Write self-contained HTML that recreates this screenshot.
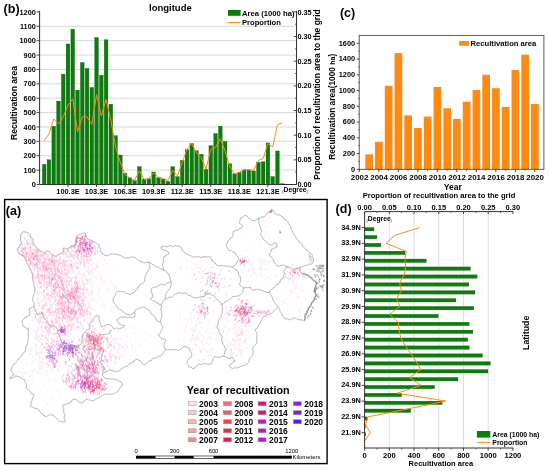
<!DOCTYPE html>
<html lang="en"><head><meta charset="utf-8"><title>Recultivation figure</title>
<style>html,body{margin:0;padding:0;background:#fff}body{width:550px;height:471px;overflow:hidden;font-family:"Liberation Sans",sans-serif}svg{display:block}</style>
</head><body>
<svg width="550" height="471" viewBox="0 0 550 471" font-family="Liberation Sans, sans-serif">
<rect width="550" height="471" fill="#fff"/>
<line x1="39.6" y1="170.12" x2="296.5" y2="170.12" stroke="#d4d4d4" stroke-width="0.9"/>
<line x1="39.6" y1="155.73" x2="296.5" y2="155.73" stroke="#d4d4d4" stroke-width="0.9"/>
<line x1="39.6" y1="141.35" x2="296.5" y2="141.35" stroke="#d4d4d4" stroke-width="0.9"/>
<line x1="39.6" y1="126.97" x2="296.5" y2="126.97" stroke="#d4d4d4" stroke-width="0.9"/>
<line x1="39.6" y1="112.58" x2="296.5" y2="112.58" stroke="#d4d4d4" stroke-width="0.9"/>
<line x1="39.6" y1="98.20" x2="296.5" y2="98.20" stroke="#d4d4d4" stroke-width="0.9"/>
<line x1="39.6" y1="83.82" x2="296.5" y2="83.82" stroke="#d4d4d4" stroke-width="0.9"/>
<line x1="39.6" y1="69.43" x2="296.5" y2="69.43" stroke="#d4d4d4" stroke-width="0.9"/>
<line x1="39.6" y1="55.05" x2="296.5" y2="55.05" stroke="#d4d4d4" stroke-width="0.9"/>
<line x1="39.6" y1="40.67" x2="296.5" y2="40.67" stroke="#d4d4d4" stroke-width="0.9"/>
<line x1="39.6" y1="26.28" x2="296.5" y2="26.28" stroke="#d4d4d4" stroke-width="0.9"/>
<rect x="42.35" y="164.36" width="3.7" height="20.14" fill="#0a7d0a" stroke="#0b5e0b" stroke-width="0.3"/>
<rect x="47.11" y="159.76" width="3.7" height="24.74" fill="#0a7d0a" stroke="#0b5e0b" stroke-width="0.3"/>
<rect x="51.87" y="126.25" width="3.7" height="58.25" fill="#0a7d0a" stroke="#0b5e0b" stroke-width="0.3"/>
<rect x="56.63" y="101.08" width="3.7" height="83.42" fill="#0a7d0a" stroke="#0b5e0b" stroke-width="0.3"/>
<rect x="61.39" y="74.18" width="3.7" height="110.32" fill="#0a7d0a" stroke="#0b5e0b" stroke-width="0.3"/>
<rect x="66.15" y="43.97" width="3.7" height="140.53" fill="#0a7d0a" stroke="#0b5e0b" stroke-width="0.3"/>
<rect x="70.91" y="29.16" width="3.7" height="155.34" fill="#0a7d0a" stroke="#0b5e0b" stroke-width="0.3"/>
<rect x="75.67" y="90.15" width="3.7" height="94.35" fill="#0a7d0a" stroke="#0b5e0b" stroke-width="0.3"/>
<rect x="80.43" y="62.53" width="3.7" height="121.97" fill="#0a7d0a" stroke="#0b5e0b" stroke-width="0.3"/>
<rect x="85.19" y="68.43" width="3.7" height="116.07" fill="#0a7d0a" stroke="#0b5e0b" stroke-width="0.3"/>
<rect x="89.95" y="87.41" width="3.7" height="97.09" fill="#0a7d0a" stroke="#0b5e0b" stroke-width="0.3"/>
<rect x="94.71" y="37.50" width="3.7" height="147.00" fill="#0a7d0a" stroke="#0b5e0b" stroke-width="0.3"/>
<rect x="99.47" y="75.19" width="3.7" height="109.31" fill="#0a7d0a" stroke="#0b5e0b" stroke-width="0.3"/>
<rect x="104.23" y="39.80" width="3.7" height="144.70" fill="#0a7d0a" stroke="#0b5e0b" stroke-width="0.3"/>
<rect x="108.99" y="104.24" width="3.7" height="80.26" fill="#0a7d0a" stroke="#0b5e0b" stroke-width="0.3"/>
<rect x="113.75" y="135.60" width="3.7" height="48.90" fill="#0a7d0a" stroke="#0b5e0b" stroke-width="0.3"/>
<rect x="118.51" y="155.01" width="3.7" height="29.49" fill="#0a7d0a" stroke="#0b5e0b" stroke-width="0.3"/>
<rect x="123.27" y="173.28" width="3.7" height="11.22" fill="#0a7d0a" stroke="#0b5e0b" stroke-width="0.3"/>
<rect x="128.03" y="177.60" width="3.7" height="6.90" fill="#0a7d0a" stroke="#0b5e0b" stroke-width="0.3"/>
<rect x="132.79" y="180.62" width="3.7" height="3.88" fill="#0a7d0a" stroke="#0b5e0b" stroke-width="0.3"/>
<rect x="137.55" y="166.66" width="3.7" height="17.84" fill="#0a7d0a" stroke="#0b5e0b" stroke-width="0.3"/>
<rect x="142.31" y="179.03" width="3.7" height="5.47" fill="#0a7d0a" stroke="#0b5e0b" stroke-width="0.3"/>
<rect x="147.07" y="178.75" width="3.7" height="5.75" fill="#0a7d0a" stroke="#0b5e0b" stroke-width="0.3"/>
<rect x="151.83" y="171.99" width="3.7" height="12.51" fill="#0a7d0a" stroke="#0b5e0b" stroke-width="0.3"/>
<rect x="156.59" y="177.74" width="3.7" height="6.76" fill="#0a7d0a" stroke="#0b5e0b" stroke-width="0.3"/>
<rect x="161.35" y="179.03" width="3.7" height="5.47" fill="#0a7d0a" stroke="#0b5e0b" stroke-width="0.3"/>
<rect x="166.11" y="181.34" width="3.7" height="3.16" fill="#0a7d0a" stroke="#0b5e0b" stroke-width="0.3"/>
<rect x="170.87" y="166.66" width="3.7" height="17.84" fill="#0a7d0a" stroke="#0b5e0b" stroke-width="0.3"/>
<rect x="175.63" y="176.59" width="3.7" height="7.91" fill="#0a7d0a" stroke="#0b5e0b" stroke-width="0.3"/>
<rect x="180.39" y="160.34" width="3.7" height="24.16" fill="#0a7d0a" stroke="#0b5e0b" stroke-width="0.3"/>
<rect x="185.15" y="149.55" width="3.7" height="34.95" fill="#0a7d0a" stroke="#0b5e0b" stroke-width="0.3"/>
<rect x="189.91" y="143.51" width="3.7" height="40.99" fill="#0a7d0a" stroke="#0b5e0b" stroke-width="0.3"/>
<rect x="194.67" y="150.70" width="3.7" height="33.80" fill="#0a7d0a" stroke="#0b5e0b" stroke-width="0.3"/>
<rect x="199.43" y="154.29" width="3.7" height="30.21" fill="#0a7d0a" stroke="#0b5e0b" stroke-width="0.3"/>
<rect x="204.19" y="169.40" width="3.7" height="15.10" fill="#0a7d0a" stroke="#0b5e0b" stroke-width="0.3"/>
<rect x="208.95" y="145.66" width="3.7" height="38.84" fill="#0a7d0a" stroke="#0b5e0b" stroke-width="0.3"/>
<rect x="213.71" y="133.58" width="3.7" height="50.92" fill="#0a7d0a" stroke="#0b5e0b" stroke-width="0.3"/>
<rect x="218.47" y="126.25" width="3.7" height="58.25" fill="#0a7d0a" stroke="#0b5e0b" stroke-width="0.3"/>
<rect x="223.23" y="141.49" width="3.7" height="43.01" fill="#0a7d0a" stroke="#0b5e0b" stroke-width="0.3"/>
<rect x="227.99" y="163.79" width="3.7" height="20.71" fill="#0a7d0a" stroke="#0b5e0b" stroke-width="0.3"/>
<rect x="232.75" y="173.86" width="3.7" height="10.64" fill="#0a7d0a" stroke="#0b5e0b" stroke-width="0.3"/>
<rect x="237.51" y="172.42" width="3.7" height="12.08" fill="#0a7d0a" stroke="#0b5e0b" stroke-width="0.3"/>
<rect x="242.27" y="170.12" width="3.7" height="14.38" fill="#0a7d0a" stroke="#0b5e0b" stroke-width="0.3"/>
<rect x="247.03" y="170.26" width="3.7" height="14.24" fill="#0a7d0a" stroke="#0b5e0b" stroke-width="0.3"/>
<rect x="251.79" y="170.98" width="3.7" height="13.52" fill="#0a7d0a" stroke="#0b5e0b" stroke-width="0.3"/>
<rect x="256.55" y="162.21" width="3.7" height="22.29" fill="#0a7d0a" stroke="#0b5e0b" stroke-width="0.3"/>
<rect x="261.31" y="161.77" width="3.7" height="22.73" fill="#0a7d0a" stroke="#0b5e0b" stroke-width="0.3"/>
<rect x="266.07" y="142.93" width="3.7" height="41.57" fill="#0a7d0a" stroke="#0b5e0b" stroke-width="0.3"/>
<rect x="270.83" y="176.59" width="3.7" height="7.91" fill="#0a7d0a" stroke="#0b5e0b" stroke-width="0.3"/>
<rect x="275.59" y="150.99" width="3.7" height="33.51" fill="#0a7d0a" stroke="#0b5e0b" stroke-width="0.3"/>
<rect x="280.35" y="183.64" width="3.7" height="0.86" fill="#0a7d0a" stroke="#0b5e0b" stroke-width="0.3"/>
<polyline points="44.2,140.8 49.0,133.8 53.7,119.0 58.5,123.9 63.2,116.8 68.0,105.2 72.8,98.8 77.5,131.7 82.3,116.8 87.0,116.8 91.8,124.3 96.6,94.5 101.3,115.8 106.1,99.4 110.8,120.0 115.6,146.6 120.4,162.7 125.1,174.8 129.9,177.8 134.6,180.2 139.4,170.9 144.2,179.5 148.9,178.7 153.7,172.7 158.4,176.9 163.2,178.7 168.0,180.5 172.7,170.4 177.5,175.8 182.2,162.7 187.0,149.1 191.8,143.3 196.5,152.7 201.3,157.5 206.0,169.1 210.8,149.2 215.6,147.5 220.3,138.8 225.1,151.0 229.8,166.9 234.6,173.7 239.4,172.2 244.1,169.4 248.9,169.6 253.6,170.5 258.4,160.5 263.2,158.4 267.9,143.5 272.7,147.1 277.4,124.8 282.2,122.9" fill="none" stroke="#ff8a12" stroke-width="1" stroke-linejoin="round"/>
<path d="M39.6 10.9V184.5H296.5V10.9" fill="none" stroke="#333" stroke-width="1"/>
<line x1="36.6" y1="184.50" x2="39.6" y2="184.50" stroke="#333" stroke-width="0.9"/>
<text x="35.8" y="187.1" font-size="7.3" font-weight="bold" text-anchor="end" fill="#000">0</text>
<line x1="36.6" y1="170.12" x2="39.6" y2="170.12" stroke="#333" stroke-width="0.9"/>
<text x="35.8" y="172.72" font-size="7.3" font-weight="bold" text-anchor="end" fill="#000">100</text>
<line x1="36.6" y1="155.73" x2="39.6" y2="155.73" stroke="#333" stroke-width="0.9"/>
<text x="35.8" y="158.33" font-size="7.3" font-weight="bold" text-anchor="end" fill="#000">200</text>
<line x1="36.6" y1="141.35" x2="39.6" y2="141.35" stroke="#333" stroke-width="0.9"/>
<text x="35.8" y="143.95" font-size="7.3" font-weight="bold" text-anchor="end" fill="#000">300</text>
<line x1="36.6" y1="126.97" x2="39.6" y2="126.97" stroke="#333" stroke-width="0.9"/>
<text x="35.8" y="129.57" font-size="7.3" font-weight="bold" text-anchor="end" fill="#000">400</text>
<line x1="36.6" y1="112.58" x2="39.6" y2="112.58" stroke="#333" stroke-width="0.9"/>
<text x="35.8" y="115.18" font-size="7.3" font-weight="bold" text-anchor="end" fill="#000">500</text>
<line x1="36.6" y1="98.20" x2="39.6" y2="98.20" stroke="#333" stroke-width="0.9"/>
<text x="35.8" y="100.8" font-size="7.3" font-weight="bold" text-anchor="end" fill="#000">600</text>
<line x1="36.6" y1="83.82" x2="39.6" y2="83.82" stroke="#333" stroke-width="0.9"/>
<text x="35.8" y="86.42" font-size="7.3" font-weight="bold" text-anchor="end" fill="#000">700</text>
<line x1="36.6" y1="69.43" x2="39.6" y2="69.43" stroke="#333" stroke-width="0.9"/>
<text x="35.8" y="72.03" font-size="7.3" font-weight="bold" text-anchor="end" fill="#000">800</text>
<line x1="36.6" y1="55.05" x2="39.6" y2="55.05" stroke="#333" stroke-width="0.9"/>
<text x="35.8" y="57.65" font-size="7.3" font-weight="bold" text-anchor="end" fill="#000">900</text>
<line x1="36.6" y1="40.67" x2="39.6" y2="40.67" stroke="#333" stroke-width="0.9"/>
<text x="35.8" y="43.27" font-size="7.3" font-weight="bold" text-anchor="end" fill="#000">1000</text>
<line x1="36.6" y1="26.28" x2="39.6" y2="26.28" stroke="#333" stroke-width="0.9"/>
<text x="35.8" y="28.88" font-size="7.3" font-weight="bold" text-anchor="end" fill="#000">1100</text>
<line x1="36.6" y1="11.90" x2="39.6" y2="11.90" stroke="#333" stroke-width="0.9"/>
<text x="35.8" y="14.5" font-size="7.3" font-weight="bold" text-anchor="end" fill="#000">1200</text>
<line x1="296.5" y1="184.50" x2="293.7" y2="184.50" stroke="#333" stroke-width="0.9"/>
<text x="297.4" y="187.1" font-size="7.3" font-weight="bold" text-anchor="start" fill="#000">0.00</text>
<line x1="296.5" y1="172.17" x2="294.9" y2="172.17" stroke="#333" stroke-width="0.7"/>
<line x1="296.5" y1="159.84" x2="293.7" y2="159.84" stroke="#333" stroke-width="0.9"/>
<text x="297.4" y="162.44" font-size="7.3" font-weight="bold" text-anchor="start" fill="#000">0.05</text>
<line x1="296.5" y1="147.51" x2="294.9" y2="147.51" stroke="#333" stroke-width="0.7"/>
<line x1="296.5" y1="135.19" x2="293.7" y2="135.19" stroke="#333" stroke-width="0.9"/>
<text x="297.4" y="137.79" font-size="7.3" font-weight="bold" text-anchor="start" fill="#000">0.10</text>
<line x1="296.5" y1="122.86" x2="294.9" y2="122.86" stroke="#333" stroke-width="0.7"/>
<line x1="296.5" y1="110.53" x2="293.7" y2="110.53" stroke="#333" stroke-width="0.9"/>
<text x="297.4" y="113.13" font-size="7.3" font-weight="bold" text-anchor="start" fill="#000">0.15</text>
<line x1="296.5" y1="98.20" x2="294.9" y2="98.20" stroke="#333" stroke-width="0.7"/>
<line x1="296.5" y1="85.87" x2="293.7" y2="85.87" stroke="#333" stroke-width="0.9"/>
<text x="297.4" y="88.47" font-size="7.3" font-weight="bold" text-anchor="start" fill="#000">0.20</text>
<line x1="296.5" y1="73.54" x2="294.9" y2="73.54" stroke="#333" stroke-width="0.7"/>
<line x1="296.5" y1="61.21" x2="293.7" y2="61.21" stroke="#333" stroke-width="0.9"/>
<text x="297.4" y="63.81" font-size="7.3" font-weight="bold" text-anchor="start" fill="#000">0.25</text>
<line x1="296.5" y1="48.89" x2="294.9" y2="48.89" stroke="#333" stroke-width="0.7"/>
<line x1="296.5" y1="36.56" x2="293.7" y2="36.56" stroke="#333" stroke-width="0.9"/>
<text x="297.4" y="39.16" font-size="7.3" font-weight="bold" text-anchor="start" fill="#000">0.30</text>
<line x1="296.5" y1="24.23" x2="294.9" y2="24.23" stroke="#333" stroke-width="0.7"/>
<line x1="296.5" y1="11.90" x2="293.7" y2="11.90" stroke="#333" stroke-width="0.9"/>
<text x="297.4" y="14.5" font-size="7.3" font-weight="bold" text-anchor="start" fill="#000">0.35</text>
<line x1="68.00" y1="184.5" x2="68.00" y2="187.0" stroke="#333" stroke-width="0.9"/>
<text x="68.0" y="193.5" font-size="7.4" font-weight="bold" text-anchor="middle" fill="#000">100.3E</text>
<line x1="96.56" y1="184.5" x2="96.56" y2="187.0" stroke="#333" stroke-width="0.9"/>
<text x="96.56" y="193.5" font-size="7.4" font-weight="bold" text-anchor="middle" fill="#000">103.3E</text>
<line x1="125.12" y1="184.5" x2="125.12" y2="187.0" stroke="#333" stroke-width="0.9"/>
<text x="125.12" y="193.5" font-size="7.4" font-weight="bold" text-anchor="middle" fill="#000">106.3E</text>
<line x1="153.68" y1="184.5" x2="153.68" y2="187.0" stroke="#333" stroke-width="0.9"/>
<text x="153.68" y="193.5" font-size="7.4" font-weight="bold" text-anchor="middle" fill="#000">109.3E</text>
<line x1="182.24" y1="184.5" x2="182.24" y2="187.0" stroke="#333" stroke-width="0.9"/>
<text x="182.24" y="193.5" font-size="7.4" font-weight="bold" text-anchor="middle" fill="#000">112.3E</text>
<line x1="210.80" y1="184.5" x2="210.80" y2="187.0" stroke="#333" stroke-width="0.9"/>
<text x="210.8" y="193.5" font-size="7.4" font-weight="bold" text-anchor="middle" fill="#000">115.3E</text>
<line x1="239.36" y1="184.5" x2="239.36" y2="187.0" stroke="#333" stroke-width="0.9"/>
<text x="239.36" y="193.5" font-size="7.4" font-weight="bold" text-anchor="middle" fill="#000">118.3E</text>
<line x1="267.92" y1="184.5" x2="267.92" y2="187.0" stroke="#333" stroke-width="0.9"/>
<text x="267.92" y="193.5" font-size="7.4" font-weight="bold" text-anchor="middle" fill="#000">121.3E</text>
<text x="282.2" y="193.2" font-size="3.8" font-weight="normal" text-anchor="start" fill="#000">(</text>
<text x="283.6" y="192.4" font-size="6.75" font-weight="bold" text-anchor="start" fill="#000">Degree</text>
<text x="306.4" y="193.2" font-size="3.8" font-weight="normal" text-anchor="start" fill="#000">)</text>
<text x="3.6" y="13" font-size="12.5" font-weight="bold" text-anchor="start" fill="#000">(b)</text>
<text x="170.4" y="11.3" font-size="9.5" font-weight="bold" text-anchor="middle" fill="#000">longitude</text>
<text x="17.2" y="103" font-size="8.6" font-weight="bold" text-anchor="middle" fill="#000" transform="rotate(-90 17.2 103)">Recultivation area</text>
<text x="319.9" y="94.5" font-size="8.5" font-weight="bold" text-anchor="middle" fill="#000" transform="rotate(-90 319.9 94.5)">Proportion of recultivation area to the grid</text>
<rect x="228" y="10" width="12.6" height="5.8" fill="#0a7d0a"/>
<text x="242" y="15.5" font-size="7.7" font-weight="bold" text-anchor="start" fill="#000">Area (1000 ha)</text>
<line x1="228" y1="22.5" x2="240.6" y2="22.5" stroke="#ff8a12" stroke-width="1"/>
<text x="242" y="24.5" font-size="7.6" font-weight="bold" text-anchor="start" fill="#000">Proportion</text>
<rect x="365.30" y="154.34" width="7.7" height="14.96" fill="#ff8a12"/>
<rect x="375.05" y="141.74" width="7.7" height="27.56" fill="#ff8a12"/>
<rect x="384.80" y="85.83" width="7.7" height="83.47" fill="#ff8a12"/>
<rect x="394.55" y="53.14" width="7.7" height="116.16" fill="#ff8a12"/>
<rect x="404.30" y="115.36" width="7.7" height="53.94" fill="#ff8a12"/>
<rect x="414.05" y="127.96" width="7.7" height="41.34" fill="#ff8a12"/>
<rect x="423.80" y="116.54" width="7.7" height="52.76" fill="#ff8a12"/>
<rect x="433.55" y="87.01" width="7.7" height="82.29" fill="#ff8a12"/>
<rect x="443.30" y="108.27" width="7.7" height="61.03" fill="#ff8a12"/>
<rect x="453.05" y="118.90" width="7.7" height="50.40" fill="#ff8a12"/>
<rect x="462.80" y="101.73" width="7.7" height="67.57" fill="#ff8a12"/>
<rect x="472.55" y="89.92" width="7.7" height="79.38" fill="#ff8a12"/>
<rect x="482.30" y="74.80" width="7.7" height="94.50" fill="#ff8a12"/>
<rect x="492.05" y="88.19" width="7.7" height="81.11" fill="#ff8a12"/>
<rect x="501.80" y="106.85" width="7.7" height="62.45" fill="#ff8a12"/>
<rect x="511.55" y="70.08" width="7.7" height="99.22" fill="#ff8a12"/>
<rect x="521.30" y="54.64" width="7.7" height="114.66" fill="#ff8a12"/>
<rect x="531.05" y="103.94" width="7.7" height="65.36" fill="#ff8a12"/>
<rect x="359.2" y="35.4" width="184.70" height="133.90" fill="none" stroke="#484848" stroke-width="0.9"/>
<line x1="356.8" y1="169.30" x2="359.2" y2="169.30" stroke="#333" stroke-width="0.9"/>
<text x="355.1" y="171.5" font-size="7.35" font-weight="bold" text-anchor="end" fill="#000">0</text>
<line x1="357.9" y1="161.43" x2="359.2" y2="161.43" stroke="#333" stroke-width="0.7"/>
<line x1="356.8" y1="153.55" x2="359.2" y2="153.55" stroke="#333" stroke-width="0.9"/>
<text x="355.1" y="155.75" font-size="7.35" font-weight="bold" text-anchor="end" fill="#000">200</text>
<line x1="357.9" y1="145.68" x2="359.2" y2="145.68" stroke="#333" stroke-width="0.7"/>
<line x1="356.8" y1="137.80" x2="359.2" y2="137.80" stroke="#333" stroke-width="0.9"/>
<text x="355.1" y="140.0" font-size="7.35" font-weight="bold" text-anchor="end" fill="#000">400</text>
<line x1="357.9" y1="129.93" x2="359.2" y2="129.93" stroke="#333" stroke-width="0.7"/>
<line x1="356.8" y1="122.05" x2="359.2" y2="122.05" stroke="#333" stroke-width="0.9"/>
<text x="355.1" y="124.25" font-size="7.35" font-weight="bold" text-anchor="end" fill="#000">600</text>
<line x1="357.9" y1="114.18" x2="359.2" y2="114.18" stroke="#333" stroke-width="0.7"/>
<line x1="356.8" y1="106.30" x2="359.2" y2="106.30" stroke="#333" stroke-width="0.9"/>
<text x="355.1" y="108.5" font-size="7.35" font-weight="bold" text-anchor="end" fill="#000">800</text>
<line x1="357.9" y1="98.43" x2="359.2" y2="98.43" stroke="#333" stroke-width="0.7"/>
<line x1="356.8" y1="90.55" x2="359.2" y2="90.55" stroke="#333" stroke-width="0.9"/>
<text x="355.1" y="92.75" font-size="7.35" font-weight="bold" text-anchor="end" fill="#000">1000</text>
<line x1="357.9" y1="82.68" x2="359.2" y2="82.68" stroke="#333" stroke-width="0.7"/>
<line x1="356.8" y1="74.80" x2="359.2" y2="74.80" stroke="#333" stroke-width="0.9"/>
<text x="355.1" y="77.0" font-size="7.35" font-weight="bold" text-anchor="end" fill="#000">1200</text>
<line x1="357.9" y1="66.93" x2="359.2" y2="66.93" stroke="#333" stroke-width="0.7"/>
<line x1="356.8" y1="59.05" x2="359.2" y2="59.05" stroke="#333" stroke-width="0.9"/>
<text x="355.1" y="61.25" font-size="7.35" font-weight="bold" text-anchor="end" fill="#000">1400</text>
<line x1="357.9" y1="51.18" x2="359.2" y2="51.18" stroke="#333" stroke-width="0.7"/>
<line x1="356.8" y1="43.30" x2="359.2" y2="43.30" stroke="#333" stroke-width="0.9"/>
<text x="355.1" y="45.5" font-size="7.35" font-weight="bold" text-anchor="end" fill="#000">1600</text>
<line x1="359.30" y1="169.3" x2="359.30" y2="172.10000000000002" stroke="#333" stroke-width="0.9"/>
<text x="359.6" y="180.2" font-size="7.9" font-weight="bold" text-anchor="middle" fill="#000">2002</text>
<line x1="369.05" y1="169.3" x2="369.05" y2="170.9" stroke="#333" stroke-width="0.7"/>
<line x1="378.80" y1="169.3" x2="378.80" y2="172.10000000000002" stroke="#333" stroke-width="0.9"/>
<text x="379.1" y="180.2" font-size="7.9" font-weight="bold" text-anchor="middle" fill="#000">2004</text>
<line x1="388.55" y1="169.3" x2="388.55" y2="170.9" stroke="#333" stroke-width="0.7"/>
<line x1="398.30" y1="169.3" x2="398.30" y2="172.10000000000002" stroke="#333" stroke-width="0.9"/>
<text x="398.6" y="180.2" font-size="7.9" font-weight="bold" text-anchor="middle" fill="#000">2006</text>
<line x1="408.05" y1="169.3" x2="408.05" y2="170.9" stroke="#333" stroke-width="0.7"/>
<line x1="417.80" y1="169.3" x2="417.80" y2="172.10000000000002" stroke="#333" stroke-width="0.9"/>
<text x="418.1" y="180.2" font-size="7.9" font-weight="bold" text-anchor="middle" fill="#000">2008</text>
<line x1="427.55" y1="169.3" x2="427.55" y2="170.9" stroke="#333" stroke-width="0.7"/>
<line x1="437.30" y1="169.3" x2="437.30" y2="172.10000000000002" stroke="#333" stroke-width="0.9"/>
<text x="437.6" y="180.2" font-size="7.9" font-weight="bold" text-anchor="middle" fill="#000">2010</text>
<line x1="447.05" y1="169.3" x2="447.05" y2="170.9" stroke="#333" stroke-width="0.7"/>
<line x1="456.80" y1="169.3" x2="456.80" y2="172.10000000000002" stroke="#333" stroke-width="0.9"/>
<text x="457.1" y="180.2" font-size="7.9" font-weight="bold" text-anchor="middle" fill="#000">2012</text>
<line x1="466.55" y1="169.3" x2="466.55" y2="170.9" stroke="#333" stroke-width="0.7"/>
<line x1="476.30" y1="169.3" x2="476.30" y2="172.10000000000002" stroke="#333" stroke-width="0.9"/>
<text x="476.6" y="180.2" font-size="7.9" font-weight="bold" text-anchor="middle" fill="#000">2014</text>
<line x1="486.05" y1="169.3" x2="486.05" y2="170.9" stroke="#333" stroke-width="0.7"/>
<line x1="495.80" y1="169.3" x2="495.80" y2="172.10000000000002" stroke="#333" stroke-width="0.9"/>
<text x="496.1" y="180.2" font-size="7.9" font-weight="bold" text-anchor="middle" fill="#000">2016</text>
<line x1="505.55" y1="169.3" x2="505.55" y2="170.9" stroke="#333" stroke-width="0.7"/>
<line x1="515.30" y1="169.3" x2="515.30" y2="172.10000000000002" stroke="#333" stroke-width="0.9"/>
<text x="515.6" y="180.2" font-size="7.9" font-weight="bold" text-anchor="middle" fill="#000">2018</text>
<line x1="525.05" y1="169.3" x2="525.05" y2="170.9" stroke="#333" stroke-width="0.7"/>
<line x1="534.80" y1="169.3" x2="534.80" y2="172.10000000000002" stroke="#333" stroke-width="0.9"/>
<text x="535.1" y="180.2" font-size="7.9" font-weight="bold" text-anchor="middle" fill="#000">2020</text>
<text x="452.8" y="190" font-size="8.5" font-weight="bold" text-anchor="middle" fill="#000">Year</text>
<text x="339.9" y="16.6" font-size="12.5" font-weight="bold" text-anchor="start" fill="#000">(c)</text>
<text x="334.6" y="106.8" font-size="8.3" font-weight="bold" text-anchor="middle" transform="rotate(-90 334.6 106.8)">Recultivation area(1000 <tspan font-size="7">ha</tspan>)</text>
<rect x="459.2" y="41" width="10" height="4.7" fill="#ff8a12"/>
<text x="470.6" y="45.5" font-size="7.64" font-weight="bold" text-anchor="start" fill="#000">Recultivation area</text>
<text x="439" y="197.6" font-size="7.62" font-weight="bold" text-anchor="middle" fill="#000">Proportion of recultivation area to the grid</text>
<text x="335.6" y="213" font-size="12.5" font-weight="bold" text-anchor="start" fill="#000">(d)</text>
<line x1="389.32" y1="211.6" x2="389.32" y2="448.0" stroke="#dadada" stroke-width="0.9"/>
<line x1="414.04" y1="211.6" x2="414.04" y2="448.0" stroke="#dadada" stroke-width="0.9"/>
<line x1="438.76" y1="211.6" x2="438.76" y2="448.0" stroke="#dadada" stroke-width="0.9"/>
<line x1="463.48" y1="211.6" x2="463.48" y2="448.0" stroke="#dadada" stroke-width="0.9"/>
<line x1="488.20" y1="211.6" x2="488.20" y2="448.0" stroke="#dadada" stroke-width="0.9"/>
<rect x="364.6" y="227.45" width="9.40" height="3.5" fill="#0a7d0a" stroke="#0b5e0b" stroke-width="0.25"/>
<rect x="364.6" y="235.34" width="12.38" height="3.5" fill="#0a7d0a" stroke="#0b5e0b" stroke-width="0.25"/>
<rect x="364.6" y="243.24" width="16.34" height="3.5" fill="#0a7d0a" stroke="#0b5e0b" stroke-width="0.25"/>
<rect x="364.6" y="251.13" width="40.47" height="3.5" fill="#0a7d0a" stroke="#0b5e0b" stroke-width="0.25"/>
<rect x="364.6" y="259.02" width="61.75" height="3.5" fill="#0a7d0a" stroke="#0b5e0b" stroke-width="0.25"/>
<rect x="364.6" y="266.91" width="105.93" height="3.5" fill="#0a7d0a" stroke="#0b5e0b" stroke-width="0.25"/>
<rect x="364.6" y="274.81" width="112.49" height="3.5" fill="#0a7d0a" stroke="#0b5e0b" stroke-width="0.25"/>
<rect x="364.6" y="282.70" width="104.32" height="3.5" fill="#0a7d0a" stroke="#0b5e0b" stroke-width="0.25"/>
<rect x="364.6" y="290.59" width="110.39" height="3.5" fill="#0a7d0a" stroke="#0b5e0b" stroke-width="0.25"/>
<rect x="364.6" y="298.49" width="91.33" height="3.5" fill="#0a7d0a" stroke="#0b5e0b" stroke-width="0.25"/>
<rect x="364.6" y="306.38" width="109.27" height="3.5" fill="#0a7d0a" stroke="#0b5e0b" stroke-width="0.25"/>
<rect x="364.6" y="314.27" width="73.63" height="3.5" fill="#0a7d0a" stroke="#0b5e0b" stroke-width="0.25"/>
<rect x="364.6" y="322.17" width="104.57" height="3.5" fill="#0a7d0a" stroke="#0b5e0b" stroke-width="0.25"/>
<rect x="364.6" y="330.06" width="108.28" height="3.5" fill="#0a7d0a" stroke="#0b5e0b" stroke-width="0.25"/>
<rect x="364.6" y="337.95" width="103.21" height="3.5" fill="#0a7d0a" stroke="#0b5e0b" stroke-width="0.25"/>
<rect x="364.6" y="345.84" width="104.57" height="3.5" fill="#0a7d0a" stroke="#0b5e0b" stroke-width="0.25"/>
<rect x="364.6" y="353.74" width="117.93" height="3.5" fill="#0a7d0a" stroke="#0b5e0b" stroke-width="0.25"/>
<rect x="364.6" y="361.63" width="125.85" height="3.5" fill="#0a7d0a" stroke="#0b5e0b" stroke-width="0.25"/>
<rect x="364.6" y="369.52" width="123.38" height="3.5" fill="#0a7d0a" stroke="#0b5e0b" stroke-width="0.25"/>
<rect x="364.6" y="377.42" width="93.43" height="3.5" fill="#0a7d0a" stroke="#0b5e0b" stroke-width="0.25"/>
<rect x="364.6" y="385.31" width="70.04" height="3.5" fill="#0a7d0a" stroke="#0b5e0b" stroke-width="0.25"/>
<rect x="364.6" y="393.20" width="37.12" height="3.5" fill="#0a7d0a" stroke="#0b5e0b" stroke-width="0.25"/>
<rect x="364.6" y="401.10" width="77.59" height="3.5" fill="#0a7d0a" stroke="#0b5e0b" stroke-width="0.25"/>
<rect x="364.6" y="408.99" width="46.16" height="3.5" fill="#0a7d0a" stroke="#0b5e0b" stroke-width="0.25"/>
<rect x="364.6" y="416.88" width="2.85" height="3.5" fill="#0a7d0a" stroke="#0b5e0b" stroke-width="0.25"/>
<rect x="364.6" y="424.77" width="0.74" height="3.5" fill="#0a7d0a" stroke="#0b5e0b" stroke-width="0.25"/>
<rect x="364.6" y="432.67" width="1.11" height="3.5" fill="#0a7d0a" stroke="#0b5e0b" stroke-width="0.25"/>
<polyline points="419.5,227.6 394.4,235.5 386.1,243.4 406.4,251.3 404.8,259.2 405.9,267.0 404.2,274.9 399.6,282.8 401.4,290.7 396.5,298.6 400.1,306.5 389.3,314.4 398.3,322.3 399.0,330.1 400.8,338.0 405.5,345.9 411.0,353.8 416.4,361.7 420.7,369.6 409.5,377.5 421.0,385.4 397.2,393.2 445.9,401.1 407.5,409.0 367.7,416.9 365.6,424.8 370.2,432.7 364.9,440.6" fill="none" stroke="#ff8a12" stroke-width="1" stroke-linejoin="round"/>
<path d="M513.4200000000001 211.6H364.6V448.0H513.4200000000001" fill="none" stroke="#333" stroke-width="1"/>
<line x1="364.60" y1="214.0" x2="364.60" y2="211.6" stroke="#333" stroke-width="0.9"/>
<text x="364.6" y="210.1" font-size="7.5" font-weight="bold" text-anchor="middle" fill="#000">0.00</text>
<line x1="364.60" y1="448.0" x2="364.60" y2="450.8" stroke="#333" stroke-width="0.9"/>
<text x="364.6" y="457.6" font-size="7.6" font-weight="bold" text-anchor="middle" fill="#000">0</text>
<line x1="376.96" y1="213.1" x2="376.96" y2="211.6" stroke="#333" stroke-width="0.7"/>
<line x1="376.96" y1="448.0" x2="376.96" y2="449.6" stroke="#333" stroke-width="0.7"/>
<line x1="389.32" y1="214.0" x2="389.32" y2="211.6" stroke="#333" stroke-width="0.9"/>
<text x="389.32" y="210.1" font-size="7.5" font-weight="bold" text-anchor="middle" fill="#000">0.05</text>
<line x1="389.32" y1="448.0" x2="389.32" y2="450.8" stroke="#333" stroke-width="0.9"/>
<text x="389.32" y="457.6" font-size="7.6" font-weight="bold" text-anchor="middle" fill="#000">200</text>
<line x1="401.68" y1="213.1" x2="401.68" y2="211.6" stroke="#333" stroke-width="0.7"/>
<line x1="401.68" y1="448.0" x2="401.68" y2="449.6" stroke="#333" stroke-width="0.7"/>
<line x1="414.04" y1="214.0" x2="414.04" y2="211.6" stroke="#333" stroke-width="0.9"/>
<text x="414.04" y="210.1" font-size="7.5" font-weight="bold" text-anchor="middle" fill="#000">0.10</text>
<line x1="414.04" y1="448.0" x2="414.04" y2="450.8" stroke="#333" stroke-width="0.9"/>
<text x="414.04" y="457.6" font-size="7.6" font-weight="bold" text-anchor="middle" fill="#000">400</text>
<line x1="426.40" y1="213.1" x2="426.40" y2="211.6" stroke="#333" stroke-width="0.7"/>
<line x1="426.40" y1="448.0" x2="426.40" y2="449.6" stroke="#333" stroke-width="0.7"/>
<line x1="438.76" y1="214.0" x2="438.76" y2="211.6" stroke="#333" stroke-width="0.9"/>
<text x="438.76" y="210.1" font-size="7.5" font-weight="bold" text-anchor="middle" fill="#000">0.15</text>
<line x1="438.76" y1="448.0" x2="438.76" y2="450.8" stroke="#333" stroke-width="0.9"/>
<text x="438.76" y="457.6" font-size="7.6" font-weight="bold" text-anchor="middle" fill="#000">600</text>
<line x1="451.12" y1="213.1" x2="451.12" y2="211.6" stroke="#333" stroke-width="0.7"/>
<line x1="451.12" y1="448.0" x2="451.12" y2="449.6" stroke="#333" stroke-width="0.7"/>
<line x1="463.48" y1="214.0" x2="463.48" y2="211.6" stroke="#333" stroke-width="0.9"/>
<text x="463.48" y="210.1" font-size="7.5" font-weight="bold" text-anchor="middle" fill="#000">0.20</text>
<line x1="463.48" y1="448.0" x2="463.48" y2="450.8" stroke="#333" stroke-width="0.9"/>
<text x="463.48" y="457.6" font-size="7.6" font-weight="bold" text-anchor="middle" fill="#000">800</text>
<line x1="475.84" y1="213.1" x2="475.84" y2="211.6" stroke="#333" stroke-width="0.7"/>
<line x1="475.84" y1="448.0" x2="475.84" y2="449.6" stroke="#333" stroke-width="0.7"/>
<line x1="488.20" y1="214.0" x2="488.20" y2="211.6" stroke="#333" stroke-width="0.9"/>
<text x="488.2" y="210.1" font-size="7.5" font-weight="bold" text-anchor="middle" fill="#000">0.25</text>
<line x1="488.20" y1="448.0" x2="488.20" y2="450.8" stroke="#333" stroke-width="0.9"/>
<text x="488.2" y="457.6" font-size="7.6" font-weight="bold" text-anchor="middle" fill="#000">1000</text>
<line x1="500.56" y1="213.1" x2="500.56" y2="211.6" stroke="#333" stroke-width="0.7"/>
<line x1="500.56" y1="448.0" x2="500.56" y2="449.6" stroke="#333" stroke-width="0.7"/>
<line x1="512.92" y1="214.0" x2="512.92" y2="211.6" stroke="#333" stroke-width="0.9"/>
<text x="512.92" y="210.1" font-size="7.5" font-weight="bold" text-anchor="middle" fill="#000">0.30</text>
<line x1="512.92" y1="448.0" x2="512.92" y2="450.8" stroke="#333" stroke-width="0.9"/>
<text x="512.92" y="457.6" font-size="7.6" font-weight="bold" text-anchor="middle" fill="#000">1200</text>
<line x1="361.6" y1="227.60" x2="364.6" y2="227.60" stroke="#333" stroke-width="0.9"/>
<text x="360.8" y="229.7" font-size="7.35" font-weight="bold" text-anchor="end" fill="#000">34.9N</text>
<line x1="361.6" y1="243.38" x2="364.6" y2="243.38" stroke="#333" stroke-width="0.9"/>
<text x="360.8" y="245.47" font-size="7.35" font-weight="bold" text-anchor="end" fill="#000">33.9N</text>
<line x1="361.6" y1="259.15" x2="364.6" y2="259.15" stroke="#333" stroke-width="0.9"/>
<text x="360.8" y="261.25" font-size="7.35" font-weight="bold" text-anchor="end" fill="#000">32.9N</text>
<line x1="361.6" y1="274.93" x2="364.6" y2="274.93" stroke="#333" stroke-width="0.9"/>
<text x="360.8" y="277.03" font-size="7.35" font-weight="bold" text-anchor="end" fill="#000">31.9N</text>
<line x1="361.6" y1="290.70" x2="364.6" y2="290.70" stroke="#333" stroke-width="0.9"/>
<text x="360.8" y="292.8" font-size="7.35" font-weight="bold" text-anchor="end" fill="#000">30.9N</text>
<line x1="361.6" y1="306.48" x2="364.6" y2="306.48" stroke="#333" stroke-width="0.9"/>
<text x="360.8" y="308.58" font-size="7.35" font-weight="bold" text-anchor="end" fill="#000">29.9N</text>
<line x1="361.6" y1="322.25" x2="364.6" y2="322.25" stroke="#333" stroke-width="0.9"/>
<text x="360.8" y="324.35" font-size="7.35" font-weight="bold" text-anchor="end" fill="#000">28.9N</text>
<line x1="361.6" y1="338.02" x2="364.6" y2="338.02" stroke="#333" stroke-width="0.9"/>
<text x="360.8" y="340.12" font-size="7.35" font-weight="bold" text-anchor="end" fill="#000">27.9N</text>
<line x1="361.6" y1="353.80" x2="364.6" y2="353.80" stroke="#333" stroke-width="0.9"/>
<text x="360.8" y="355.9" font-size="7.35" font-weight="bold" text-anchor="end" fill="#000">26.9N</text>
<line x1="361.6" y1="369.57" x2="364.6" y2="369.57" stroke="#333" stroke-width="0.9"/>
<text x="360.8" y="371.68" font-size="7.35" font-weight="bold" text-anchor="end" fill="#000">25.9N</text>
<line x1="361.6" y1="385.35" x2="364.6" y2="385.35" stroke="#333" stroke-width="0.9"/>
<text x="360.8" y="387.45" font-size="7.35" font-weight="bold" text-anchor="end" fill="#000">24.9N</text>
<line x1="361.6" y1="401.12" x2="364.6" y2="401.12" stroke="#333" stroke-width="0.9"/>
<text x="360.8" y="403.23" font-size="7.35" font-weight="bold" text-anchor="end" fill="#000">23.9N</text>
<line x1="361.6" y1="416.90" x2="364.6" y2="416.90" stroke="#333" stroke-width="0.9"/>
<text x="360.8" y="419.0" font-size="7.35" font-weight="bold" text-anchor="end" fill="#000">22.9N</text>
<line x1="361.6" y1="432.68" x2="364.6" y2="432.68" stroke="#333" stroke-width="0.9"/>
<text x="360.8" y="434.78" font-size="7.35" font-weight="bold" text-anchor="end" fill="#000">21.9N</text>
<text x="366.4" y="221.8" font-size="3.8" font-weight="normal" text-anchor="start" fill="#000">(</text>
<text x="367.8" y="220.9" font-size="6.75" font-weight="bold" text-anchor="start" fill="#000">Degree</text>
<text x="390.6" y="221.8" font-size="3.8" font-weight="normal" text-anchor="start" fill="#000">)</text>
<text x="440.9" y="466" font-size="7.5" font-weight="bold" text-anchor="middle" fill="#000">Recultivation area</text>
<text x="529" y="332.8" font-size="8.8" font-weight="bold" text-anchor="middle" fill="#000" transform="rotate(-90 529 332.8)">Latitude</text>
<rect x="476.9" y="431" width="13.4" height="6.6" fill="#0a7d0a"/>
<text x="492.3" y="437.2" font-size="6.9" font-weight="bold" text-anchor="start" fill="#000">Area (1000 ha)</text>
<line x1="476.9" y1="442.4" x2="490.3" y2="442.4" stroke="#ff8a12" stroke-width="1"/>
<text x="492.3" y="444.9" font-size="6.9" font-weight="bold" text-anchor="start" fill="#000">Proportion</text>
<g id="map">
<path d="M24.0,231.4 22.4,232.4 21.6,233.8 20.0,236.0 20.6,237.5 20.3,239.5 20.8,241.2 22.0,243.0 20.2,244.1 19.6,247.0 18.0,247.8 17.4,250.0 18.4,252.7 19.0,254.0 20.6,254.8 22.7,255.3 24.0,256.7 25.0,258.0 25.3,259.2 26.3,262.1 26.9,263.5 28.4,265.0 29.0,267.0 30.1,268.3 30.3,270.6 32.0,273.0 32.5,274.9 32.2,277.1 32.7,278.7 33.0,281.0 33.9,283.3 33.6,285.1 34.5,287.6 35.0,289.0 34.8,290.7 34.7,292.4 33.4,295.4 33.0,297.0 32.7,298.8 32.7,300.9 34.0,302.5 34.4,303.9 34.0,306.0 32.6,307.1 30.8,307.9 29.0,309.0 29.8,311.7 29.6,313.2 30.0,315.0 27.7,316.0 26.9,317.1 25.0,317.0 24.0,318.7 22.0,321.0 22.5,323.3 22.6,324.9 24.0,327.0 25.2,327.1 26.7,328.7 29.0,329.0 28.3,330.3 28.6,333.0 27.9,334.1 28.5,336.4 28.8,338.1 27.8,339.2 28.0,341.0 27.3,343.4 27.7,344.1 26.0,346.1 25.6,348.3 25.6,349.8 25.0,352.0 23.0,353.1 22.3,354.6 21.9,356.0 20.0,357.0 18.8,358.6 17.9,359.1 17.0,361.6 15.8,363.0 14.0,364.0 12.8,365.8 11.4,368.2 11.0,370.0 11.3,371.0 12.6,372.8 14.0,375.0 12.4,375.7 10.6,377.1 10.0,379.0 11.2,378.0 12.8,378.1 15.4,376.2 17.0,376.0 18.2,376.6 20.0,377.0 22.3,379.1 23.3,379.2 25.0,380.0 24.8,381.2 25.6,383.2 26.7,384.9 25.9,387.9 27.0,389.0 28.4,389.7 29.9,390.7 31.2,393.3 33.1,394.1 34.0,395.0 33.0,396.6 32.2,399.1 32.0,400.9 31.1,401.9 31.1,404.9 30.0,406.0 32.3,407.3 34.1,408.0 35.0,408.4 37.0,408.5 39.0,410.0 39.5,411.2 41.1,413.3 43.4,414.4 44.0,416.0 46.5,416.5 48.3,415.4 49.0,415.0 50.7,414.8 53.0,415.0 54.7,417.1 56.5,418.0 57.7,419.9 59.0,421.0 60.4,421.6 63.6,422.1 65.0,422.0 65.2,420.2 64.1,418.8 64.1,417.1 64.9,414.6 64.0,413.0 63.6,411.7 63.8,408.5 62.7,406.5 63.0,405.0 65.2,404.9 65.7,404.3 68.5,403.4 69.2,402.7 71.0,402.0 72.4,399.8 75.0,399.0 77.5,400.2 78.5,401.7 80.2,402.6 82.0,403.0 84.2,401.2 85.0,400.0 87.0,399.0 88.6,399.8 90.6,400.2 93.0,401.0 93.9,400.6 95.8,398.9 97.6,398.6 99.0,397.0 100.5,397.0 102.2,395.8 103.8,394.5 105.3,394.1 107.0,394.0 108.0,394.4 110.0,394.0 112.6,394.1 114.0,394.0 115.4,392.7 117.4,391.8 119.0,390.0 119.7,388.4 121.3,386.3 123.0,385.0 121.9,383.0 120.0,381.0 118.3,380.9 117.1,379.9 114.9,379.5 113.0,379.0 111.0,379.0 108.9,378.5 107.0,378.9 105.0,378.0 103.8,377.1 102.0,375.0 104.2,373.1 105.0,372.0 107.1,371.7 109.0,370.0 111.3,370.0 111.9,370.9 113.6,371.1 116.0,372.0 117.1,371.3 119.9,370.6 120.7,369.3 123.0,368.0 124.8,366.5 126.8,366.7 127.4,365.7 129.2,364.0 131.0,363.0 133.2,362.5 133.5,360.9 135.5,359.8 137.0,359.0 137.9,359.9 140.1,360.7 141.3,362.5 141.9,363.5 144.0,365.0 145.9,363.7 146.7,363.1 149.0,361.0 151.4,360.7 152.4,358.6 155.0,358.0 156.3,357.8 158.7,356.1 161.0,356.0 161.9,355.1 163.5,352.6 163.5,352.1 165.0,350.0M24.0,231.4 25.8,232.4 26.7,232.1 29.0,233.4 30.3,234.7 30.4,236.9 32.2,238.1 33.0,239.0 32.9,241.3 33.3,243.0 34.4,244.0 35.0,246.0 36.3,247.9 37.2,247.9 38.8,249.4 40.0,251.0 41.1,251.2 42.7,251.9 45.0,253.0 46.2,251.5 48.0,250.6 49.7,251.8 50.7,253.1 52.0,255.0 53.8,255.1 56.0,256.6 57.4,254.7 59.8,254.4 60.8,253.1 63.0,252.0 63.7,249.4 63.0,248.0 65.5,248.4 67.0,249.0 69.0,248.0 71.0,246.0 72.8,245.5 75.0,245.0 75.5,243.7 75.3,241.5 76.1,239.2 76.0,237.0 77.4,235.9 78.3,234.6 79.9,234.7 82.0,233.4 85.0,233.0 85.6,234.5 86.4,237.5 88.0,239.0 90.3,240.0 91.2,240.1 92.9,241.2 95.0,242.0 96.5,243.4 99.0,245.0 99.1,247.4 100.7,248.6 100.1,250.9 101.0,252.0 102.4,253.1 103.6,254.5 106.0,256.0 107.7,255.5 109.1,255.0 110.5,254.1 113.0,254.0 114.4,254.2 116.3,254.0 119.0,255.0 120.7,255.6 123.1,257.0 125.0,258.0 127.4,258.0 129.3,258.1 130.8,257.0 133.0,257.0 135.4,257.5 136.7,259.2 138.0,260.0 139.1,261.3 142.1,261.7 143.6,262.7 145.0,263.0 146.5,262.5 149.0,262.0M149.0,262.0 149.5,264.5 150.0,266.0 149.7,268.3 148.5,270.2 147.9,271.7 146.4,272.5 146.0,275.0 145.1,276.8 144.7,279.5 145.0,281.0 143.6,282.4 142.2,283.8 140.5,284.0 139.0,286.0 138.4,287.9 137.0,289.1 136.2,289.8 135.0,292.0 133.7,292.6 131.0,293.6 130.0,295.0 128.7,293.6 127.0,293.7 125.0,292.0 123.2,291.6 121.5,291.8 120.2,291.4 118.0,291.0 117.2,291.9 115.5,293.6 115.4,295.2 114.0,297.0 113.6,298.3 113.0,301.0 113.5,302.4 115.5,304.8 116.6,305.9 117.5,308.0 119.1,309.1 120.6,309.8 122.8,311.1 123.8,312.7 126.3,314.1 126.5,314.2 129.0,315.0 131.4,314.9 132.7,313.1 134.7,312.7M34.0,306.0 34.2,308.5 34.8,309.7 35.3,311.4 37.1,312.6 37.0,315.0 39.1,314.0 40.9,313.3 42.0,312.0 42.3,314.3 43.5,314.8 43.5,317.2 45.0,319.0 46.1,320.1 46.9,321.6 48.3,323.7 49.1,325.0 51.0,326.0 54.0,325.9 56.0,327.0 57.1,329.1 57.6,330.2 57.3,332.1 58.0,334.0 59.6,335.6 59.5,336.9 60.2,337.8 60.7,340.5 61.8,342.2 63.0,343.0 64.6,343.1 67.0,343.5 68.8,345.2 71.0,345.0 73.3,345.7 74.7,346.1 76.9,345.8 78.0,346.0 80.4,345.0M134.7,312.7 135.0,314.2 134.7,317.0 133.2,317.2 131.4,317.7 128.9,317.1 127.4,318.0 125.9,317.1 123.1,317.1 121.0,317.0 119.2,318.4 118.8,318.6 116.6,320.0 117.7,321.2 118.5,322.8 119.3,324.4 120.6,324.2 122.5,325.6 124.7,325.3 123.0,328.0 121.2,327.8 120.0,329.1 117.5,328.1 115.3,328.2 113.9,329.0 112.2,326.5 111.0,325.3 108.4,324.5 106.6,324.4 105.2,325.8 103.9,326.0 102.0,327.0 101.0,325.0 100.1,322.6 99.4,320.8 98.7,318.2 99.4,316.3 97.9,315.7 94.9,316.3 93.7,318.3 93.0,319.5 91.3,321.7 90.3,323.1 89.8,325.3 90.0,327.7 88.6,329.0 87.8,329.4 85.1,331.6 85.0,332.3 83.0,333.5 82.9,334.9 82.3,338.3 82.2,339.8 82.1,342.1 81.7,342.9 80.4,345.0M112.0,329.8 110.1,331.1 109.4,333.5 107.6,334.0 106.4,334.3 104.1,334.6 102.0,334.4 100.2,335.6 97.8,337.1 96.3,338.5 95.0,339.0 94.2,340.9 93.0,343.4 94.3,343.9 96.9,345.4 98.5,346.0 99.8,346.6 102.2,348.6 104.0,349.7 103.2,351.4 102.8,353.2 102.0,356.0 101.1,358.1 101.6,360.5 100.3,362.4 102.0,363.9 102.2,365.2 104.4,367.4 104.8,368.7 103.6,369.7 102.9,372.5 102.0,374.0M149.0,262.0 150.4,262.6 152.3,264.6 153.1,264.3 155.0,266.0 156.4,266.7 158.5,267.1 160.2,268.8 161.4,268.8 163.0,270.0 165.2,270.7 166.5,271.6 167.1,273.4 169.0,274.0 169.2,276.4 170.0,277.0 170.1,279.1 171.0,281.0 169.6,282.7 167.1,282.8 166.0,284.0 163.8,285.0 162.0,283.8 160.1,284.6 159.0,285.0 157.8,286.3 155.8,287.2 154.4,287.0 152.0,288.0 151.0,290.7 151.0,292.0 152.0,293.0 152.6,295.2 153.0,297.0 151.3,297.7 150.0,299.0 151.0,299.3 152.7,300.8 155.2,301.4 156.0,303.0 158.4,303.2 159.1,304.8 161.0,305.0 161.7,306.9 160.7,309.0 161.4,311.6 161.3,312.8 162.0,315.0 162.1,316.0 160.9,319.0 160.9,319.6 160.0,322.0M134.7,312.7 135.2,310.2 137.0,309.0 139.3,308.0 140.7,308.3 142.0,307.0 143.8,307.3 146.7,308.5 148.0,309.0 148.9,310.8 150.2,311.7 151.0,313.9 153.0,315.0 154.6,316.9 155.7,317.6 156.0,320.0 157.6,321.0 160.0,322.0 161.7,324.7 161.8,325.6 163.0,328.0 161.9,329.4 161.6,330.3 160.5,332.6 159.5,334.0 158.0,335.0 159.5,336.1 160.4,337.5 162.0,339.0 164.4,338.9 166.0,340.0 164.9,342.0 164.3,342.7 164.0,345.0 164.0,346.7 165.1,349.1 166.0,350.0M163.0,270.0 163.6,269.0 162.6,265.9 162.4,264.7 163.0,263.0 163.6,261.2 163.1,259.4 163.9,258.0 164.0,256.0 166.0,255.9 167.6,254.1 169.0,254.0 168.5,252.2 167.0,251.0 164.6,250.3 162.0,250.0 161.0,247.0 163.4,246.3 164.6,246.1 166.5,246.8 169.0,246.0 171.1,245.7 172.8,246.7 175.0,245.6 177.5,246.2 179.0,246.0 181.2,247.4 182.0,250.0 183.6,251.8 185.8,253.3 187.0,254.0 188.3,254.7 190.4,255.5 193.0,257.0 195.7,257.1 197.6,256.8 199.5,256.9 200.6,257.4 203.0,257.0 205.5,256.4 206.9,257.2 208.2,256.8 210.5,257.0 211.1,258.4 212.5,260.9 214.0,262.6 215.7,263.3 216.1,264.6 218.3,266.0 220.8,265.5 222.5,265.6 225.0,266.0 227.4,266.3 228.2,265.9 230.6,266.8 232.7,267.0M161.0,305.0 162.2,302.9 162.5,302.3 163.9,300.2 165.0,299.0 166.3,299.1 167.9,297.9 169.6,297.1 171.9,297.3 173.0,296.0 174.3,294.7 176.3,293.8 176.8,294.0 179.0,292.5 180.9,293.1 182.9,293.4 185.0,293.0 186.9,293.5 188.3,295.1 191.0,296.0 193.2,297.3 194.4,297.5 197.0,298.0 198.8,297.4 200.5,296.4 203.0,296.8 205.0,295.5 206.6,294.4 209.4,293.3 212.1,295.1 213.9,295.5 214.5,296.4 216.8,299.2 217.2,300.0 218.6,300.8 220.8,302.8 221.6,304.4M171.0,281.0 171.4,282.9 171.0,284.0 170.7,285.8 170.0,288.0 168.9,290.0 168.5,290.5 166.6,292.3 166.0,294.0 165.5,296.3 165.0,299.0M166.0,350.0 167.4,349.3 170.3,349.9 172.0,349.0 173.3,349.8 176.4,349.6 178.0,351.0 179.9,349.4 180.9,349.1 182.4,347.7 183.5,347.1 185.0,346.0 186.6,347.2 188.3,347.9 190.0,349.0 190.0,351.2 191.3,352.6 192.0,355.0 191.4,356.8 189.9,357.3 189.0,358.6 187.4,360.5 187.0,362.0 187.1,363.6 188.3,364.6 189.0,367.0 190.9,367.0 192.7,368.7 194.0,369.0 195.3,367.1 196.5,366.3 198.4,364.7 199.0,364.0 201.5,364.4 203.3,363.8 205.0,363.0 206.5,364.1 209.0,364.4 211.0,364.0 212.4,361.7 212.9,361.1 212.6,358.5 214.0,357.0 216.5,356.8 218.3,357.6 220.7,356.9 222.4,356.3 223.8,356.5M271.5,209.4 270.0,211.6 268.1,212.1 267.0,214.0 265.5,215.2 264.0,217.0 261.3,216.9 259.5,218.3 258.0,218.0 256.8,219.8 255.0,220.5 252.3,220.4 250.5,219.4 248.5,218.3 248.0,217.0 246.9,216.2 245.0,215.0 243.6,216.6 241.4,217.7 240.5,218.0 240.2,219.5 239.9,221.0 239.0,223.0 241.7,224.6 243.0,226.0 241.1,227.9 239.6,228.5 238.0,230.5 236.7,230.2 235.1,230.9 233.0,231.6 233.2,234.5 233.0,236.0 231.8,237.7 230.1,238.3 229.0,240.5 227.3,241.5 227.2,243.4 226.0,245.0 227.0,247.4 227.4,248.3 229.0,250.5 231.2,250.5 232.3,251.7 235.0,252.7 235.7,254.3 237.3,256.4 239.0,258.0 238.1,259.6 237.2,262.0 236.0,264.0 233.8,266.2 232.7,267.0 233.6,267.6 234.7,269.5 237.2,270.8 238.0,271.5 238.5,272.8 238.5,275.0 240.0,276.2 240.5,278.0 240.4,279.8 240.4,282.2 239.4,283.7 240.5,285.7 241.6,286.6 243.8,288.0 245.9,287.3 247.6,287.8 250.5,287.0 250.9,288.8 252.7,290.4M271.5,209.4 273.7,210.4 274.0,212.6 276.0,214.0 277.8,215.0 280.0,215.0 281.0,216.0 283.0,217.0 284.0,219.1 286.8,220.4 288.0,221.6 288.0,223.7 289.8,224.7 290.5,226.2 290.4,227.2 291.5,229.4 292.0,230.4 293.1,233.2 294.5,235.1 295.4,235.9 296.0,238.0 297.2,239.2 298.6,240.7 298.9,242.2 301.1,242.9 302.1,243.9 302.6,246.0 303.6,247.0 305.7,249.5 307.0,249.9 308.0,251.6 310.6,252.8 312.0,254.5 312.4,257.4 313.5,259.0 313.4,261.3 313.0,263.0 311.2,264.2 309.0,264.0 307.0,265.3 305.0,265.5 303.6,266.5 301.6,266.8 300.0,267.0 300.1,268.7 300.0,271.0 301.1,272.4 303.0,273.5 304.4,274.9 307.0,275.0 308.5,275.5 311.0,277.5 311.9,279.6 314.0,280.5 315.3,281.7 317.0,284.0 315.3,285.3 315.0,288.0 314.0,291.0 315.4,293.2 316.3,295.0 315.8,297.0 314.1,298.5 314.0,300.0 312.5,302.5 311.5,304.0 310.7,306.6 309.0,308.0 307.3,310.6 307.0,312.0 306.6,314.7 305.0,316.0 304.3,318.1 304.8,321.0 302.0,319.8 300.3,320.0 299.0,319.7 296.8,319.0 294.8,317.7 292.8,318.5 290.4,320.0 287.9,319.0 287.1,318.8 284.8,318.8 283.4,316.8 281.9,314.6 281.5,313.0 280.3,311.7 279.6,309.5 279.6,308.2 278.0,306.6M258.0,218.0 259.0,220.0 258.3,221.5 259.3,223.8 259.7,225.5 260.4,227.0 260.7,228.4 261.4,230.0 261.5,231.9 260.5,233.8 261.5,236.0 263.0,238.1 263.0,238.8 264.9,240.6 266.0,241.6 267.0,242.7 268.7,244.4 270.4,245.0 271.9,244.9 273.8,243.0 276.0,242.7 276.8,244.8 277.0,247.0 274.6,248.0 272.7,249.0 271.5,249.4 271.1,251.7 270.2,252.9 269.3,255.0 270.3,256.5 272.1,257.6 273.2,259.2 273.7,261.5 274.4,262.6 276.5,264.5 277.0,266.0 279.1,266.2 281.1,265.3 283.7,265.0 285.9,266.4 288.0,267.0 290.3,268.0 291.6,268.3 293.7,269.3 295.3,269.0 298.1,268.1 300.0,267.0M252.7,290.4 254.0,289.8 256.6,289.6 258.0,289.0 259.4,289.8 262.4,290.3 263.8,291.5 265.2,291.6 267.8,292.7 269.3,292.6 270.2,290.6 271.9,289.3 273.7,288.0 275.1,286.1 276.2,284.8 278.6,284.3 279.3,282.6 279.8,281.6 280.9,279.1 283.3,278.1 283.7,276.0 284.4,273.7 284.0,271.7 284.8,269.3 285.8,267.7 288.0,267.0M243.8,288.0 243.1,289.6 242.7,292.6 241.1,294.2 240.1,294.9 238.3,296.0 236.6,296.1 234.0,296.6 232.7,296.6 231.1,298.1 230.5,298.7 228.5,300.3 227.0,301.0 225.1,301.7 223.7,303.8 221.6,304.4 222.2,306.4 222.6,308.1 222.5,309.5 222.2,311.5 222.7,313.0 221.2,314.5 221.4,316.5 220.3,317.4 219.1,319.3 218.3,321.0 218.2,322.5 217.9,325.0 216.8,326.3 217.0,327.7 218.3,329.1 218.8,331.5 219.1,332.4 220.2,334.3 221.6,335.4 222.5,337.2 221.4,339.1 222.3,341.1 222.5,342.7 222.7,344.3 224.3,345.8 224.8,347.9 226.0,348.7 225.0,350.9 224.7,353.0 223.8,355.3 223.8,356.5 225.4,356.6 227.2,357.8 229.4,358.7 230.3,358.0 232.7,357.6 233.7,359.6 235.0,361.0 233.4,361.7 231.8,363.6 231.5,364.3 229.4,365.4 230.6,367.5 232.7,368.7 234.5,367.7 236.0,368.0 239.0,367.3 240.5,366.5 242.1,366.0 243.3,365.9 245.2,364.8 247.0,364.0 248.6,362.4 249.3,359.8 250.4,358.0 251.6,356.3 252.7,355.4 253.2,352.9 253.2,350.6 252.7,348.7 253.6,346.9 254.7,345.4 255.2,344.8 257.0,343.0 256.7,340.7 256.7,339.2 256.9,337.5 257.0,335.4 256.6,333.4 256.3,332.3 255.0,330.0 255.4,329.1 257.8,327.6 257.7,326.3 259.5,323.7 260.4,323.0 260.4,321.9 262.1,319.1 262.6,317.7 263.7,316.3 265.6,316.5 267.4,314.7 269.3,314.4 271.3,313.7 271.6,312.8 273.6,311.5 274.8,310.0 276.7,308.9 278.0,306.6 277.4,305.7 275.4,304.1 274.8,302.8 273.7,301.0 272.9,299.9 272.3,297.3 271.5,296.0 270.0,293.8 269.3,292.6" fill="none" stroke="#808080" stroke-width="0.55" stroke-linejoin="round"/>
<path d="M303.0,273.5 304.3,273.0 305.6,273.7 307.0,275.0 308.0,275.6 309.1,277.0 308.9,277.6 311.0,277.5 311.9,278.6 313.4,280.2 314.0,280.5 314.5,281.2 316.5,281.3 316.6,283.4 317.0,284.0 315.5,285.2 316.4,286.9 315.1,288.1 315.0,288.0 314.5,289.5 314.0,291.0 315.4,291.0 315.6,293.3 315.4,294.8 316.3,295.0 315.5,295.9 315.4,297.6 314.3,297.9 314.3,299.1 314.0,300.0 314.1,300.5 313.5,301.8 312.1,302.5 311.5,304.0 310.9,306.0 310.6,306.6 309.3,306.6 309.0,308.0 308.1,309.2 308.3,310.6 306.5,311.5 307.0,312.0 307.3,313.1 305.0,313.6 304.4,314.3 305.0,316.0 305.9,317.6 305.2,319.3 304.8,320.0M303.0,273.5 305.2,274.2 305.9,274.8 307.0,275.0 308.4,275.8 309.4,275.6 310.4,276.8 311.0,277.5 312.6,277.6 312.3,278.5 314.0,280.5 315.4,282.3 315.8,282.0 317.0,283.8 317.0,284.0 316.6,284.5 315.6,285.8 315.1,286.8 315.0,288.0 314.8,290.5 314.0,291.0 313.6,292.1 314.1,292.2 316.4,294.2 316.3,295.0 316.8,295.9 314.3,296.8 315.1,299.0 315.5,298.9 314.0,300.0 313.2,300.1 313.1,301.4 311.4,301.9 311.5,304.0 309.8,305.4 309.4,307.0 308.7,307.8 309.0,308.0 307.7,307.9 308.5,309.4 308.0,310.3 307.0,312.0 305.5,313.6 306.5,314.8 306.0,314.1 305.0,316.0 305.2,317.8 304.8,319.6 304.8,320.0" fill="none" stroke="#5a5a5a" stroke-width="0.45" opacity="0.8"/>
<path d="M322.9 270.6h0.6v0.6h-0.5zM319.1 280.9h0.9v1.3h-0.8zM321.8 268.3h0.7v0.9h-0.5zM319.3 278.9h0.8v1.3h-0.6zM320.7 273.4h1.1v0.9h-0.8zM322.7 284.4h1.2v0.9h-1.0zM322.4 265.6h1.5v0.9h-1.2zM323.5 279.8h1.3v0.9h-1.0zM322.9 275.1h1.4v1.1h-1.1zM318.2 287.3h0.6v0.8h-0.5zM320.5 275.0h1.6v0.6h-1.3zM321.5 285.7h1.2v0.8h-1.0zM321.4 286.1h1.6v0.9h-1.3zM319.1 266.2h0.8v1.3h-0.7zM316.5 288.2h1.3v1.0h-1.1zM317.1 269.4h1.5v1.0h-1.2zM321.2 266.3h0.9v1.1h-0.7zM321.8 287.3h1.1v1.1h-0.9zM313.6 268.9h1.4v0.9h-1.1zM319.0 278.7h0.8v0.6h-0.6zM314.4 289.9h1.3v1.3h-1.0zM319.7 268.1h1.2v0.6h-0.9zM322.5 264.9h1.1v1.1h-0.9zM321.5 270.8h1.6v1.3h-1.3zM319.7 285.3h0.6v0.8h-0.5zM312.7 268.7h1.2v1.4h-1.0zM323.4 275.9h0.7v1.1h-0.5zM316.6 274.3h0.9v1.1h-0.7zM323.2 280.7h1.0v1.0h-0.8zM322.7 268.2h0.8v0.6h-0.7zM318.1 270.7h1.6v1.4h-1.3zM320.9 265.2h1.3v1.5h-1.0zM315.8 265.4h1.6v1.2h-1.3zM320.1 271.8h0.7v0.9h-0.6zM316.2 270.7h0.8v0.8h-0.6zM317.3 267.7h1.4v0.8h-1.1zM319.0 264.9h1.6v1.4h-1.3zM315.9 287.1h0.7v1.4h-0.6zM320.0 285.9h1.0v1.3h-0.8zM318.0 276.4h0.8v0.7h-0.7zM316.8 282.6h1.6v0.8h-1.2zM314.0 274.7h1.5v0.9h-1.2zM318.9 268.4h1.6v0.7h-1.3zM315.0 289.4h1.3v0.8h-1.1zM315.2 276.4h0.8v0.9h-0.7zM322.5 289.8h0.7v0.9h-0.6zM308.2 315.3h.7v.7h-.7zM310.9 310.9h.7v.7h-.7zM307.1 317.4h.7v.7h-.7zM310.1 313.0h.7v.7h-.7zM316.9 295.6h.7v.7h-.7zM310.3 313.6h.7v.7h-.7zM317.6 296.8h.7v.7h-.7zM308.5 315.7h.7v.7h-.7zM312.2 306.9h.7v.7h-.7zM318.7 296.7h.7v.7h-.7zM310.8 310.5h.7v.7h-.7zM317.8 294.1h.7v.7h-.7zM312.9 307.8h.7v.7h-.7zM315.9 299.1h.7v.7h-.7z" fill="none" stroke="#555" stroke-width="0.35" opacity="0.85"/>
<clipPath id="mc"><polygon points="24.0,231.4 20.0,236.0 22.0,243.0 17.4,250.0 19.0,254.0 25.0,258.0 29.0,267.0 32.0,273.0 33.0,281.0 35.0,289.0 33.0,297.0 34.0,306.0 29.0,309.0 30.0,315.0 25.0,317.0 22.0,321.0 24.0,327.0 29.0,329.0 28.0,341.0 25.0,352.0 20.0,357.0 14.0,364.0 11.0,370.0 14.0,375.0 10.0,379.0 17.0,376.0 25.0,380.0 27.0,389.0 34.0,395.0 30.0,406.0 39.0,410.0 44.0,416.0 53.0,415.0 59.0,421.0 65.0,422.0 64.0,413.0 63.0,405.0 71.0,402.0 75.0,399.0 82.0,403.0 87.0,399.0 93.0,401.0 99.0,397.0 107.0,394.0 114.0,394.0 119.0,390.0 123.0,385.0 120.0,381.0 113.0,379.0 105.0,378.0 102.0,375.0 105.0,372.0 109.0,370.0 116.0,372.0 123.0,368.0 131.0,363.0 137.0,359.0 144.0,365.0 149.0,361.0 155.0,358.0 161.0,356.0 165.0,350.0 172.0,349.0 178.0,351.0 185.0,346.0 190.0,349.0 192.0,355.0 187.0,362.0 189.0,367.0 194.0,369.0 199.0,364.0 205.0,363.0 211.0,364.0 214.0,357.0 218.3,357.6 223.8,356.5 229.4,358.7 232.7,357.6 235.0,361.0 229.4,365.4 232.7,368.7 240.5,366.5 247.0,364.0 249.3,359.8 252.7,355.4 252.7,348.7 257.0,343.0 257.0,335.4 255.0,330.0 260.4,323.0 262.6,317.7 269.3,314.4 274.8,310.0 278.0,306.6 281.5,313.0 284.8,318.8 290.4,320.0 294.8,317.7 300.3,320.0 304.8,321.0 305.0,316.0 307.0,312.0 309.0,308.0 311.5,304.0 314.0,300.0 316.3,295.0 314.0,291.0 315.0,288.0 317.0,284.0 314.0,280.5 311.0,277.5 307.0,275.0 303.0,273.5 300.0,271.0 300.0,267.0 305.0,265.5 309.0,264.0 313.0,263.0 313.5,259.0 312.0,254.5 308.0,251.6 302.6,246.0 296.0,238.0 291.5,229.4 288.0,221.6 283.0,217.0 276.0,214.0 271.5,209.4 267.0,214.0 264.0,217.0 258.0,218.0 255.0,220.5 250.5,219.4 245.0,215.0 240.5,218.0 239.0,223.0 243.0,226.0 238.0,230.5 233.0,231.6 233.0,236.0 229.0,240.5 226.0,245.0 229.0,250.5 235.0,252.7 239.0,258.0 236.0,264.0 232.7,267.0 225.0,266.0 218.3,266.0 214.0,262.6 210.5,257.0 203.0,257.0 193.0,257.0 187.0,254.0 182.0,250.0 179.0,246.0 169.0,246.0 161.0,247.0 162.0,250.0 167.0,251.0 169.0,254.0 164.0,256.0 163.0,263.0 163.0,270.0 155.0,266.0 149.0,262.0 145.0,263.0 138.0,260.0 133.0,257.0 125.0,258.0 119.0,255.0 113.0,254.0 106.0,256.0 101.0,252.0 99.0,245.0 95.0,242.0 88.0,239.0 85.0,233.0 82.0,233.4 76.0,237.0 75.0,245.0 71.0,246.0 67.0,249.0 63.0,248.0 63.0,252.0 56.0,256.6 52.0,255.0 48.0,250.6 45.0,253.0 40.0,251.0 35.0,246.0 33.0,239.0 29.0,233.4 24.0,231.4"/></clipPath>
<filter id="bl" x="-2%" y="-2%" width="104%" height="104%"><feGaussianBlur stdDeviation="0.35"/></filter>
<g clip-path="url(#mc)" filter="url(#bl)">
<path d="M25.0 260.1l1.6 1.9M59.4 299.4l0.2 1.6M48.3 264.4l1.9 1.6M83.9 272.1l0.6 0.5M61.7 252.1l1.2 2.3M65.8 273.9l0.8 0.8M45.9 294.3l0.6 0.5M45.7 261.8l1.0 2.0M49.1 231.0l0.7 1.2M37.4 276.9l1.5 2.1M66.4 255.9l1.5 1.0M70.3 318.7l0.3 1.2M58.5 276.3l0.5 1.2M59.3 294.7l0.0 1.2M74.0 263.1l1.8 0.8M62.2 300.8l-0.3 2.3M60.8 269.1l1.3 1.3M58.1 283.3l0.1 1.0M17.2 262.3l1.0 0.5M48.8 292.6l-0.8 2.6M45.4 287.9l1.9 1.6M63.2 300.4l1.0 1.1M60.5 286.0l-0.6 1.6M62.0 300.0l1.9 1.6M72.9 269.0l0.3 2.8M36.8 249.5l0.2 1.5M45.7 271.4l0.8 1.4M66.2 300.7l-1.1 2.1M67.5 250.7l-0.6 2.4M42.6 305.3l0.4 1.3M40.6 259.4l-0.2 1.9M42.1 274.5l-0.2 1.7M62.0 259.8l0.8 1.2M28.2 235.3l1.6 0.9M59.4 291.1l0.6 1.8M63.1 277.3l0.3 1.6M55.4 284.4l0.9 0.3M35.1 255.8l1.5 1.5M72.0 293.8l1.5 0.9M38.5 257.6l0.5 1.2M65.3 289.9l0.7 1.4M40.7 248.9l-0.3 1.2M31.8 270.5l0.1 1.4M51.7 271.9l0.6 0.7M56.9 250.5l0.6 0.6M62.4 264.2l0.8 1.0M72.9 251.1l0.7 0.9M59.0 252.9l2.1 1.4M50.8 246.5l1.0 2.1M11.4 250.7l0.7 2.1M56.7 261.9l-0.8 2.5M44.2 251.4l1.8 2.1M33.7 268.5l0.0 2.4M30.2 262.6l0.2 1.7M42.9 256.1l1.2 1.0M40.3 258.5l-0.7 2.4M35.3 277.8l0.6 1.0M50.2 244.9l0.6 0.7M60.4 256.7l-0.4 2.5M21.4 290.8l-0.1 2.7M57.0 268.1l1.9 0.2M54.1 273.0l2.4 1.6M32.4 276.2l1.5 1.6M54.8 251.7l1.7 2.2M34.4 254.1l0.7 0.7M52.8 242.9l1.6 2.1M67.2 257.3l1.7 0.1M10.0 274.6l-0.1 2.5M64.9 280.9l0.5 2.8M49.4 307.2l-0.4 2.2M48.9 210.8l1.6 2.1M53.8 262.6l-0.2 1.8M60.7 278.9l1.5 1.5M55.3 299.8l0.4 0.8M36.8 297.6l0.6 1.3M45.3 258.9l-0.7 1.9M42.1 261.9l1.3 1.3M41.7 258.4l2.2 1.8M33.9 268.2l0.0 1.0M76.7 266.4l0.3 1.1M21.4 278.5l0.8 1.9M61.3 303.4l0.5 1.3M41.2 254.9l0.5 1.0M68.2 286.4l1.0 1.1M40.1 282.3l-0.0 0.9M47.9 294.9l1.1 1.8M54.6 275.4l0.5 2.7M53.9 301.8l1.1 0.8M7.9 256.9l0.2 1.8M38.1 249.5l-0.0 1.2M56.7 309.8l0.6 1.7M44.6 283.1l0.1 1.2M63.3 261.5l0.0 1.9M58.1 250.3l0.1 0.9M83.6 284.1l0.6 1.4M60.7 262.5l0.1 0.8M38.1 259.1l0.5 1.0M43.5 268.8l-0.4 1.0M30.1 294.8l0.5 2.4M62.7 261.3l2.1 1.8M81.9 308.4l0.7 1.7M77.7 281.5l-0.1 1.3M61.9 248.1l0.6 1.4M77.1 268.7l-0.4 0.9M31.9 277.1l0.5 1.2M30.9 264.1l1.1 0.9M49.3 277.3l0.2 1.1M39.0 270.6l1.1 1.6M47.9 291.8l0.1 1.4M58.0 268.9l0.5 2.2M57.3 289.5l0.8 2.6M23.4 290.9l0.8 1.1M77.2 264.4l1.4 1.6M57.7 248.8l1.1 0.7M53.7 252.3l0.7 2.0M70.7 291.9l1.6 1.5M56.9 269.3l0.3 1.1M62.7 260.5l0.5 1.3M41.7 264.2l2.2 1.2M41.3 274.3l-0.1 2.2M51.9 270.8l0.9 2.3M55.5 310.1l0.4 2.0M64.9 268.8l0.4 0.9M53.9 300.7l0.7 0.6M38.8 255.4l0.6 2.3M58.2 312.2l-0.2 1.6M67.9 248.2l0.3 2.3M30.3 273.1l0.9 2.1M39.8 287.2l-0.3 2.7M83.4 288.4l0.6 2.4M61.2 293.4l2.0 1.9M37.3 276.9l0.4 1.5M46.2 280.5l-0.0 1.4M67.3 255.1l0.8 1.0M34.5 275.9l1.7 2.1M65.9 272.6l1.1 1.6M51.2 305.5l0.8 1.8M36.9 262.1l1.4 1.0M39.1 234.6l0.5 0.9M66.9 265.1l0.4 1.3M72.2 293.0l0.2 1.7M53.0 249.0l0.4 1.1M54.6 270.2l1.2 2.6M40.7 262.6l1.9 -0.2M72.0 276.8l0.4 1.6M88.9 302.3l0.8 2.0M12.7 251.2l0.9 1.9M64.9 267.4l0.8 2.2M52.9 253.9l1.0 0.6M33.9 290.5l1.3 2.0M52.1 238.2l0.1 1.4M74.9 250.3l0.1 1.9M43.9 304.3l-0.2 1.3M46.3 244.4l1.9 1.1M71.3 231.2l1.2 1.4M48.6 262.7l-0.1 0.9M43.8 261.6l0.4 1.6M59.6 289.5l0.4 1.1M51.2 268.8l-0.1 2.5M24.5 266.8l0.6 2.1M35.1 275.7l1.3 0.7M69.0 284.1l1.1 0.3M56.0 291.0l1.1 1.6M66.7 279.9l0.4 1.7M81.8 247.4l-1.7 2.0M34.4 248.8l0.8 0.5M32.2 252.2l1.4 0.2M23.4 251.7l0.5 1.3M48.9 309.7l0.2 0.8M70.1 252.7l0.8 2.0M45.9 293.8l1.4 0.9M45.0 264.6l0.3 1.1M60.2 248.5l0.2 1.0M51.6 292.6l0.2 1.3M33.2 280.7l0.7 1.0M37.4 247.5l0.4 0.8M48.8 276.2l0.1 1.7M34.1 270.1l0.9 0.4M75.8 256.8l0.2 1.0M48.7 298.1l-1.0 1.6M48.8 259.7l0.3 2.4M55.0 265.9l0.7 1.9M61.9 283.5l2.2 0.6M54.1 236.6l1.7 0.9M70.6 239.2l0.5 1.0M39.0 278.9l2.2 1.1M68.4 277.2l-0.6 2.2M55.2 297.4l0.3 0.9M20.9 272.5l-0.2 1.0M41.4 274.5l0.2 1.7M53.2 244.7l0.2 1.0M54.7 273.2l1.3 1.5M58.6 299.5l-0.2 1.6M64.2 231.5l1.4 2.0M54.0 267.9l0.2 1.5M77.4 285.8l0.7 0.4M78.0 295.0l1.6 1.5M71.8 284.0l-0.5 1.5M58.5 245.3l0.5 0.8M70.3 284.6l0.6 0.6M66.0 281.7l1.3 1.2M44.3 272.1l0.8 1.8M51.9 273.9l0.5 1.7M59.3 286.6l-0.1 1.3M59.2 292.3l1.1 0.8M69.4 328.1l0.6 0.6M22.1 269.9l0.9 2.4M25.1 268.6l0.9 1.0M44.3 230.6l1.5 2.3M41.2 278.0l1.7 0.7M36.7 261.8l1.0 1.6M51.1 260.2l0.3 2.8M38.3 278.8l0.5 1.2M66.9 264.8l1.0 2.4M38.7 283.2l1.0 1.7M67.4 279.9l0.4 1.4M38.6 248.6l2.3 1.5M78.3 249.9l0.6 1.0M46.9 302.2l0.5 1.6M29.7 233.3l0.5 1.3M53.7 274.0l0.5 1.0M77.6 262.5l-0.0 1.2M17.3 259.6l0.4 2.1M86.8 282.9l0.5 0.8M47.4 230.2l0.4 1.4M42.7 230.5l1.3 1.7M58.7 259.8l0.6 1.3M19.2 257.8l0.1 1.5M70.0 269.7l0.6 0.6M30.7 250.2l0.5 1.2M49.8 271.8l2.7 -0.2M45.1 301.8l0.5 2.2M52.0 278.6l-0.0 1.1M85.6 288.5l-0.0 1.7M29.4 273.5l1.3 1.4M27.8 263.6l-0.3 1.3M31.8 243.1l1.6 1.8M85.9 278.2l0.7 1.2M12.8 280.6l-0.1 1.0M44.8 252.0l1.3 0.7M62.7 264.0l0.8 2.2M55.9 273.3l0.6 1.7M41.0 270.4l1.6 2.2M64.6 280.0l-0.6 2.6M55.7 272.8l0.9 2.2M83.7 223.8l0.6 1.4M48.4 248.4l0.4 1.4M47.5 271.3l1.2 1.7M36.7 302.7l0.7 0.6M63.6 311.0l1.7 1.2M60.3 282.7l0.9 1.0M60.7 276.8l-0.6 2.0M63.1 332.5l0.8 1.0M59.3 295.6l1.2 0.6M36.6 236.1l0.9 1.0M71.4 271.1l1.3 1.8M32.8 265.0l0.4 1.9M50.8 286.1l1.6 1.8M54.3 258.3l0.2 2.6M55.6 278.9l1.1 2.6M87.0 256.6l0.5 1.0M51.3 286.7l-0.2 0.9M49.6 312.9l-1.1 2.0M29.0 296.5l0.9 2.3M48.2 266.1l0.7 1.7M69.6 265.3l1.1 2.6M55.0 310.0l0.6 0.8M47.9 259.4l0.7 2.1M78.2 286.7l0.2 1.8M42.4 225.0l0.6 1.4M82.4 312.2l1.2 2.3M42.7 282.0l0.1 0.9M72.4 267.5l1.2 1.1M59.8 300.0l0.8 2.0M30.4 272.5l-1.0 2.0M46.8 267.9l1.1 0.9M26.9 310.6l1.1 1.1M81.3 305.5l-0.6 0.5M12.5 256.8l0.9 0.9M42.7 275.2l0.1 1.0M54.5 236.6l-0.6 2.6M53.8 254.8l-0.3 1.9M56.2 322.0l0.3 0.7M10.5 259.8l1.3 2.5M66.0 294.4l1.9 1.4M60.7 244.8l0.2 2.0M39.3 258.5l1.4 1.5M44.0 260.6l1.6 2.1M30.0 286.2l1.3 1.4M65.7 295.3l-0.7 1.8M31.8 275.4l1.0 2.3M65.5 274.4l1.6 1.3M51.4 228.9l0.0 2.6M63.7 284.6l0.9 0.4M64.0 278.2l0.8 0.6M64.6 240.1l0.5 0.8M28.0 327.0l1.8 1.3M61.8 276.6l1.0 0.4M38.4 257.2l0.7 1.7M62.3 253.6l0.1 0.8M68.6 289.6l0.1 0.9M72.9 257.2l0.1 1.3M52.2 261.6l0.5 2.0M30.7 245.3l0.1 2.1M50.6 275.4l1.3 1.0M67.6 256.4l-0.0 2.1M50.0 251.8l1.5 0.4M43.4 295.1l-1.4 1.8M45.1 296.7l-0.4 1.4M55.6 248.7l0.1 1.8M64.8 242.4l0.6 0.5M26.8 240.7l0.4 1.6M23.0 291.2l1.4 0.9M58.7 281.7l2.0 1.2M49.8 274.7l2.0 0.9M43.8 275.2l0.8 1.0M84.4 273.9l-0.2 1.0M63.0 258.1l1.0 1.9M38.3 251.8l0.5 0.7M11.2 221.5l2.3 0.8M54.6 259.9l0.7 1.3M58.6 284.6l0.6 1.2M53.4 285.0l2.1 1.5M43.3 267.8l0.5 1.3M59.3 237.1l1.1 2.3M72.3 286.5l0.4 1.5M36.8 282.8l1.6 1.1M78.5 272.9l-1.0 1.7M67.0 269.1l1.5 1.1M59.8 258.5l0.3 2.4M58.6 300.5l1.8 1.6M51.1 292.4l1.5 2.1M70.6 269.7l-0.9 1.9M71.5 287.6l0.2 1.1M64.4 251.0l2.2 1.1M49.0 263.0l0.8 0.9M52.5 259.2l1.0 2.5M71.1 293.0l-0.0 2.8M38.9 292.6l-0.2 1.3M40.6 279.6l0.7 2.1M84.5 265.7l0.5 1.3M67.7 250.8l-0.1 1.1M59.7 256.1l-0.1 2.5M82.9 277.4l0.4 0.7M44.2 295.3l0.7 1.0M36.8 242.4l0.5 1.6M45.0 263.5l-0.7 2.4M96.3 301.6l0.8 1.7M56.0 287.9l2.3 0.2M60.9 287.1l0.4 2.5M30.2 264.3l0.2 0.9M74.2 293.0l1.0 0.7M54.5 266.2l0.1 2.0M60.7 296.2l0.5 0.7M51.6 291.1l0.6 1.2M44.0 278.1l0.7 0.6M44.2 270.0l0.6 1.8M29.7 274.8l0.7 1.7M77.2 276.5l0.8 0.7M36.4 254.3l-0.0 1.1M87.4 299.5l-0.1 1.5M21.0 272.0l0.4 0.9M54.7 261.2l1.1 1.4M45.3 260.2l0.7 1.8M36.9 276.1l0.7 0.9M62.3 276.6l0.5 2.5M19.4 284.7l-0.0 0.8M48.6 278.9l1.9 1.2M69.3 298.4l0.5 1.0M47.8 251.0l0.1 1.4M54.7 262.8l0.7 1.8M75.4 266.4l0.8 0.4M64.0 294.2l-0.5 2.8M51.9 255.6l1.4 0.5M49.6 248.3l-1.6 2.2M47.1 253.1l0.2 0.9M66.6 299.1l0.4 2.1M67.1 272.3l0.3 1.2M51.6 322.8l0.9 2.7M20.3 246.4l1.1 2.4M40.2 244.1l1.0 0.6M31.8 281.7l1.3 1.8M50.7 281.3l2.0 2.0M40.0 303.0l-0.5 2.7M65.2 243.3l0.6 2.4M18.0 248.0l0.3 2.4M55.8 254.7l2.8 0.2M61.2 309.0l-0.8 2.3M67.8 304.8l0.3 1.2M69.0 264.2l-0.2 2.7M30.2 248.3l0.4 1.5M17.0 264.8l2.5 0.4M48.5 276.8l0.5 2.1M26.7 247.1l1.9 1.5M70.1 262.3l-0.2 0.8M60.0 240.0l0.2 1.7M51.6 283.3l0.1 1.5M33.3 276.2l0.3 1.3M38.3 253.7l0.8 2.0M43.7 271.3l1.3 2.1M63.1 280.9l1.7 2.2M69.3 285.3l1.9 1.8M43.8 289.8l2.7 -0.6M56.0 283.6l-0.4 1.0M51.6 270.1l-0.0 1.1M48.6 277.7l1.0 1.1M74.1 276.3l2.0 1.7M66.8 305.2l1.6 1.4M76.6 272.7l0.0 1.7M41.8 258.2l1.3 0.9M27.3 276.9l2.0 1.7M55.0 276.1l1.1 2.3M34.2 252.6l0.7 1.6M17.7 281.1l0.8 0.3M52.3 280.5l0.7 2.7M37.1 252.3l0.6 0.6M40.9 298.1l1.2 1.8M74.9 252.2l-0.2 1.6M72.4 256.1l1.4 2.0M51.4 304.0l1.2 1.8M55.4 281.3l0.1 2.0M25.0 275.6l0.4 1.8M55.1 259.4l0.6 2.2M70.4 278.9l0.5 1.5M86.1 242.4l0.9 0.8M88.8 259.1l0.1 1.7M65.4 274.5l1.5 0.4M77.5 256.5l0.4 2.6M29.0 293.6l0.8 2.0M47.0 293.7l-0.3 1.7M26.0 270.2l1.1 2.1M75.5 282.6l0.9 1.0M39.0 263.5l-0.9 2.2M52.2 251.1l1.6 2.2M57.2 284.0l0.8 0.4M40.4 265.4l1.9 1.6M66.8 275.3l-0.4 2.1M42.3 260.9l1.5 0.6M70.5 248.1l1.3 0.7M66.3 255.1l0.5 2.5M31.6 274.2l0.5 2.1M45.6 268.7l0.5 1.6M21.7 283.6l1.6 1.4M38.6 260.5l1.4 2.1M43.4 233.1l0.8 0.8M11.2 241.8l1.1 2.4M35.1 237.0l0.6 2.1M42.6 264.6l1.8 0.9M54.2 277.1l0.6 2.0M42.4 278.1l0.1 1.0M12.8 234.8l1.9 1.6M84.9 292.5l0.1 1.4M74.0 260.4l0.5 0.9M47.2 245.8l0.6 2.4M83.9 265.3l0.3 0.9M69.4 251.3l0.2 1.9M72.2 299.0l0.0 1.2M26.2 276.7l1.1 2.1M71.8 265.4l-0.2 1.6M58.6 262.3l1.4 0.8M30.7 277.7l-0.7 1.1M21.6 303.0l1.5 0.1M57.6 266.6l0.2 1.8M59.2 252.4l1.5 0.8M51.2 282.4l0.8 1.4M61.0 263.5l1.4 0.9M72.2 293.1l0.6 1.0M64.8 246.1l2.3 -0.0M78.8 241.7l1.0 2.0M46.9 273.3l0.9 2.4M36.5 246.6l0.7 1.1M41.7 228.9l1.4 0.2M62.6 268.8l-0.3 1.5M31.7 269.6l0.4 0.9M79.2 288.8l-0.9 1.5M52.7 276.7l2.0 1.5M60.0 273.9l1.3 1.4M51.5 270.2l0.9 2.5M23.1 231.9l2.5 1.3M50.1 240.7l-0.3 2.5M54.7 271.4l0.9 0.8M60.2 307.7l0.9 2.2M48.1 273.3l1.5 2.2M45.5 259.3l-0.3 2.6M31.3 282.7l0.5 1.1M82.5 248.1l0.6 1.9M63.2 275.3l1.4 1.0M38.4 270.0l0.7 0.6M48.4 264.4l1.5 1.0M64.1 260.7l1.5 1.5M36.9 253.8l-0.1 1.1M46.5 287.6l0.9 2.7M62.4 287.0l0.4 2.4M32.3 278.8l0.5 0.8M77.2 252.3l0.1 0.8M60.8 280.0l1.2 1.8M66.8 249.8l1.2 2.4M75.0 296.2l0.3 0.9M73.7 254.1l0.4 1.1M39.4 265.5l1.1 2.2M66.4 231.9l0.1 0.8M40.6 286.6l1.6 1.3M20.6 262.5l-0.1 0.9M56.3 262.3l-0.0 0.8M50.0 266.1l0.6 2.4M45.0 296.3l-0.0 1.2M47.0 276.9l2.1 1.9M59.3 296.3l0.1 2.5M52.9 261.2l1.0 1.2M83.6 273.3l-0.2 2.8M51.2 267.8l-0.1 0.9M59.2 244.9l1.2 1.3M40.7 291.9l-0.4 2.1M44.8 287.4l2.5 0.5M49.1 266.0l0.3 2.2M42.6 284.4l1.6 2.2M34.2 290.7l0.7 1.1M63.8 260.0l0.4 1.6M72.8 256.4l1.0 2.5M36.9 313.9l0.6 1.2M60.7 288.7l0.3 0.8M90.5 269.4l1.4 1.9M39.5 230.0l1.5 1.9M53.9 277.9l1.5 1.5M46.9 292.7l0.4 2.8M61.9 249.2l2.1 1.7M33.8 305.3l0.5 2.1M52.3 274.1l0.2 2.7M64.5 265.6l0.4 2.2M39.5 244.7l0.4 2.2M37.2 240.0l0.6 1.2M53.6 263.8l0.9 1.0M70.9 254.2l1.4 1.4M32.3 272.8l0.6 0.6M55.0 270.1l0.4 1.5M35.6 219.4l0.8 2.0M62.4 302.5l0.1 1.1M48.8 243.1l0.1 1.7M47.3 262.4l2.1 1.7M91.9 292.1l0.3 1.2M57.0 236.3l0.9 2.0M60.9 283.5l-0.5 1.0M31.5 254.9l0.7 2.0M79.5 308.7l-0.5 1.5M31.5 256.1l0.4 1.2M55.7 275.3l1.6 2.3M46.1 299.5l0.4 1.0M33.7 260.6l0.0 1.0M67.4 302.2l1.1 0.7M70.8 263.6l0.2 1.2M46.4 286.6l2.0 0.5M69.3 292.9l0.6 2.5M54.4 274.2l0.1 1.7M62.5 262.8l0.6 0.8M43.2 275.8l0.8 1.0M62.1 284.3l0.5 1.7M65.9 252.6l0.3 0.9M61.3 224.5l2.0 2.0M53.5 261.0l1.9 2.0" fill="none" stroke="#f6a9c6" stroke-width="0.5" opacity="0.55" stroke-linecap="round"/>
<path d="M48.7 276.8l-0.4 1.3M50.5 265.0l2.7 1.1M53.0 275.1l0.4 1.5M56.6 281.5l-0.7 1.5M52.6 244.3l0.4 0.8M28.7 250.1l0.8 0.3M38.8 250.0l1.1 1.7M25.8 253.5l0.2 1.2M23.0 269.8l1.6 0.3M43.2 254.4l1.3 0.4M37.0 276.4l0.3 0.9M39.6 267.2l0.6 1.1M39.0 281.7l1.5 1.9M62.8 254.6l1.2 0.7M52.2 277.8l1.9 2.5M34.1 256.9l-0.1 2.7M66.4 235.7l1.2 2.8M45.8 277.7l0.8 1.4M37.2 256.5l0.8 2.6M52.9 256.2l1.2 0.7M43.9 258.5l0.9 1.0M70.6 280.4l0.2 1.2M34.8 230.8l0.8 0.6M47.3 270.8l1.7 1.3M53.4 277.6l2.2 1.7M46.4 255.6l1.7 2.4M46.6 267.3l0.5 0.7M46.8 274.9l0.5 3.0M20.7 236.5l1.6 2.1M28.7 250.1l0.5 1.0M41.3 232.7l2.3 1.8M45.8 257.0l0.0 1.0M40.9 274.9l-0.2 1.4M50.2 275.9l1.1 1.7M38.6 262.3l1.7 0.8M22.7 241.8l0.8 0.3M40.9 255.5l1.1 0.5M51.9 248.0l1.4 0.1M52.6 261.6l0.1 3.0M43.3 253.1l2.0 1.5M51.5 258.0l0.9 1.0M49.5 272.8l0.2 0.9M45.3 253.4l0.8 2.0M48.0 249.8l1.0 1.3M38.0 274.1l0.0 0.9M35.7 255.2l-0.4 1.6M44.7 274.7l2.0 1.2M16.3 227.5l0.6 1.2M34.8 264.5l-0.8 2.1M38.3 232.1l1.0 2.0M30.8 237.7l0.9 1.2M43.0 262.3l0.6 1.1M42.1 263.8l0.3 2.4M43.4 260.9l-0.6 0.9M37.9 274.5l0.3 2.0M46.0 278.0l0.9 1.7M48.8 268.3l0.4 1.0M24.6 250.3l0.4 1.4M24.5 259.1l0.1 1.3M46.8 248.8l0.1 1.0M42.5 238.7l0.0 1.4M32.4 233.9l0.7 0.8M35.6 256.3l2.5 0.8M45.9 268.4l1.5 1.8M44.0 269.9l-0.1 1.1M33.6 255.8l1.2 0.8M46.2 259.0l1.4 2.1M49.7 273.6l1.5 1.7M36.2 275.7l1.0 1.2M33.5 253.8l0.4 1.1M61.4 265.9l2.7 1.3M37.3 248.6l0.8 1.4M36.7 258.4l0.5 0.8M37.1 263.7l0.4 2.9M37.1 267.7l0.5 1.9M33.5 264.1l2.3 0.8M41.9 267.8l0.6 1.6M36.6 266.4l1.0 2.2M36.4 234.9l1.0 2.4M42.3 277.0l-0.2 2.9M44.5 277.5l0.4 2.3M43.8 266.3l0.9 2.9M28.9 242.8l0.5 1.4M59.6 266.0l1.6 2.0M40.5 256.1l1.1 2.8M50.3 262.6l0.9 2.4M49.1 268.6l0.7 1.9M40.2 252.8l0.5 1.1M31.5 262.4l0.4 1.3M45.2 258.6l0.7 1.2M32.7 284.9l2.1 2.2M32.8 257.2l1.1 1.5M33.0 275.5l0.8 2.9M62.5 273.1l0.8 1.4M24.2 213.8l0.3 1.1M40.7 249.3l0.6 1.1M37.9 271.8l0.2 2.7M40.9 243.5l0.4 0.8M47.1 297.6l1.4 0.7M38.5 234.9l1.0 1.0M43.1 250.1l0.2 1.1M61.8 293.2l1.6 0.8M29.7 269.0l2.2 2.0M27.1 214.4l1.1 2.2M27.2 269.3l-0.3 1.7M40.7 254.0l1.6 1.3M45.9 239.0l-0.6 2.7M42.1 254.7l1.5 2.6M28.6 265.6l1.6 2.3M31.0 261.6l0.5 1.5M32.2 276.3l1.1 1.2M45.7 268.9l-0.5 1.5M44.7 261.6l0.3 0.9M36.4 252.2l1.7 0.8M56.9 270.0l1.3 1.9M43.5 247.8l1.5 2.5M42.5 279.4l0.9 0.7M21.4 254.0l1.6 1.2M51.5 277.8l1.1 0.8M42.9 275.5l1.6 2.6M40.0 267.5l1.1 1.9M35.7 278.0l0.1 1.8M53.3 270.5l1.5 0.6M57.3 285.2l0.8 2.5M66.7 269.4l0.8 1.5M19.6 230.9l0.8 1.1M48.2 257.3l1.5 1.5M30.2 268.2l-1.2 0.1M19.2 242.3l0.9 0.9M45.1 247.3l0.5 2.5M41.3 274.0l0.5 0.7M24.7 270.6l-0.1 2.9M48.7 280.9l0.8 0.9M21.7 247.3l1.3 1.3M37.0 261.4l0.1 2.0M39.3 265.1l0.7 0.5M52.6 256.2l1.0 1.0M36.6 263.6l0.5 2.2M28.0 243.0l1.9 1.7M26.8 240.6l-0.1 1.5M44.8 304.3l0.3 1.8M46.2 263.6l1.5 2.2M27.0 243.4l1.0 2.9M46.7 287.7l0.6 1.3M37.1 242.0l0.2 1.5M49.7 269.4l0.4 1.0M43.4 249.0l0.9 1.7M30.1 287.4l0.0 1.9M42.4 270.1l-0.1 1.2M46.2 266.3l0.1 2.4M35.2 253.3l0.2 1.6M31.7 249.6l0.1 1.2M49.7 295.3l1.1 2.2M44.1 282.4l2.3 1.9M43.9 253.7l-0.1 2.3M20.8 226.5l1.0 0.6M56.3 260.9l2.1 1.1M48.0 298.0l1.4 1.6M57.6 284.4l-0.4 2.6M50.1 260.5l1.5 1.2M48.1 272.9l1.4 1.5M47.4 247.4l1.3 1.5M38.0 238.0l1.2 0.8M42.3 275.7l0.0 1.7M35.7 262.6l0.2 2.7M58.8 278.0l0.4 0.8M46.1 263.5l0.9 1.0M50.0 263.1l1.6 2.0M34.4 289.1l1.8 2.3M67.0 272.1l0.4 1.8M59.3 264.8l0.8 0.7M41.7 239.1l0.8 2.1M45.5 269.4l0.4 0.8M28.2 243.1l0.4 1.0M37.0 242.4l2.4 1.9M44.9 301.6l1.3 1.3M48.2 264.4l-2.1 2.3M35.9 253.8l0.3 1.2M47.8 258.4l1.2 1.6M39.2 258.9l0.6 1.7M16.2 237.8l0.5 2.2M44.7 277.1l-0.4 3.0M24.3 261.5l0.7 1.0M41.1 282.2l0.2 0.8M27.9 267.4l1.3 2.3M38.0 278.9l1.1 1.8M53.2 302.6l2.1 2.1M32.2 256.1l1.0 1.4M62.8 259.9l2.6 0.8M53.4 254.2l0.7 1.4M32.2 258.5l1.7 2.2M36.1 266.2l-1.2 2.7M51.3 257.5l1.7 1.9M18.7 255.7l2.2 0.3M62.0 279.9l0.1 1.1M45.2 269.6l2.6 1.1M46.0 258.6l-0.5 2.3M54.9 268.0l0.8 2.3M52.0 253.5l0.2 2.9M58.3 229.6l1.7 0.6M36.2 266.2l2.3 1.6M37.5 291.8l-0.1 1.9M58.3 271.1l-0.0 1.0M51.2 255.4l0.1 2.5M46.0 249.5l0.7 2.6M52.8 260.8l-0.1 1.0M37.2 285.6l0.7 1.8M26.8 239.5l0.4 1.6M49.5 281.1l-0.2 1.1M54.3 276.3l-0.1 1.6M43.9 227.7l0.5 1.3M43.8 253.9l2.9 0.5M29.7 272.1l1.8 0.9M40.4 246.3l-0.2 1.0M29.1 255.7l1.3 0.5M31.0 276.0l0.8 2.9M35.7 255.5l1.5 0.9M47.9 268.0l1.4 1.3M35.4 249.0l0.2 2.6M35.5 259.4l2.7 0.9M61.2 262.3l1.1 1.9M48.0 254.9l1.1 1.8M44.9 263.2l0.4 1.4M27.5 251.7l1.8 2.4M45.8 285.9l1.3 1.6M40.7 240.9l1.2 1.2M43.8 275.2l1.6 2.6M43.5 262.3l0.7 2.0M62.3 278.2l-0.2 2.4M18.0 234.5l2.2 2.2M33.2 272.8l0.8 1.6M47.4 255.9l0.0 2.1M51.2 278.1l2.0 1.8M47.8 260.0l0.5 1.2M44.5 274.5l1.7 2.3M34.3 264.4l2.7 1.5M62.6 284.1l0.4 3.0M60.6 272.5l0.3 1.4M37.7 239.2l3.1 0.4M52.6 255.3l0.2 2.3M45.7 242.8l1.7 2.3M46.3 270.4l0.2 1.2M52.0 260.2l1.3 1.5M28.3 258.2l1.0 1.5M49.4 276.9l0.4 1.3M36.3 250.7l1.3 2.4M37.7 245.4l0.7 1.5M36.9 251.1l0.6 2.3M16.4 232.0l1.1 1.9M46.0 266.5l0.6 0.9M40.0 251.1l1.2 1.0M22.0 269.2l0.4 1.3M39.7 244.2l-0.9 2.3M39.8 268.2l-0.1 0.9M49.9 251.1l1.5 1.7M54.2 263.7l-0.2 1.6M47.9 254.1l1.0 0.6M30.5 250.2l-0.8 2.2M57.0 267.7l0.8 1.5M46.3 267.5l0.2 2.4M40.5 259.9l-0.2 1.3M39.3 280.6l0.7 1.7M21.0 216.5l2.2 1.9M55.1 268.4l0.5 1.9M38.6 228.8l0.7 1.3M49.4 243.8l0.3 1.9M57.6 274.2l-0.0 2.4M12.5 252.8l0.6 0.7M33.4 279.5l0.2 0.9M24.6 255.9l1.0 1.3M33.3 263.0l2.3 2.0M41.6 262.8l0.6 0.9M23.3 264.7l1.8 2.2M37.3 255.2l0.8 1.5M48.6 275.8l1.0 2.6M48.8 258.0l0.8 2.8M8.6 236.5l2.1 1.0M48.4 250.6l1.1 0.7M36.9 255.0l0.2 2.0M34.2 259.0l1.3 0.8M31.5 242.7l0.2 1.2M34.5 262.9l1.7 2.0M22.7 257.8l1.5 2.6M33.8 265.1l1.3 0.7M53.0 265.4l2.1 1.4M52.5 276.9l1.0 1.3M49.4 259.0l1.2 0.5M57.3 287.4l1.6 1.7M29.7 263.2l0.7 0.7M42.3 265.7l2.8 1.2M54.3 289.5l0.8 1.1M43.3 269.2l1.3 2.3M28.5 258.8l0.4 1.9M21.5 233.1l0.4 2.7M29.6 253.9l0.9 2.9M48.2 269.0l-0.4 1.4M27.0 251.5l-0.8 2.8M39.6 268.8l1.6 2.1M51.9 273.7l1.2 1.3M33.5 258.2l0.7 0.6M54.6 273.8l1.1 2.3M46.5 284.8l1.0 2.0M38.5 251.8l1.3 0.8M61.7 287.5l1.2 2.7M46.2 244.6l0.6 0.7M47.0 284.0l1.5 1.7M43.3 265.1l0.2 1.8M43.9 292.5l0.2 1.1M45.2 269.2l1.5 1.6M42.0 265.8l0.9 2.5M37.6 267.9l2.6 1.7M51.9 263.0l1.2 0.7M37.8 277.5l1.4 1.0M39.6 254.7l0.7 1.3M36.9 273.1l0.9 1.7M42.6 262.9l0.1 1.0M37.5 243.5l0.4 1.4M30.0 246.2l0.7 3.0M42.6 243.1l1.3 2.5M61.9 289.6l1.2 1.1M77.6 283.0l0.4 0.9M77.1 290.2l0.6 0.9M59.6 292.7l-0.3 2.8M68.4 309.2l1.6 2.6M79.6 304.7l-0.7 2.2M62.9 302.8l0.2 1.4M62.4 304.9l1.5 2.0M76.5 296.1l1.6 2.6M54.0 283.9l0.3 1.2M80.4 311.7l0.7 2.3M85.8 304.9l-0.3 1.2M62.3 297.3l-0.2 2.1M76.0 288.6l0.6 1.4M61.2 282.0l0.3 2.2M59.6 301.5l-0.6 2.7M54.3 290.4l1.6 0.3M79.6 302.7l0.8 0.7M67.7 294.2l-1.3 2.7M66.8 293.8l-0.7 1.0M71.1 280.2l-0.1 0.9M66.7 307.6l1.6 1.3M71.9 288.1l0.9 2.7M71.0 293.0l0.1 1.0M65.6 292.0l0.4 1.1M83.7 319.9l1.9 2.1M79.1 292.6l1.2 2.4M91.7 298.9l1.1 0.8M91.1 308.3l1.7 1.2M62.3 312.0l-0.5 1.8M68.3 280.9l-0.1 1.3M67.9 295.7l1.3 0.6M63.6 284.0l0.0 1.4M88.2 279.4l-0.3 2.0M85.4 295.9l-0.1 2.5M65.1 300.7l-0.4 2.5M62.1 285.7l-0.6 1.9M81.8 275.9l0.4 2.6M80.0 315.3l0.3 1.6M65.6 293.8l-0.7 1.8M65.2 310.6l0.4 1.3M71.0 299.1l1.5 2.3M57.3 293.1l-0.6 2.2M78.8 286.1l-1.5 2.2M57.0 275.5l1.3 1.3M51.6 303.4l0.1 1.8M64.9 296.9l-0.0 1.3M65.0 302.8l0.1 2.2M77.5 309.3l1.4 1.5M74.2 296.3l1.0 2.8M71.7 299.4l1.8 1.9M66.7 302.0l-0.7 1.3M66.5 286.6l1.1 1.9M62.0 292.9l0.6 2.2M66.2 289.2l0.6 2.0M69.9 311.6l0.8 0.5M71.6 301.7l-0.3 1.4M75.2 294.6l-0.2 1.9M64.0 316.1l0.1 2.5M77.3 307.0l0.3 1.1M59.1 275.1l0.7 3.0M72.5 296.0l2.0 2.2M66.1 304.9l-0.2 1.0M63.0 283.4l0.2 2.6M71.2 281.3l1.1 0.6M75.7 276.6l-0.2 2.1M60.1 303.2l1.2 0.6M66.9 309.0l0.2 2.8M71.3 295.3l1.7 1.5M55.8 292.3l0.3 1.5M61.1 275.6l0.8 1.0M59.7 297.1l0.6 1.7M69.0 313.7l-0.3 1.6M77.9 288.0l-0.8 1.3M53.0 293.1l0.3 1.1M67.5 299.7l0.7 2.4M68.0 303.2l1.2 1.3M73.1 307.8l-0.2 1.5M77.6 291.0l0.2 1.8M90.4 281.4l-0.9 2.6M62.4 313.2l0.2 1.5M64.6 269.4l-0.0 1.3M58.5 308.1l-0.1 1.5M71.0 265.2l-0.6 2.8M75.5 313.1l-0.4 1.7M74.6 305.4l1.0 2.0M68.0 291.5l-0.1 2.9M74.5 294.2l0.6 1.6M79.8 305.1l0.1 0.9M76.4 299.8l0.2 1.3M65.1 296.4l1.4 2.3M73.7 296.6l-0.5 0.8M68.2 289.9l2.1 2.1M77.5 298.4l0.4 0.9M61.5 280.2l0.9 2.3M81.5 298.9l-0.3 1.5M62.1 291.8l0.5 1.4M68.5 301.8l0.9 1.0M80.6 304.6l0.7 1.9M55.2 273.9l-0.3 1.4M87.3 287.7l-0.2 3.1M69.6 303.9l1.0 0.9M82.5 292.3l1.1 2.4M70.2 301.8l0.7 1.3M64.2 291.2l0.6 1.8M65.3 293.6l0.8 1.7M57.7 281.5l-0.1 0.9M87.6 279.5l-0.1 1.7M59.6 276.3l1.6 1.7M74.2 285.6l0.9 2.9M83.3 286.9l2.8 1.4M73.9 296.4l-1.1 2.2M82.7 282.3l1.0 2.7M82.1 280.4l0.3 1.6M68.4 269.9l1.1 2.6M68.0 307.0l-0.3 1.3M69.3 301.9l0.4 1.1M65.8 304.6l1.5 2.3M70.5 306.7l-0.4 1.7M70.3 294.2l0.6 2.7M69.9 296.3l0.6 3.0M78.2 300.4l0.6 2.4M58.9 290.5l0.7 1.2M84.8 261.6l-1.9 2.2M86.9 311.3l0.4 0.8M53.1 294.4l1.9 1.9M79.8 308.3l0.7 1.3M72.1 290.5l1.9 1.8M58.3 285.0l0.1 2.9M55.8 284.5l-1.0 1.3M78.2 301.6l-0.8 2.3M60.3 280.8l2.4 1.0M62.2 303.5l0.9 2.4M69.0 277.0l1.0 1.0M55.6 271.9l-0.1 1.1M73.2 277.3l-2.0 2.4M57.6 307.9l-0.7 2.2M91.2 292.9l0.2 1.9M80.4 295.1l-0.3 1.7M71.2 310.5l1.7 1.4M73.6 307.3l1.4 1.4M74.5 282.0l0.6 2.1M75.8 294.2l0.1 1.6M73.9 309.2l0.3 2.7M53.8 264.7l1.9 2.0M67.7 310.8l0.3 1.4M66.8 293.2l1.2 1.7M75.7 288.9l0.4 2.5M69.0 277.7l0.9 0.6M65.8 321.5l0.3 0.9M75.6 279.7l-0.7 1.3M64.3 306.2l1.0 1.9M66.8 305.2l1.4 2.2M56.8 267.5l1.1 1.8M77.2 284.4l-0.7 3.0M66.2 274.9l1.4 2.7M60.0 287.1l1.9 1.3M67.7 298.9l0.4 1.5M71.3 292.1l-1.0 2.5M73.3 298.5l0.9 1.4M77.6 316.4l1.1 1.7M57.5 268.5l2.0 1.7M75.4 291.3l1.1 1.7M76.0 297.3l1.1 1.8M64.7 263.9l0.3 0.8M82.0 300.7l1.0 2.6M64.0 308.6l-0.3 2.9M74.1 299.2l0.1 1.5M62.0 280.0l0.1 1.1M64.4 314.2l-1.0 2.5M82.7 326.2l0.7 2.6M74.9 312.9l0.8 0.7M65.3 272.4l-0.9 2.1M44.9 289.8l-1.4 2.6M69.9 316.3l-0.2 2.4M60.4 296.8l-0.2 2.1M86.8 313.1l0.6 2.8M82.6 289.2l1.2 2.3M67.7 284.3l0.4 1.0M78.1 267.8l0.1 1.2M78.4 302.1l0.5 2.8M72.9 295.3l1.0 2.1M77.0 299.6l-0.1 2.3M62.8 294.5l0.4 1.6M77.1 319.6l0.4 2.4M58.9 296.6l0.8 1.5M71.0 307.1l0.4 2.5M76.1 288.5l-1.3 1.9M62.0 299.9l-0.6 2.9M59.9 272.3l0.8 1.2M71.5 302.4l0.5 1.9M54.9 259.7l-0.6 1.8M62.4 316.7l1.2 2.6M69.2 280.6l2.2 2.0M63.4 287.3l0.7 1.9M71.4 264.3l0.2 2.9M77.0 286.7l-1.2 2.8M80.3 274.5l1.5 1.0M71.9 295.3l0.2 2.8M63.6 302.5l1.3 2.2M62.0 301.1l0.0 1.3M65.1 331.3l-0.5 1.2M66.3 307.6l-1.2 1.8M54.4 290.9l0.6 0.9M81.4 300.3l2.2 0.2M75.2 283.1l0.1 1.8M87.3 321.6l1.4 1.6M67.6 296.6l-0.3 1.9M50.5 314.6l0.5 2.1M74.6 302.0l-0.2 2.6M73.2 288.3l1.8 1.9M72.8 291.1l0.3 0.9M58.6 279.8l-0.8 1.5M61.7 296.5l0.2 2.1M64.4 289.0l0.3 0.9M69.8 294.4l1.1 0.9M64.9 300.9l-0.1 1.3M79.0 271.6l0.1 1.6M69.5 277.8l1.5 1.8M80.5 307.4l-1.8 1.5M56.8 295.3l0.4 1.0M75.8 295.7l0.6 1.8M75.6 275.9l0.9 2.3M75.1 291.2l1.5 2.0M66.3 316.8l-0.6 2.1M39.1 273.5l-0.5 0.7M70.9 293.3l1.6 1.4M78.6 289.7l-0.1 2.6M54.2 292.7l-0.9 1.7M74.2 298.1l-0.2 0.8M74.6 316.2l1.4 2.2M62.3 295.7l1.0 0.8M57.5 295.1l0.3 2.5M76.2 290.7l0.2 1.6M63.8 278.8l0.4 1.2M65.7 297.2l0.5 0.9M74.2 312.3l-0.7 1.3M55.1 295.0l-1.1 2.2M62.8 293.8l0.6 3.0M68.1 290.4l-0.1 1.3M56.5 312.8l0.1 0.9M71.3 326.6l0.3 1.4M72.8 302.3l0.1 1.7M73.7 295.0l-0.6 1.8M70.6 312.5l0.8 2.5M67.7 318.9l1.3 1.7M62.8 299.9l-0.2 1.1M68.9 323.2l-0.9 2.7M84.4 296.9l1.2 0.6M63.8 287.6l-0.4 2.3M79.1 312.6l-0.0 1.8M69.1 295.2l0.6 1.4M75.0 300.2l-0.2 2.0M87.9 307.8l-0.3 2.8M76.1 301.6l2.5 0.7M71.8 287.8l-0.4 3.0M65.3 328.6l0.3 2.9M82.1 299.5l0.9 2.6M66.2 273.2l-1.3 1.8M88.0 311.5l-0.5 2.4M69.6 316.2l0.5 1.7M70.7 308.9l1.1 2.4M55.5 304.6l0.5 1.4M68.0 290.7l0.7 2.7M62.5 284.3l-2.2 2.1M67.8 316.3l-0.2 2.5M68.4 294.8l2.2 2.0M75.6 299.1l0.5 0.8M74.8 289.4l-0.6 0.7M91.2 289.7l0.6 1.0M77.1 281.3l-0.1 2.2M76.9 295.3l0.5 1.7M102.9 304.9l-0.6 0.9M65.1 296.8l0.9 2.2M60.1 299.4l1.0 0.6M73.8 315.1l-0.7 1.6M72.0 306.1l1.1 1.5M64.3 310.9l1.1 1.7M75.9 293.7l0.4 0.8M79.3 304.2l-0.1 0.9M76.8 286.2l1.4 2.5" fill="none" stroke="#f27aa8" stroke-width="0.5" opacity="0.55" stroke-linecap="round"/>
<path d="M21.8 258.2l1.7 1.6M36.0 262.0l0.8 1.9M23.2 248.0l-0.6 2.4M32.5 252.2l-0.2 1.2M35.3 251.2l2.1 1.1M22.6 256.3l2.0 1.8M20.3 249.8l1.5 1.8M26.7 253.5l1.3 1.1M29.8 246.3l0.9 1.3M26.7 259.3l1.0 2.6M29.9 252.5l1.3 1.1M23.9 252.3l-0.6 1.1M33.6 259.0l0.9 1.5M30.2 256.6l0.7 2.5M26.4 255.3l-0.6 2.4M25.3 257.8l0.2 1.2M20.7 261.1l1.2 1.6M38.1 248.9l0.6 1.6M31.4 253.0l1.4 2.0M23.6 248.4l-0.3 2.6M30.6 263.3l0.1 1.6M37.8 270.6l0.5 2.2M30.3 247.5l-0.1 1.4M23.0 263.2l0.6 1.0M33.0 273.0l1.1 1.0M26.9 252.8l1.3 1.0M24.1 255.5l0.3 1.0M26.1 253.8l1.3 0.6M19.5 252.2l0.9 1.8M34.3 267.2l0.5 1.0M37.5 254.9l0.6 1.0M34.3 256.5l1.3 0.7M32.5 244.6l0.2 1.6M24.6 237.7l0.2 1.6M32.1 263.7l1.1 1.9M28.6 259.4l0.1 1.0M25.4 253.0l1.5 1.1M32.9 257.9l0.9 1.2M29.1 268.3l0.7 1.5M34.9 254.6l0.2 1.2M22.6 254.3l0.2 1.4M32.1 261.0l0.6 2.3M25.5 265.7l0.8 0.6M33.7 253.7l1.2 0.4M25.1 248.2l0.8 1.0M38.4 248.4l-1.0 1.0M34.1 251.4l-0.4 0.9M24.5 249.8l1.3 2.3M34.3 257.0l-0.9 2.7M20.9 247.8l0.6 1.2M33.3 255.1l0.9 1.8M29.7 258.7l0.2 1.7M30.7 260.0l-0.2 2.1M26.4 255.3l0.6 2.5M32.4 253.4l-0.2 1.8M19.9 254.0l1.4 2.2M30.6 254.5l0.7 1.3M38.2 259.6l0.4 2.4M36.4 259.0l0.8 0.5M20.7 243.9l0.1 1.6M35.8 249.3l0.2 1.1M28.7 257.3l1.3 0.9M22.8 244.3l-0.0 1.0M30.8 271.6l-0.6 2.5M19.8 243.6l1.1 1.6M34.8 256.3l0.2 1.0M23.1 248.0l0.1 1.0M21.6 242.8l0.4 2.4M30.3 263.0l-0.4 2.2M28.8 260.4l0.2 1.1M25.9 259.0l1.0 1.0M20.6 257.2l2.0 1.7M31.1 239.0l-0.2 2.4M24.1 253.9l-0.2 1.3M23.1 256.0l0.3 1.1M31.3 252.8l2.1 1.3M25.4 247.4l1.0 1.6M44.4 257.9l0.0 1.0M32.3 242.8l1.9 1.1M31.1 252.3l0.3 0.7M41.8 254.7l-0.0 2.4M37.1 259.7l1.1 2.4M21.8 250.8l1.1 2.6M26.7 242.5l0.7 1.2M24.7 259.0l2.0 1.7M24.2 247.8l0.5 1.9M24.1 257.8l1.1 2.4M24.8 246.5l0.5 2.5M32.6 249.1l1.5 0.5M37.7 249.9l0.3 0.8M28.8 247.5l0.7 1.1M28.4 255.9l0.4 2.6M21.4 250.9l0.6 1.9M29.1 274.2l1.5 2.3M21.5 262.0l0.5 1.4M36.5 257.5l-0.4 2.8M18.6 260.4l0.1 0.8M30.9 256.6l1.1 1.5M33.5 241.3l0.9 1.1M24.1 243.3l1.8 1.4M56.0 283.7l0.4 1.9M49.8 280.5l-0.8 2.7M48.4 294.4l0.9 0.8M61.3 306.8l0.9 2.9M52.8 277.5l0.0 2.2M70.6 297.9l0.0 1.6M50.8 283.4l0.3 3.0M39.8 275.7l0.9 0.5M63.3 316.8l0.5 1.0M50.7 325.5l0.0 2.1M65.1 316.9l0.3 1.4M47.5 282.5l-1.3 1.7M51.2 294.6l1.5 2.3M62.4 284.1l1.1 2.8M58.2 274.3l1.2 2.1M51.6 280.8l-0.8 2.8M57.9 279.1l0.1 1.0M66.7 280.4l0.0 1.9M43.6 305.6l0.8 1.2M35.0 287.4l1.7 1.8M38.8 274.9l0.1 2.8M68.1 308.2l0.7 0.5M59.6 303.7l-0.8 1.7M62.2 296.5l0.8 2.0M61.5 302.3l-0.0 1.1M63.3 309.0l0.4 2.8M60.3 308.0l0.7 2.1M54.9 287.2l0.5 1.7M67.0 290.8l0.4 0.9M51.8 279.5l1.3 0.0M60.3 277.2l-0.0 1.9M62.6 295.1l1.6 1.8M66.4 283.6l0.4 2.2M44.0 298.7l0.4 1.0M43.5 283.8l0.4 2.2M50.0 270.0l1.1 1.6M44.0 280.5l0.4 1.9M38.5 281.2l2.1 2.3M54.1 288.9l-0.7 2.4M62.5 305.1l2.9 1.2M58.4 263.8l0.3 2.8M61.0 296.0l-0.0 3.1M49.4 262.7l0.5 2.2M60.8 273.4l0.2 0.8M54.8 281.9l0.6 1.9M49.6 279.5l2.7 0.7M59.4 270.4l-0.3 2.1M62.4 308.2l0.3 0.8M64.9 294.3l0.6 0.7M58.5 303.2l-0.7 2.6M57.7 270.0l0.0 1.8M41.9 306.9l-0.8 2.8M48.9 284.7l0.5 0.8M53.5 266.1l1.1 2.0M65.0 297.5l0.5 0.7M55.5 296.5l-0.6 0.8M53.2 286.2l0.7 1.7M68.1 295.7l0.4 2.7M44.3 290.7l0.3 1.0M54.3 261.8l0.5 1.9M71.0 288.8l0.1 0.8M61.2 281.1l0.4 2.6M55.0 310.6l1.2 2.7M57.2 282.8l0.7 2.4M53.0 261.5l-0.7 0.7M52.8 288.9l2.7 1.6M47.1 262.6l0.7 1.5M49.8 299.6l0.1 2.4M55.9 298.8l1.7 1.3M51.2 296.9l0.0 1.0M59.3 286.8l0.6 2.4M47.4 267.3l0.6 1.2M40.4 282.5l1.1 1.8M53.2 292.9l-0.1 1.2M50.7 294.9l0.6 1.3M52.6 285.6l1.1 1.0M58.4 300.2l1.4 1.8M40.8 276.8l-1.3 1.0M55.7 286.8l0.6 0.9M63.6 303.4l-0.2 1.1M59.7 294.8l0.6 1.6M55.5 285.8l0.5 1.4M56.9 272.2l0.2 1.6M68.5 283.5l0.9 2.3M56.1 288.0l-1.1 1.5M66.9 307.2l-0.1 2.9M58.2 276.9l0.7 1.4M42.9 274.3l1.4 1.8M51.4 288.8l0.9 2.6M56.6 260.1l0.3 1.0M49.2 281.5l0.3 2.8M52.0 260.5l0.0 1.7M46.6 268.1l0.8 1.1M54.3 289.9l0.7 2.6M57.1 280.5l-0.6 2.2M40.8 285.7l0.5 2.5M64.6 286.9l0.1 1.2M62.5 288.7l1.3 2.6M53.9 289.3l-0.5 2.0M58.2 284.9l1.0 1.9M53.9 287.0l1.4 1.7M48.3 284.9l2.0 2.2M50.3 259.1l1.7 2.6M50.1 268.4l2.2 1.2M50.3 311.5l0.6 1.2M46.4 281.4l0.4 1.3M49.1 282.8l1.4 1.2M44.7 265.7l-1.4 2.8M54.3 283.3l-0.6 1.9M59.8 277.3l-0.2 1.6M52.2 273.5l0.4 1.0M52.7 286.4l0.8 0.9M51.2 268.1l0.6 1.6M56.5 286.6l-0.0 2.1M51.5 278.5l0.1 2.5M43.6 290.3l0.1 0.8M55.0 274.8l0.0 1.7M60.8 279.5l-0.6 2.1M45.4 265.3l1.2 1.1M73.8 286.5l1.0 1.8M53.6 285.0l1.6 1.6M62.4 314.9l0.8 1.5M69.4 281.8l-0.0 2.0M58.0 283.0l0.4 1.3M45.3 266.2l-0.1 2.5M53.6 278.3l2.2 1.9M54.5 254.3l0.3 1.9M57.5 292.6l0.2 2.0M60.6 296.7l1.9 2.0M63.8 295.6l0.1 1.9" fill="none" stroke="#e8206f" stroke-width="0.45" opacity="0.45" stroke-linecap="round"/>
<path d="M80.4 313.4l1.1 2.0M63.7 289.2l1.0 3.4M74.7 304.3l0.6 1.5M81.2 308.1l1.6 2.0M78.4 309.6l-0.9 2.2M74.0 318.1l-2.9 1.9M68.5 310.3l-0.0 2.2M77.5 316.3l-0.6 3.3M83.9 319.3l0.8 2.0M81.3 305.7l0.3 2.3M70.4 295.4l-0.9 0.5M72.5 297.5l2.6 1.4M81.8 302.3l-1.1 1.2M77.6 300.8l1.1 0.5M83.5 288.6l-0.4 1.0M67.5 300.1l0.7 1.0M70.4 291.9l-1.5 2.4M77.6 302.8l0.3 1.1M87.9 323.9l1.3 3.0M84.6 311.0l3.0 -0.2M77.6 295.4l0.5 1.5M82.3 308.9l0.4 2.6M79.0 326.5l0.2 1.7M77.4 319.9l-0.1 1.3M60.7 289.7l0.4 0.9M67.1 292.7l1.2 2.8M75.1 302.5l-0.5 1.1M79.3 304.0l1.7 2.6M75.6 312.9l0.5 1.5M63.0 294.1l1.3 1.5M80.6 313.5l0.3 1.4M69.7 296.5l0.4 2.2M72.3 291.7l0.5 2.5M76.1 289.5l0.7 2.6M77.3 287.1l0.3 1.5M73.6 288.3l0.4 1.9M89.6 317.0l1.2 1.2M83.6 304.7l-0.3 1.0M67.0 295.7l-0.7 2.7M79.4 307.4l1.3 2.8M68.9 306.7l-0.0 1.7M83.8 301.3l-0.8 2.4M73.3 310.3l1.0 2.1M75.6 311.0l0.7 3.4M74.3 296.0l-0.2 2.6M68.2 300.5l0.5 3.4M75.1 315.5l0.1 2.6M69.3 291.2l0.9 0.6M77.9 297.0l0.3 1.3M79.9 292.0l0.6 1.3M63.7 311.7l1.9 2.5M81.6 304.8l1.0 3.0M79.6 309.7l0.6 0.8M82.8 303.7l2.7 2.3M68.7 311.6l-0.3 1.4M74.2 305.2l-1.0 2.0M75.2 286.6l2.5 1.8M87.2 307.2l-0.7 2.3M74.7 313.9l-0.2 1.4M82.1 297.5l1.8 2.8M73.8 291.8l1.5 1.6M75.8 310.3l0.4 2.9M75.9 285.0l0.1 1.2M77.5 326.4l0.2 1.7M71.7 310.6l-0.3 3.3M74.8 296.9l1.5 2.4M69.3 294.7l0.9 1.2M73.1 295.3l-0.3 1.8M66.1 285.6l0.5 2.2M70.9 309.3l0.3 1.0M80.1 321.3l0.5 2.7M84.2 315.1l-0.1 1.7M64.7 288.6l1.0 1.4M76.9 288.7l-0.0 3.0M69.8 292.8l-0.1 1.2M79.5 288.3l2.0 1.1M73.1 309.0l-0.0 2.8M67.8 298.7l0.1 1.7M81.5 285.9l-2.2 2.5M79.4 297.7l-0.4 2.3M80.2 309.8l-0.2 3.5M73.8 290.6l0.1 1.7M76.1 311.0l0.9 0.7M82.4 294.3l1.3 1.5M75.2 279.8l1.1 3.2M74.8 301.2l1.6 2.6M68.7 304.7l0.3 3.4M72.1 309.2l-0.1 3.6M85.0 310.3l-0.1 2.9M82.9 312.9l-0.7 3.5M68.3 316.4l1.0 2.2M77.0 283.2l0.8 2.5M71.0 296.0l-0.5 3.2M74.6 291.8l0.1 3.6M75.4 298.0l0.1 3.5M72.6 308.2l2.3 2.3M71.5 290.1l-0.0 3.5M75.9 312.1l0.0 2.3M74.5 281.9l0.4 2.1M89.3 306.1l0.1 1.3M73.2 296.9l0.6 1.6M67.6 309.4l1.2 1.8M76.5 291.6l0.8 3.4M77.0 304.7l1.4 2.0M85.1 313.0l0.0 1.9M78.8 295.5l0.8 2.0M81.2 296.0l-1.0 1.8M72.3 292.3l1.6 1.5M70.6 294.6l0.6 1.0M78.2 303.1l-0.1 1.5" fill="none" stroke="#dd3a98" stroke-width="0.5" opacity="0.5" stroke-linecap="round"/>
<path d="M94.3 241.0l-1.2 0.4M82.5 247.5l-0.2 1.1M77.5 240.9l-2.1 0.7M75.8 244.1l-0.5 2.1M88.9 235.7l-1.5 0.5M83.3 241.5l-1.6 1.8M82.2 237.6l-1.0 0.9M83.4 247.1l1.4 1.7M78.2 254.4l-0.6 2.7M85.1 243.3l-1.0 0.2M85.0 237.6l-0.0 1.7M80.6 244.1l-0.7 1.8M84.5 250.2l-0.0 2.6M78.9 250.0l-0.7 1.1M82.7 238.3l0.0 1.5M88.1 249.6l-1.0 1.6M79.8 244.3l-1.7 1.7M81.3 252.1l-0.7 0.4M89.5 243.3l-0.8 1.6M90.0 244.4l0.1 1.9M82.0 256.3l-1.3 1.5M79.8 246.5l-1.1 0.4M82.3 236.7l-1.5 1.3M83.8 245.5l-1.6 1.7M89.5 247.9l-0.5 1.0M82.6 235.9l-0.4 2.8M72.1 255.0l-0.9 1.5M85.6 243.2l-0.3 2.5M85.4 242.5l-1.0 1.7M81.8 253.1l-0.2 1.1M78.5 237.6l0.8 1.1M84.1 238.0l-1.9 1.9M77.4 236.7l-0.6 2.6M98.3 247.5l-1.0 1.1M74.2 245.8l0.4 1.7M73.6 246.4l0.9 1.9M80.9 243.6l-0.8 1.6M89.8 254.0l-0.6 0.7M78.6 248.8l-1.8 1.2M76.0 245.0l-1.6 1.1M84.7 237.2l-0.5 1.6M84.2 241.1l-2.0 1.0M82.3 237.2l-0.3 0.9M87.9 250.4l-1.5 2.1M81.4 242.7l0.7 1.6M87.5 242.3l0.4 1.4M85.3 239.3l-1.4 2.2M77.9 245.5l0.3 1.2M87.3 239.2l-1.5 1.1M97.4 251.5l0.8 1.1M79.9 242.7l-0.7 1.0M86.0 255.5l-1.3 1.3M86.7 241.2l-0.6 1.3M90.4 242.9l-0.3 1.2M86.1 235.5l-0.3 0.9M80.2 240.5l0.7 2.2M77.3 237.6l-0.3 1.1M85.6 233.2l-0.1 0.9M91.2 234.2l-1.1 1.6M88.0 234.6l-0.2 1.3M83.5 235.7l-1.1 1.9M84.9 255.4l-0.1 1.1M91.3 253.7l-1.1 2.5M95.7 253.3l-1.1 0.5M83.8 249.7l-0.7 0.4M86.0 249.3l-0.0 0.9M85.1 244.0l0.2 2.8M87.1 242.1l-2.1 1.7M81.2 238.7l-0.5 1.3M83.0 247.8l-0.2 2.0M96.6 238.7l-0.1 1.0M90.2 240.4l-1.0 1.8M95.7 240.7l-1.5 1.3M85.3 248.9l-2.1 1.1M88.6 236.1l-0.3 1.4M77.5 242.0l-1.9 1.4M87.1 244.9l-1.1 0.7M83.3 248.3l0.4 2.6M92.7 247.6l-0.2 1.9M96.3 250.6l-1.6 1.4M92.1 237.9l-0.6 1.2M92.3 242.9l-0.7 0.6M75.1 236.3l-2.3 1.2M86.2 243.3l-1.1 2.3M94.9 246.2l0.1 2.7M97.5 230.2l0.6 2.7M81.3 239.5l-0.1 1.8M80.3 242.0l-1.0 0.8M76.5 237.2l0.4 1.8M78.4 237.1l0.5 0.6M88.2 248.0l-0.7 0.6M79.0 254.0l-0.5 0.7M73.4 242.5l-0.5 2.7M77.9 246.4l0.6 2.7M81.5 243.4l-0.6 1.2M89.1 254.0l-1.1 0.6M80.4 246.1l-1.3 0.7M82.0 242.6l-1.4 2.1M77.9 238.9l-0.1 1.0M76.2 250.1l-1.2 1.5M87.4 244.5l-0.4 0.8M80.8 243.6l-2.1 1.5M89.9 248.4l-0.1 1.9M91.7 247.1l-1.1 1.1M81.3 248.2l-0.5 1.6M77.5 249.8l-0.8 2.5M76.7 251.2l-0.7 1.7M86.5 242.6l-1.2 1.7M75.2 238.8l-0.5 1.7M79.7 251.0l0.2 1.6M90.4 235.1l0.1 1.4M81.9 247.2l-0.9 0.5M72.4 243.0l-1.8 2.0M99.2 237.2l-1.1 2.6M85.9 244.9l-0.7 0.5M81.0 250.1l-1.2 1.9M86.8 243.9l-0.6 0.8M89.0 253.5l-2.4 0.9M84.6 249.6l0.1 1.4M85.9 242.4l-0.6 0.6M79.3 251.3l-0.0 0.9M88.5 251.4l-0.1 1.1M76.6 241.4l-1.0 0.7M91.9 240.9l-0.7 2.1M79.3 250.5l0.1 1.8M80.3 238.1l-0.2 2.3M84.8 239.8l-0.3 0.7M73.8 237.5l-1.2 1.9M93.2 240.7l-0.2 1.7M75.9 239.6l0.9 2.5M83.6 242.4l-0.3 1.3M79.8 247.8l-0.0 1.8M102.6 252.0l-0.0 2.2M87.5 243.9l-1.6 1.4M79.4 250.4l0.2 1.4M86.5 254.6l-0.2 1.6M89.6 244.7l1.3 2.3M85.9 240.8l-1.0 1.1M85.0 242.2l-1.1 1.4M86.6 252.3l-0.7 1.5M92.5 247.3l-1.3 2.2M89.5 233.0l-0.5 1.3M88.4 256.5l-2.1 0.4M82.6 242.7l0.9 1.1M89.0 251.8l-0.7 0.6M93.6 246.5l-1.0 2.2M80.5 242.5l-1.0 1.6M86.3 247.1l-1.0 0.5M80.9 238.6l-1.1 -0.0M85.5 249.7l-2.2 1.2M93.9 237.2l-0.3 1.4M86.1 245.8l0.7 2.2M82.9 245.2l-0.9 0.9M92.2 239.5l-0.4 1.0M84.4 239.2l-1.2 2.1M86.2 235.2l-1.0 0.6M86.2 244.7l-0.9 2.3M89.6 242.8l0.3 1.8M75.7 235.4l0.0 2.4M82.6 243.4l-0.2 1.9M87.9 242.2l-0.8 1.1M89.1 232.6l-0.9 1.5M85.8 234.0l-0.9 2.2M80.5 245.0l0.2 2.8M79.7 240.1l-1.1 1.6M71.6 246.0l-1.0 1.9M76.9 240.8l-0.6 2.8M79.3 237.4l-1.0 0.6M89.2 245.0l0.3 1.3M74.4 240.4l-1.2 1.7" fill="none" stroke="#dd3a98" stroke-width="0.6" opacity="0.6" stroke-linecap="round"/>
<path d="M87.4 248.1l0.1 1.1M87.0 247.8l0.4 0.8M83.6 250.6l-0.3 1.3M91.9 251.5l0.3 1.5M89.4 249.1l-0.2 0.9M86.4 242.3l-0.5 0.9M87.2 248.0l0.0 0.9M89.3 248.2l-0.4 1.3M89.4 245.0l0.0 0.5M90.9 250.4l-0.4 0.8M89.6 241.2l-0.5 0.1M88.4 248.9l-0.7 0.8M86.9 250.4l-0.3 0.8M91.9 247.4l0.0 1.1M90.7 245.6l0.1 1.1M90.2 249.4l0.6 1.4M89.8 248.1l0.9 0.9M85.1 250.7l0.0 0.6M87.7 248.5l-0.2 0.8M88.0 247.5l-1.1 0.9M91.3 251.3l0.3 1.4M90.5 247.0l-1.0 1.0M229.7 285.3l-0.5 1.0M212.1 267.2l0.1 0.5M216.6 282.7l-0.4 0.3M213.2 281.2l-0.3 1.5M214.8 277.0l-0.8 1.0M215.0 300.4l-0.6 0.6M212.6 277.7l-0.3 0.9M225.2 264.0l-0.4 0.2M219.1 282.8l-0.9 1.0M212.4 260.8l0.3 0.9M219.7 274.3l-0.6 0.6M204.8 293.2l-0.2 0.6M214.3 280.4l-1.2 0.4M203.2 289.9l-0.2 1.2M231.0 278.8l-0.6 0.6M210.3 297.9l-0.8 0.4M215.6 282.4l-0.2 0.9M208.8 277.1l-0.1 0.4M222.2 278.5l-0.4 0.7M210.6 276.2l-1.2 0.7M208.0 272.7l-0.9 0.7M207.1 283.1l-0.5 0.3M205.8 292.6l-0.5 0.8M203.8 296.0l-0.4 1.1M206.5 273.5l-1.5 -0.1M215.0 273.6l0.0 1.5M207.7 290.6l-0.3 1.0M229.1 270.4l-0.0 0.9M201.6 282.2l-0.2 0.3M205.8 292.5l0.1 1.3M205.2 291.4l0.0 0.6M211.0 278.1l-0.5 1.4M199.3 253.6l-0.2 0.5M196.0 279.4l-0.4 0.7M224.7 278.3l-0.1 0.5M207.7 280.0l-0.4 1.2M207.2 281.8l-0.5 0.5M194.8 273.9l-0.7 1.3M210.4 272.7l-0.2 0.4M202.4 278.2l-0.4 0.2M309.2 254.2l0.3 1.0M309.4 256.2l-0.2 0.7M310.7 261.4l-0.1 0.7M310.0 256.1l-0.0 0.8M310.2 259.2l-0.0 0.5M312.0 259.8l-0.2 1.1M309.5 255.6l0.4 0.5M308.9 259.7l0.1 0.5M310.8 257.7l0.0 1.2M311.0 257.0l0.0 0.5" fill="none" stroke="#a338cf" stroke-width="0.7" opacity="0.55" stroke-linecap="round"/>
<path d="M76.5 249.7l0.6 0.9M84.6 262.9l0.2 2.0M65.0 238.8l0.6 1.1M85.0 239.6l0.9 2.0M76.6 254.0l-0.0 0.9M70.6 262.9l1.5 2.2M90.7 242.2l1.0 2.5M68.8 249.5l0.4 1.2M67.9 259.1l0.2 2.1M65.4 265.1l-1.9 0.3M67.8 245.5l-2.1 1.8M56.8 256.3l-0.1 1.2M58.6 259.4l1.8 1.1M66.9 248.5l0.2 1.0M73.1 267.5l-1.4 0.6M80.5 264.4l0.2 0.9M66.6 260.3l-1.6 2.2M90.9 259.1l0.9 1.8M73.0 265.4l-0.1 1.9M52.3 280.0l-0.7 1.3M53.9 260.6l0.9 1.6M75.3 254.7l-0.6 1.1M73.1 238.9l-0.9 2.6M60.3 263.2l-0.0 1.0M57.5 266.1l-0.6 0.6M76.8 266.5l-0.6 2.8M79.2 259.9l1.0 2.5M80.8 258.7l-0.2 1.4M67.5 250.3l2.1 1.9M73.3 255.6l-0.1 1.8M78.0 258.6l-1.3 1.5M78.7 262.8l-0.6 0.7M63.0 237.9l-0.6 2.8M74.5 263.9l0.5 1.1M60.4 244.3l0.2 1.9M64.9 268.9l-1.3 2.4M76.3 266.5l-0.9 1.4M81.5 247.9l1.4 2.4M64.3 272.2l0.2 1.5M93.5 268.9l-0.7 0.5M59.1 247.7l1.6 1.2M71.6 247.2l-0.7 1.0M81.4 254.1l-0.1 1.9M71.1 264.2l1.4 2.2M58.5 261.5l0.7 1.5M61.7 261.1l-0.7 2.3M65.3 256.7l0.2 0.8M63.8 245.3l-1.0 1.1M71.4 252.2l-1.6 2.0M88.8 271.6l0.1 1.7M83.6 248.4l0.1 1.4M87.7 262.2l0.3 2.2M60.6 258.9l0.1 1.0M87.2 259.2l-0.1 1.9M86.5 260.2l-0.0 2.8M75.4 256.0l1.1 1.8M71.2 264.2l1.4 2.3M60.9 241.8l-0.2 1.0M62.5 270.4l1.0 2.6M72.4 250.0l-0.1 1.9M67.9 247.9l0.3 2.2M63.0 267.1l1.1 2.0M84.3 264.3l0.5 1.8M49.2 259.5l0.1 1.3M83.7 255.3l0.6 2.8M52.6 257.8l-0.7 1.5M74.0 254.9l0.2 2.8M60.6 253.4l-0.0 0.8M82.9 255.1l0.4 1.7M70.0 268.2l1.5 1.6M69.8 255.6l0.3 2.1M51.9 259.4l1.4 2.4M90.8 259.5l-0.5 0.6M77.9 250.2l0.7 1.6M72.2 259.5l-1.3 1.6M81.0 260.1l0.2 2.7M81.8 251.2l0.6 2.7M78.3 257.5l-0.3 1.2M83.4 255.5l-1.6 2.1M74.5 258.8l0.1 1.0M78.0 251.1l-0.4 2.3M104.4 253.5l0.2 1.6M67.0 245.2l1.5 2.2M76.6 261.7l0.7 2.6M52.8 268.1l-0.2 0.8M70.2 243.8l-1.0 1.1M72.4 269.1l0.0 1.5M61.6 270.9l0.6 2.7M78.4 266.4l0.0 1.7M64.8 269.9l2.2 1.8M76.5 251.2l-0.7 2.4M91.8 255.6l-1.0 2.0M48.2 267.4l0.3 1.6M86.7 258.4l-1.5 0.2M72.1 251.4l-0.7 0.4M58.6 268.8l0.5 2.1M59.7 270.7l-1.0 2.1M56.7 259.4l1.2 2.1M72.5 245.0l-0.2 2.3M61.5 269.9l0.3 1.5M61.6 273.3l1.4 1.9M63.8 263.1l0.2 1.7M70.1 240.4l0.3 0.9M84.1 251.4l0.3 2.8M53.2 258.2l0.5 0.9M87.0 245.0l-0.2 2.3M85.8 250.4l0.1 1.8M39.5 263.9l-1.7 1.2M68.1 264.1l-1.0 1.2M59.4 252.1l0.5 2.3M89.2 248.5l-1.0 1.5M46.9 236.9l-1.1 0.8M72.8 246.6l0.3 2.5M81.2 253.0l1.5 2.4M84.3 261.7l0.6 1.5M64.7 263.4l-0.1 1.6M68.5 272.1l0.1 1.9M65.7 252.7l-0.7 2.3M63.6 252.4l-0.0 1.3M82.3 248.8l0.3 1.7M66.1 265.5l-0.0 2.0M78.0 267.2l0.1 1.4M91.6 249.6l-1.3 2.0M69.8 259.4l1.3 2.1M67.0 254.0l1.3 2.3M103.5 259.2l1.5 1.4M86.4 266.5l0.3 0.7M63.2 252.2l-0.2 2.0M66.4 261.9l0.4 1.2M77.5 258.9l1.2 0.7M66.8 261.1l-0.5 1.5M64.9 252.2l-0.2 2.2M74.9 246.7l0.4 1.0M89.0 261.5l-0.5 0.7M63.7 262.4l-0.3 0.8M81.5 261.9l-1.5 2.1M61.2 251.1l0.8 1.7M64.2 250.2l-0.3 1.6M63.3 248.0l-1.0 2.6M64.8 265.1l-0.2 1.6M82.9 259.3l0.5 1.7M68.7 268.3l-0.9 2.2M81.2 262.4l-1.2 1.8M73.6 263.7l0.6 1.3M94.3 268.0l0.9 1.3M64.2 259.4l-0.3 1.7M70.4 253.8l-0.5 2.5M67.6 266.8l0.2 0.9M58.6 262.0l1.5 1.8M71.3 264.1l-1.7 1.1M57.9 302.7l-0.3 1.3M40.7 317.4l2.7 1.7M61.4 304.0l0.9 2.1M58.1 307.3l2.2 2.0M46.8 333.3l-1.0 2.3M41.5 311.3l1.7 2.2M52.0 338.3l0.8 2.5M51.1 301.0l-1.2 1.4M41.2 313.5l1.4 1.7M67.3 320.2l1.9 2.3M42.8 320.3l0.7 1.8M52.2 333.9l1.5 0.9M35.1 316.2l0.1 0.9M50.0 305.5l0.1 2.0M55.4 342.4l0.3 1.0M46.9 331.0l0.3 2.3M54.6 293.2l1.1 0.3M48.2 323.5l0.4 1.6M51.0 320.7l1.6 2.3M49.0 297.3l0.8 0.5M36.4 309.7l1.3 1.5M49.3 303.9l1.2 1.3M50.0 324.6l-1.0 2.8M46.9 316.8l0.4 1.9M38.7 301.7l0.6 2.1M47.7 320.1l-0.1 2.6M53.3 296.9l0.4 1.1M61.4 311.0l-0.1 3.1M57.2 301.6l-0.6 2.6M34.4 338.0l1.6 1.1M54.7 331.6l-0.9 1.5M50.6 312.8l0.6 1.0M42.6 311.7l0.4 2.7M42.2 300.7l-0.4 1.2M55.7 333.1l-0.2 2.3M60.3 305.3l0.0 2.5M38.6 319.4l0.3 2.6M38.0 305.5l2.1 0.7M52.2 312.0l0.3 3.2M42.7 293.0l1.6 2.9M46.4 304.0l0.4 1.8M47.2 309.0l0.6 3.3M56.0 320.2l1.4 2.3M49.8 330.1l0.5 2.0M70.8 338.2l0.8 1.0M57.8 317.5l2.7 0.6M46.2 337.2l0.5 1.5M46.1 321.2l0.5 1.8M42.0 325.8l-0.8 3.0M44.3 314.2l0.3 2.0M60.8 302.8l0.1 3.1M48.5 330.8l1.5 3.0M56.5 309.0l1.4 2.0M36.3 332.2l0.8 2.1M35.8 317.3l0.8 1.0M45.0 327.1l0.2 0.9M32.7 302.9l0.2 1.1M61.2 328.5l-0.1 1.0M46.4 342.5l0.8 1.7M45.6 329.7l2.3 1.6M56.5 336.4l0.7 2.1M43.9 304.6l2.2 0.9M61.8 330.4l0.7 2.2M59.4 324.6l0.7 3.1M62.8 313.4l-0.7 1.4M32.6 310.0l-0.0 1.0M39.2 320.8l-0.3 2.3M45.8 310.8l0.2 1.1M55.9 298.6l-0.5 2.7M43.2 331.5l0.9 0.9M40.4 321.6l-0.5 1.2M58.1 312.5l1.3 2.9M42.3 317.6l1.4 1.2M37.9 301.0l0.1 2.6M72.9 322.5l1.6 2.8M55.9 315.4l0.3 1.3M59.5 320.6l0.0 2.7M60.4 316.7l0.7 1.8M39.4 311.8l0.2 0.9M51.2 308.2l-0.2 1.6M43.0 312.7l0.6 1.8M55.4 299.7l-0.1 2.9M46.3 324.7l0.5 2.5M39.2 317.0l0.4 2.6M58.2 309.4l0.4 2.8M59.4 335.4l1.8 2.1M52.2 318.8l0.1 2.6M43.2 330.9l0.5 1.7M53.4 317.6l0.9 1.0M50.2 312.3l-0.1 1.5M57.4 316.0l1.2 3.0M37.6 298.4l0.8 1.8M49.0 315.8l-1.0 1.3M57.9 301.6l-0.1 3.2M56.4 321.1l0.9 1.3M59.1 317.0l0.4 2.2M53.3 311.5l1.3 2.5M52.0 307.6l0.7 1.0M48.7 333.2l-0.4 2.3M49.4 326.9l-0.3 2.7M42.1 312.0l0.8 1.9M40.2 315.0l0.9 2.2M49.7 327.0l-0.1 1.3M35.6 316.5l-0.5 2.4M40.4 320.9l1.4 2.7M56.7 308.6l1.9 2.2M47.0 325.9l-0.5 2.6M46.7 293.0l-0.3 2.2M48.4 330.9l0.5 2.2M46.7 309.4l0.3 0.9M44.8 328.4l0.8 0.9M32.5 319.4l0.2 1.5M49.7 327.5l-0.6 2.5M28.0 306.5l-0.4 1.4M49.2 310.2l-0.2 1.9M51.5 310.2l1.5 2.2M47.1 326.4l0.7 1.5M57.3 333.6l1.0 2.4M48.9 308.4l1.1 2.0M47.6 317.6l-0.1 1.0M34.0 329.3l0.2 2.0M49.4 308.4l-1.7 2.8M62.1 330.0l0.2 3.3M37.8 293.7l-1.1 1.4M42.0 316.4l-1.5 2.8M53.0 328.7l2.6 1.1M36.2 308.8l0.1 1.3M51.6 342.1l-0.6 1.4M36.1 311.7l0.4 0.8M64.0 329.5l-0.3 3.3M49.4 330.0l0.8 1.6M58.4 302.7l0.8 2.5M53.0 320.6l-0.1 1.4M40.0 315.5l-0.1 1.4M42.6 321.2l0.6 2.2M59.6 317.8l0.7 0.6M48.2 309.5l1.0 2.8M62.7 310.1l-0.5 3.2M43.4 306.9l1.1 2.6M53.0 324.4l2.0 -0.0M40.5 319.4l0.4 1.8M49.8 313.6l1.8 1.3M36.3 313.2l-0.9 3.1M58.4 312.5l1.1 1.3M34.6 313.7l1.4 1.2M43.5 307.9l-0.3 1.5M55.7 320.8l-0.1 1.6M44.1 328.3l2.4 2.3M43.0 306.6l-0.2 2.9M37.2 318.8l0.2 1.8M75.3 323.0l-0.0 0.9M57.9 325.8l0.2 1.1M56.0 313.2l1.3 2.3M65.1 314.3l0.5 2.0M83.5 310.8l-0.1 0.9M72.9 316.7l0.1 1.4M65.3 310.2l-0.2 2.4M69.2 293.5l-0.1 1.6M72.7 324.4l0.4 2.2M71.1 314.9l-0.4 1.4M59.1 316.7l0.1 1.0M72.9 329.5l0.8 0.5M69.0 325.4l0.3 1.8M54.0 311.0l1.2 2.0M70.4 310.5l1.5 2.6M54.8 318.1l1.5 1.8M68.2 311.6l2.0 2.4M65.8 328.4l-0.2 3.1M56.2 318.2l-0.2 1.8M59.4 323.9l1.0 1.0M71.4 328.1l-0.5 2.4M71.6 323.9l0.7 0.6M68.8 307.5l-0.3 2.2M71.3 318.3l-0.9 1.8M59.8 312.8l0.1 1.1M55.7 307.8l-0.2 1.7M71.3 313.2l1.4 1.1M74.4 311.0l-0.1 0.9M87.7 313.5l0.5 1.4M60.2 325.8l-0.3 0.9M62.2 318.8l0.1 2.1M81.3 309.7l-0.8 2.7M58.9 327.0l0.1 2.2M62.6 322.2l-0.3 1.0M56.5 316.9l-0.9 2.7M78.3 326.3l-0.6 1.2M59.5 328.0l0.6 1.9M65.3 326.1l-2.9 1.0M63.5 327.7l1.0 2.1M75.8 311.3l0.2 2.9M58.8 310.7l-0.4 1.1M68.8 323.9l-1.0 0.5M50.2 325.8l1.6 2.0M62.3 309.9l-0.1 2.0M72.5 312.4l-0.4 2.3M69.5 324.5l-0.1 2.8M45.8 323.0l0.9 1.7M74.5 302.5l0.9 1.0M70.6 324.4l0.4 2.5M61.2 310.6l1.2 1.8M68.6 330.8l-0.5 2.5M53.6 326.8l1.2 2.4M51.7 323.4l0.6 2.9M52.5 325.4l-0.8 2.4M77.7 328.8l-0.3 1.6M63.3 323.9l1.1 2.5M61.5 318.8l1.2 2.4M53.1 311.1l-1.1 2.0M64.6 306.7l0.1 2.1M67.4 325.7l-0.8 2.5M44.0 318.0l1.1 1.4M61.9 306.4l0.5 2.9M58.2 319.2l0.1 2.6M59.8 323.5l0.9 0.4M68.2 315.4l-1.4 2.2M59.1 309.2l0.6 1.3M58.2 330.5l0.5 1.6M78.2 309.1l0.5 1.5M64.6 325.7l-1.2 1.5M69.2 311.8l0.2 1.9M84.4 307.6l0.7 1.6M70.7 323.6l0.6 2.3M71.0 309.9l-0.5 3.1M61.5 325.3l0.8 2.9M56.4 314.8l-0.0 1.2M54.5 322.6l0.5 1.0M67.7 311.3l1.0 2.2M68.5 308.8l-0.2 1.7M69.2 305.8l0.8 0.9M89.1 311.3l1.2 1.1M63.7 314.6l-0.5 2.4M57.7 320.8l-0.4 2.1M75.1 315.2l-0.2 2.0M62.6 308.3l0.8 1.8M60.1 325.7l0.2 0.8M53.2 314.7l0.8 1.5M73.5 317.7l-1.6 2.3M67.7 329.6l-0.6 1.8M75.1 289.4l1.3 2.6M73.6 312.9l0.1 1.1M63.2 316.7l1.0 2.2M72.2 318.6l1.7 2.2M69.7 333.5l0.4 1.3M63.9 310.1l0.6 1.8M74.1 314.5l-0.2 1.3M73.7 310.6l-0.2 2.1M56.4 332.6l-2.0 2.2M71.5 310.5l0.7 2.7M64.3 308.5l-0.6 2.0M83.6 310.0l-0.6 2.7M67.0 318.7l0.5 2.6M78.8 321.7l-0.7 1.7M74.4 318.4l0.7 1.2M67.7 306.9l0.5 0.8M89.9 312.9l-0.4 1.8M79.7 305.0l0.4 1.7M67.4 326.2l0.0 2.3M70.2 319.7l0.3 2.8M71.6 320.6l0.1 1.5M54.2 314.1l0.8 1.3M66.5 314.4l0.6 2.2M90.3 314.1l0.6 1.2M64.7 311.8l0.1 2.3M68.5 300.6l2.0 2.3M70.7 313.0l-0.2 2.0M71.2 316.9l1.1 2.3M79.7 314.5l-1.0 1.7M65.6 327.7l-0.5 0.7M81.8 323.6l-0.1 2.4M91.0 318.7l-0.4 1.3M63.7 308.1l0.5 0.9M51.5 320.3l0.6 2.6M54.3 326.9l-0.3 2.0M84.9 318.9l0.5 0.9M67.0 329.9l-1.6 1.6M64.4 306.2l0.1 2.1M64.7 313.9l-0.1 2.2M52.7 333.4l0.4 1.3M89.5 312.4l1.0 1.4M66.6 313.1l0.1 2.5M110.9 331.6l-0.5 1.6M103.4 348.1l-0.6 2.3M108.3 346.2l0.5 0.7M112.0 341.8l0.8 1.4M112.7 354.1l0.8 1.1M114.2 363.0l1.5 0.9M114.8 361.0l0.8 2.5M109.4 351.9l0.8 2.6M114.5 357.5l1.4 1.9M122.4 354.1l0.3 0.8M111.1 343.9l1.0 2.2M108.0 347.1l-0.7 2.1M110.7 352.8l0.8 0.8M112.4 339.6l2.0 0.8M105.4 349.4l0.6 2.0M109.0 342.4l1.4 2.2M115.6 356.4l1.0 0.8M108.0 358.9l0.4 2.2M105.7 337.9l0.6 1.0M108.8 355.9l1.5 2.0M115.0 342.5l0.7 0.9M117.1 351.6l1.0 1.3M111.3 358.3l0.3 2.3M116.1 357.1l0.4 2.1M108.3 337.9l0.4 1.0M113.6 353.5l-0.3 2.1M110.0 359.4l0.9 1.4M114.2 345.2l0.8 2.1M118.8 357.0l0.3 2.7M106.7 358.8l-0.2 0.8M115.2 355.5l0.3 2.2M108.9 344.2l1.0 2.1M122.3 346.5l0.1 1.4M118.8 344.7l2.4 0.9M108.4 354.3l1.7 1.7M109.4 344.1l1.6 1.7M113.2 338.1l0.7 0.6M113.1 356.5l0.3 0.7M108.9 345.6l0.2 1.1M107.4 347.1l1.8 1.0M115.9 351.0l1.7 1.9M113.6 346.9l0.9 2.0M105.0 330.5l1.1 1.0M104.5 359.8l2.0 1.9M105.2 350.1l0.5 1.9M110.2 335.3l0.9 1.7M112.6 369.1l0.2 0.9M119.5 356.3l0.8 1.4M111.3 344.6l-0.2 2.4M119.1 357.9l0.8 1.0" fill="none" stroke="#f27aa8" stroke-width="0.5" opacity="0.5" stroke-linecap="round"/>
<path d="M96.5 270.8l1.0 1.2M102.5 281.2l0.1 2.4M91.9 268.4l1.4 1.9M69.9 299.9l1.0 2.4M98.7 260.2l1.0 2.3M80.6 251.4l0.9 1.0M89.2 272.9l0.5 2.4M85.0 278.6l2.0 1.7M84.2 274.8l1.9 1.9M99.1 277.8l0.4 1.0M86.1 283.3l0.1 1.1M78.8 273.1l-0.6 1.6M90.9 274.7l-0.0 0.9M97.8 285.3l0.5 1.0M90.9 272.1l1.3 0.7M115.7 286.5l0.5 0.8M71.5 248.5l0.1 1.1M80.8 246.2l-0.3 2.6M76.7 249.8l0.4 1.5M90.5 278.5l-0.6 1.1M106.7 267.2l-0.6 2.7M83.8 262.0l0.4 0.9M98.5 287.6l0.9 2.7M90.4 279.3l-1.3 2.3M96.2 264.3l0.9 2.3M67.5 296.5l-1.4 1.3M79.5 261.3l-0.7 2.2M88.4 272.7l0.3 2.2M84.3 280.4l0.2 1.9M107.9 288.9l-0.9 1.4M88.2 267.2l0.1 1.7M71.7 260.6l0.6 2.6M90.0 263.9l1.5 1.5M91.7 250.1l0.2 2.1M88.8 295.1l0.4 0.9M99.9 291.0l-0.2 1.4M84.1 259.3l0.3 2.7M87.9 303.7l2.1 0.9M83.0 293.8l1.2 1.5M97.2 276.5l-0.6 2.0M98.1 265.5l-0.5 2.4M95.4 254.2l1.7 0.2M86.5 293.0l0.4 0.8M92.0 272.1l0.3 1.0M84.6 276.4l0.8 0.7M114.7 243.1l-1.3 1.7M83.5 250.0l0.1 2.7M87.7 269.8l0.5 1.5M82.3 284.2l-0.3 1.0M85.7 276.8l-0.2 2.3M115.1 286.3l-0.5 2.1M97.6 292.6l0.7 1.8M81.2 249.8l0.1 2.1M92.5 287.4l-0.8 2.5M91.1 259.8l0.2 0.8M107.7 288.8l0.5 1.6M101.4 278.5l0.3 2.5M88.8 265.8l-0.2 1.4M90.0 251.5l0.5 1.8M103.1 231.3l-0.1 2.0M90.8 271.3l1.0 2.5M93.4 276.0l1.7 2.3M95.9 268.1l0.4 1.4M82.0 293.5l0.6 2.3M78.9 246.3l-0.1 1.1M84.8 291.9l-1.4 2.5M89.5 258.2l0.1 2.5M102.8 283.6l0.2 1.4M73.2 270.9l0.1 2.4M83.2 258.8l-0.3 2.3M86.0 266.1l1.1 0.8M95.8 266.9l2.6 0.9M80.1 295.3l1.0 1.2M78.2 282.0l2.1 1.3M101.2 276.6l-0.4 1.0M95.7 284.4l0.6 0.6M80.7 256.5l-0.6 1.8M87.4 270.0l-0.1 1.5M91.5 279.2l0.7 1.9M82.0 291.2l-1.0 2.4M70.0 292.5l0.8 2.7M88.7 263.8l1.3 0.7M91.4 299.1l-0.8 2.0M80.2 268.7l1.1 1.1M95.1 253.1l-0.2 2.6M91.9 276.1l-0.3 2.7M105.5 263.9l-0.0 0.8M79.4 285.2l-0.2 0.9M93.6 291.7l0.8 1.0M83.0 284.6l0.6 2.2M97.2 263.3l0.3 1.6M87.0 258.7l0.4 0.8M100.7 274.7l-0.5 1.9M87.0 282.3l-1.7 1.9M101.1 288.0l-0.3 1.9M80.2 287.5l0.6 2.5M94.7 283.2l-1.3 1.5M87.8 261.3l0.5 1.3M79.4 284.1l0.5 1.4M77.3 248.3l0.2 1.7M84.0 267.9l1.0 2.0M89.6 283.8l0.4 1.3M76.8 289.9l0.4 0.8M91.0 264.6l1.4 1.8M92.4 284.6l0.3 2.3M71.6 285.6l2.4 0.3M86.5 290.0l0.3 1.9M110.4 281.0l0.5 1.0M84.2 264.3l-0.2 1.4M100.1 291.8l-1.6 1.3M104.2 280.4l-0.0 1.4M84.6 288.4l-0.8 2.5M96.3 266.1l0.6 1.4M72.4 288.2l0.8 2.3M87.7 259.0l-0.8 1.5M81.3 289.4l0.5 0.7M79.9 288.0l-0.3 2.5M92.0 292.1l0.8 1.2M83.7 258.1l-1.4 1.7M98.9 273.3l1.2 1.2M47.1 361.8l-0.1 1.8M37.0 330.7l0.1 1.6M46.8 357.0l0.1 1.9M42.0 311.8l0.6 1.7M41.5 348.2l0.5 1.8M41.5 325.7l0.1 1.5M37.7 325.8l-0.3 0.8M42.1 330.7l0.6 1.1M39.1 364.3l0.8 1.4M39.2 334.3l0.4 0.7M38.0 320.1l-1.3 2.5M36.3 335.1l0.2 2.2M37.7 351.9l0.7 0.8M35.5 347.1l0.5 1.1M38.7 339.9l-1.0 2.4M37.5 344.5l-0.9 2.2M39.3 362.5l-0.9 1.8M34.0 337.7l1.6 2.1M31.3 333.8l-0.4 1.4M48.6 350.3l-1.0 0.7M45.6 336.6l0.6 1.0M42.5 364.6l0.2 1.0M41.9 351.5l1.0 1.5M39.7 338.2l1.4 2.0M38.0 335.8l-0.4 2.5M48.8 378.2l-0.0 1.9M47.2 307.8l0.1 1.0M39.9 337.7l1.3 0.9M48.4 328.4l0.4 1.8M48.7 359.6l-0.2 1.9M48.0 360.1l0.4 0.9M53.4 353.0l-0.3 1.0M44.4 338.0l-2.0 1.8M32.5 342.3l-0.4 0.8M51.8 339.5l0.0 0.8M41.2 325.9l-1.5 1.9M40.2 368.3l0.4 0.7M44.9 372.9l-0.6 2.1M51.8 342.7l-0.4 2.0M50.1 358.1l1.0 1.8M36.3 349.4l0.1 0.8M47.0 348.1l0.2 2.3M52.6 342.5l-0.1 2.5M51.5 322.9l-0.5 1.2M42.3 361.5l0.3 1.2M54.8 352.7l2.1 0.3M39.6 358.3l1.7 1.1M27.9 314.4l1.1 1.4M40.6 346.4l0.3 1.4M41.0 338.6l0.1 1.3M49.8 322.6l0.6 0.8M39.8 356.7l0.1 1.9M35.4 354.5l0.5 0.7M37.0 352.7l-1.0 2.5M47.3 331.6l0.3 1.8M33.8 342.8l1.1 1.6M37.9 327.0l0.9 1.8M44.8 335.8l0.9 1.4M39.3 353.6l-0.1 2.1M37.1 335.5l1.2 1.7M36.3 333.7l0.4 0.7M44.5 322.2l1.7 1.3M36.5 335.1l-1.1 2.2M49.8 328.0l0.3 2.2M17.9 336.8l-0.4 0.9M45.9 345.8l-0.4 2.8M36.0 343.9l0.2 1.5M51.6 369.1l-1.6 1.7M40.8 350.5l0.1 2.8M42.1 357.2l1.6 2.3M36.1 351.6l0.4 0.7M40.9 352.6l1.0 2.4M39.5 367.7l-0.8 2.1M37.1 338.8l-0.1 1.3M47.9 351.2l0.2 1.4M38.4 328.7l0.2 1.1M38.8 336.5l-0.6 2.2M54.0 340.5l-0.0 1.1M44.3 351.9l-0.4 1.4M37.6 327.1l-0.3 0.9M56.4 357.5l0.1 1.5M45.6 342.8l1.6 0.3M37.5 330.4l0.4 1.1M47.8 343.9l-0.6 0.8M36.1 361.2l-0.4 0.8M38.9 340.2l0.5 1.1M46.9 311.9l0.0 0.8M40.7 362.2l-0.1 1.0M45.2 321.4l-0.2 1.4M48.5 343.8l0.7 2.1M48.5 353.6l-0.3 1.1M44.5 335.0l-1.8 1.9M37.9 328.9l0.9 1.9M46.3 330.0l0.5 1.6M48.5 309.6l-0.2 2.3M39.0 354.5l0.1 1.8M39.1 322.5l0.3 2.7M38.9 360.9l-0.0 1.5M48.4 321.3l0.1 1.9M28.4 332.2l0.6 2.7M41.6 327.4l-0.8 2.7M49.5 331.8l0.3 1.0M27.5 333.6l-0.9 0.7M31.0 353.2l-0.6 1.7M41.3 351.3l-0.8 1.1M40.0 361.3l0.6 1.7M49.7 349.3l0.0 2.0M41.5 342.7l0.8 2.7M48.7 364.7l0.1 2.1M48.0 336.0l0.1 1.6M90.2 324.6l0.5 1.8M74.5 362.6l-1.1 2.0M82.3 360.5l0.1 0.9M55.6 351.5l-0.4 1.8M76.8 370.6l0.4 0.7M47.1 370.0l-0.3 2.0M61.1 339.9l0.4 1.4M63.7 361.4l1.4 1.4M78.5 350.0l0.6 1.7M77.8 356.5l0.6 0.9M91.3 367.6l1.1 2.0M83.6 344.4l-0.1 0.8M74.8 386.2l0.6 1.3M54.4 344.4l0.3 2.2M53.4 351.5l0.3 1.4M87.6 355.8l0.5 0.6M51.5 368.0l0.6 0.9M64.7 338.1l0.6 1.3M82.9 365.6l-0.3 2.8M76.3 358.2l-0.6 2.3M58.2 354.0l1.0 0.7M69.8 355.9l0.5 2.7M43.6 363.0l0.8 1.9M84.9 372.3l1.1 1.7M84.1 354.5l-0.3 1.6M79.1 346.4l0.4 1.8M94.6 342.9l0.9 2.3M74.8 327.2l0.1 1.2M96.9 360.8l0.8 0.0M71.3 355.2l0.4 1.3M69.3 338.5l0.7 0.7M78.0 358.3l0.1 1.4M55.4 379.2l0.3 1.4M70.8 349.9l0.2 0.9M74.1 374.5l0.9 1.9M90.4 344.5l2.0 1.0M94.0 362.3l-0.6 2.7M66.6 375.5l-0.7 1.7M63.4 330.8l-0.9 0.9M79.1 358.7l0.6 1.6M80.7 340.8l0.3 1.8M72.7 351.3l0.2 2.8M65.0 353.5l-0.5 2.5M69.2 365.5l0.8 2.1M82.3 353.4l-0.4 2.2M53.3 360.2l-0.2 1.0M50.7 361.3l0.0 1.4M63.3 340.9l0.3 2.4M83.1 349.4l0.3 1.6M54.0 363.8l1.5 2.1M71.2 340.2l0.4 1.4M69.5 356.4l1.6 1.8M63.2 352.8l0.7 1.3M73.6 355.1l-0.4 1.1M84.5 345.7l0.1 1.4M81.0 348.8l0.2 1.4M98.9 342.7l-1.0 2.5M72.6 373.7l0.6 1.5M86.2 368.5l-2.1 1.8M57.8 342.7l0.1 2.9M64.0 334.6l2.3 1.1M62.4 345.1l-0.7 1.5M84.4 375.9l1.4 2.0M63.7 356.9l-1.2 1.8M58.6 339.9l0.0 0.8M52.8 364.2l0.4 2.5M76.8 370.6l0.2 2.7M92.6 374.5l-0.2 2.6M57.2 369.1l-0.0 1.1M54.2 360.9l0.5 1.3M57.5 340.4l0.8 1.6M60.0 350.9l0.5 1.1M81.3 342.6l0.5 1.3M82.3 346.6l0.5 1.6M69.7 367.1l-0.9 1.2M79.0 347.9l-1.2 2.5M68.1 365.4l-0.6 2.1M68.1 354.0l0.6 1.3M59.1 365.1l0.5 1.5M52.0 362.1l-0.3 0.9M71.2 371.5l-0.1 2.5M90.4 339.3l0.7 0.5M67.4 357.0l0.9 2.2M73.1 382.7l0.5 1.5M83.4 374.4l0.0 1.5M68.6 364.5l1.1 1.7M71.6 372.5l0.5 0.8M77.5 336.3l1.2 1.4M79.9 352.3l1.1 2.0M77.3 349.0l-0.2 1.8M53.8 362.8l1.9 1.5M85.0 350.4l0.8 2.4M83.4 341.7l-1.3 1.3M55.5 357.3l0.6 1.7M81.1 367.4l0.5 2.0M73.5 337.4l0.4 1.8M80.5 313.3l1.4 2.4M82.9 345.9l1.1 2.5M69.4 325.3l1.1 1.1M75.7 363.2l0.1 2.1M77.2 353.1l1.0 1.1M73.1 355.6l-0.0 1.4M83.7 357.0l-0.2 0.9M59.8 348.8l0.5 2.1M66.9 377.8l0.5 2.5M82.1 330.6l-0.8 1.0M82.5 355.8l2.0 1.9M56.3 341.4l0.4 1.6M56.7 357.8l-0.8 2.3M68.9 360.7l0.6 1.0M185.4 273.4l-0.0 1.2M198.4 271.2l1.2 0.8M181.2 267.7l0.1 0.9M213.5 275.7l0.4 1.1M191.3 266.1l-0.5 0.9M203.1 271.9l0.5 1.3M196.4 260.9l0.4 0.6M202.1 270.9l0.0 0.6M203.6 279.9l0.3 0.7M196.3 267.8l0.4 0.8M179.4 267.5l1.1 1.3M194.9 278.4l0.4 1.2M198.6 267.1l0.0 1.2M208.6 274.2l-0.2 1.2M207.8 254.6l1.0 1.5M186.6 267.6l-0.1 0.9M192.8 263.1l-0.1 0.6M211.4 276.1l0.2 1.2M209.7 264.0l1.0 1.0M193.6 269.1l-0.2 1.6M196.2 267.5l0.8 1.5M200.3 273.0l-0.2 1.6M194.9 262.5l0.6 1.1M210.5 272.5l0.0 0.8M199.9 260.9l-0.5 1.5M205.0 268.7l-0.0 1.2M203.4 276.1l-1.2 1.0M209.5 269.9l0.3 0.6M194.3 264.1l1.0 1.5M200.3 268.2l-0.2 1.0M200.0 277.0l0.1 0.8M180.5 267.8l0.2 0.5M198.1 263.9l-0.8 1.6M206.6 273.2l0.3 1.0M197.9 271.1l1.1 1.4M207.8 282.9l-0.0 1.1M201.7 265.5l0.3 0.7M200.3 268.2l-0.1 0.5M203.0 270.4l-0.3 0.7M186.5 267.8l0.1 0.9M186.2 325.7l-0.5 1.1M200.3 345.6l1.0 1.5M194.2 340.1l-0.8 1.8M201.1 326.2l-0.2 0.7M192.2 349.3l-0.4 1.4M184.2 341.7l0.1 1.1M193.0 338.3l0.5 1.0M196.0 325.7l-1.3 1.4M205.9 323.7l1.2 1.1M184.3 318.9l-1.0 1.1M197.8 307.7l0.5 1.0M190.5 339.1l-0.8 2.1M193.5 338.3l1.0 1.5M198.1 343.9l-0.5 1.3M186.8 325.0l-0.3 1.5M195.7 344.3l-0.1 0.8M210.6 336.9l-0.6 2.0M196.2 335.3l-1.0 2.1M203.9 338.6l-0.2 1.5M203.8 326.0l1.2 1.6M193.4 320.0l-0.5 0.7M197.4 338.3l1.0 1.3M193.6 334.4l-0.4 1.3M200.9 333.8l1.2 1.8M205.2 314.8l-0.9 2.0M208.1 320.1l0.3 0.8M176.5 332.1l-1.2 1.4M189.3 345.0l-0.4 2.0M194.1 316.0l0.5 1.3M201.4 322.4l-0.6 1.5M199.1 339.0l0.8 1.5M191.3 319.0l0.1 2.3M192.7 348.5l0.3 1.1M191.4 328.1l-0.1 1.2M184.1 337.6l-0.7 1.8M198.5 332.7l-1.0 1.9M209.1 322.5l1.3 1.8M195.9 346.9l-0.6 0.9M189.8 328.6l1.0 1.1M207.3 308.4l0.1 1.1M185.0 331.5l0.1 1.2M196.9 339.3l-0.6 1.7M183.6 321.2l-0.2 0.8M216.2 337.7l-0.3 1.5M178.3 338.9l0.9 1.9M191.1 293.3l-0.4 0.7M180.8 334.6l-1.1 1.4M205.3 352.9l0.3 0.9M200.0 327.3l0.1 0.6M182.8 335.2l0.4 0.6M208.6 336.7l0.8 1.8M208.6 320.8l-0.6 1.7M191.1 313.3l0.2 0.8M181.5 332.2l1.0 1.3M197.2 378.2l0.1 2.3M209.1 332.2l0.5 1.0M192.9 338.5l2.0 -0.3M192.0 341.2l-1.6 0.6M191.9 330.0l0.2 0.7M196.1 325.1l0.5 2.1M194.3 328.5l0.3 2.1M190.3 317.2l-1.0 1.9M182.8 347.1l-1.3 1.9M192.3 334.4l0.3 1.8M201.0 321.7l1.0 1.8M209.8 323.4l-0.8 1.5M198.7 336.0l0.7 1.0M201.3 364.4l0.2 0.8M194.8 325.3l-0.5 0.5M207.2 327.7l0.8 1.4M193.0 327.3l-0.1 1.4M194.7 330.7l0.3 1.5M197.6 337.0l0.7 0.3M206.7 341.2l-0.4 1.1M191.8 339.4l-0.3 1.3M195.4 344.1l0.9 1.1M191.9 315.5l-1.5 1.8M200.9 340.8l1.3 1.9M207.7 338.4l-0.9 1.7M200.9 340.6l0.7 1.0M204.2 303.7l-0.0 1.0M212.7 332.5l1.1 2.1M208.0 329.2l-0.1 1.3M196.8 320.4l-0.2 0.7M198.9 359.7l0.3 1.9M199.3 359.6l0.8 1.8M190.4 312.6l0.0 1.1M195.8 328.1l-0.2 0.8M194.5 317.1l-0.1 1.2M183.4 318.1l0.7 0.6M192.7 333.7l-0.0 1.9M193.7 329.0l-0.3 2.0M190.7 325.5l-1.4 1.2M188.4 329.7l-0.1 1.3M194.8 353.8l-0.2 1.2M190.0 357.2l0.9 1.2M211.5 337.4l-1.0 1.9M206.8 342.2l-0.2 1.1M203.2 348.7l2.0 1.1M195.5 331.3l-0.3 1.1M199.3 320.7l-0.5 1.1M187.1 309.5l-0.5 0.7M199.8 350.5l0.5 1.4M180.9 328.5l0.5 1.8M196.4 338.2l0.4 1.0M203.1 346.7l-0.5 1.2M206.3 330.9l-0.4 2.0M184.5 328.9l0.4 2.2M215.8 325.6l-0.1 0.8M203.6 336.9l-0.2 0.8M180.3 317.4l-0.5 1.1M180.5 307.0l0.4 1.0M186.1 319.1l-0.2 0.6M195.4 307.4l0.1 1.4M215.2 362.1l0.8 2.0M196.3 344.1l-0.0 2.3M196.2 324.1l-0.8 1.6M201.4 335.1l0.0 1.5M200.0 330.7l-0.4 1.3M179.6 314.0l0.2 1.5M250.5 250.3l-0.4 0.4M236.6 276.8l0.7 1.3M256.5 276.6l-0.3 0.9M283.8 274.2l0.4 0.5M261.3 259.2l0.2 1.5M258.5 276.9l-0.8 0.7M253.4 268.5l-0.9 0.6M254.6 269.3l-0.2 0.7M259.8 257.9l-0.7 1.5M247.6 249.3l-0.4 1.7M251.3 275.0l-0.2 1.0M260.5 265.8l0.2 1.7M274.2 264.9l0.7 1.3M261.0 263.0l-1.2 1.1M256.1 258.1l0.2 0.6M249.4 263.8l-0.2 0.8M254.4 270.4l-0.9 0.8M262.9 263.0l1.2 1.2M269.2 261.1l0.3 0.9M268.7 271.7l-0.2 0.6M253.2 263.1l-0.4 1.0M261.9 264.7l0.5 0.8M254.6 272.1l0.5 1.3M252.8 260.1l-0.1 1.1M263.2 276.2l0.1 0.6M264.3 260.0l-0.1 1.0M249.1 261.0l0.9 1.0M260.8 269.1l0.5 1.4M251.4 274.2l0.4 1.8M266.4 278.0l-0.3 1.8M264.4 259.9l-0.1 1.3M260.3 267.2l-0.2 0.6M264.4 268.2l0.4 0.6M231.9 254.5l-0.8 1.6M270.9 278.0l-0.4 0.8M241.4 254.6l0.1 1.1M261.4 260.9l0.8 1.2M266.6 269.2l-0.1 0.8M262.4 267.9l-1.3 1.0M250.5 262.1l-0.2 0.9M254.5 278.7l-0.6 0.6M266.8 264.4l0.2 0.6M277.7 272.0l0.6 1.1M248.6 268.4l0.3 1.7M261.3 260.2l0.2 0.9M273.3 262.5l-0.3 1.1M254.8 274.1l-0.6 0.3M257.5 260.3l-0.4 0.5M252.2 263.9l-0.4 1.4M258.2 260.1l0.2 0.5M269.0 262.0l-0.7 0.8M260.8 274.6l0.2 0.6M229.1 266.5l-0.3 1.2M258.2 269.4l-0.3 1.1M273.3 261.0l0.0 1.7M239.3 262.5l0.0 1.5M265.8 264.0l-0.7 1.3M264.2 269.8l-0.2 0.5M233.9 258.2l0.3 1.0M253.1 272.0l-0.0 0.5M270.5 260.9l-0.3 0.6M239.0 276.7l-0.0 0.8M257.9 284.2l0.4 1.7M288.2 265.6l-0.1 1.2M251.6 267.8l0.4 1.6M259.9 255.4l0.6 1.4M275.7 274.8l0.4 1.3M259.1 273.1l0.7 1.3M250.7 266.8l-0.1 1.1M273.0 246.3l-0.2 0.6M256.9 273.2l0.1 1.6M243.7 261.7l-0.4 0.5M275.8 275.1l-0.4 1.7M248.6 259.0l-0.1 1.4M249.1 270.5l-0.3 1.3M260.2 272.4l0.4 1.0M271.3 274.0l0.3 1.5M260.5 280.7l-0.1 1.6M259.3 261.4l-0.1 0.5M268.6 277.1l0.4 1.1M248.2 281.7l-1.3 1.2M231.0 272.0l0.3 1.4M260.7 267.9l0.0 1.0M250.0 276.1l-0.4 0.9M261.7 275.2l-0.2 1.7M243.8 250.7l0.6 1.1M253.1 272.0l-0.1 1.1M235.1 262.2l0.9 1.1M285.2 263.9l0.1 1.2M254.9 272.8l-0.5 1.2M245.1 340.6l-0.5 2.1M241.4 342.1l-0.5 1.0M238.9 339.4l0.5 1.3M231.2 354.8l-2.3 1.0M234.9 338.6l-1.1 1.6M241.5 329.4l-0.2 2.7M235.8 323.6l0.3 2.5M239.3 334.6l-0.2 1.1M241.4 353.2l-1.4 1.5M246.8 346.7l-0.8 1.2M245.4 322.2l-0.8 2.7M229.4 330.8l0.7 1.7M248.9 335.8l0.1 1.8M237.5 326.1l-2.0 1.6M238.2 334.2l1.1 1.1M247.3 338.0l-0.6 0.7M242.3 342.1l-0.4 1.6M229.4 359.9l-0.1 1.1M227.2 341.0l-0.4 0.9M249.1 320.1l-0.4 2.4M236.4 339.9l-0.2 1.0M241.8 333.2l-1.6 0.8M231.8 349.4l-2.2 1.3M230.4 357.0l-1.8 1.8M234.0 339.2l-1.6 1.5M222.0 336.7l-0.1 1.1M251.6 333.7l-1.2 1.8M249.0 310.9l0.4 2.3M233.8 328.2l-1.0 1.4M229.1 346.1l-0.1 1.8M246.7 339.8l-1.2 1.2M237.7 340.0l-0.6 0.6M231.1 342.7l-0.1 2.5M251.5 326.9l-0.1 2.4M241.9 334.3l-1.1 0.8M236.3 348.2l-1.2 2.4M230.7 343.6l-0.6 1.2M240.2 311.5l-0.5 1.0M248.7 345.5l-0.7 2.3M229.8 328.9l-0.4 1.1M239.6 331.3l1.0 1.8M244.8 341.9l0.1 1.0M232.0 330.4l-0.1 0.8M241.6 329.1l-2.3 1.4M239.7 346.3l-1.7 0.6M233.0 338.4l-0.2 2.3M238.4 334.6l-0.1 1.6M235.3 344.8l-0.5 0.6M229.9 349.4l0.7 1.1M240.7 325.7l-0.9 2.0M241.6 334.7l-2.3 0.9M227.7 345.2l-1.4 0.5M232.3 345.1l-0.4 2.4M237.6 331.9l-2.0 1.5M235.7 324.2l-0.9 1.1M234.7 327.7l-0.3 1.9M231.6 348.3l-0.2 2.7M242.0 331.0l-1.1 2.0M233.3 357.4l0.3 1.7M235.9 355.6l-0.3 1.2M234.4 343.7l-1.0 1.9M237.2 336.9l-1.0 1.6M241.9 332.6l0.3 2.5M250.5 316.4l0.8 2.6M246.1 338.7l-1.3 2.5M234.0 326.6l-0.1 1.1M232.9 339.0l-0.5 0.6M231.3 351.5l-0.3 1.3M234.8 340.5l-0.6 1.8M237.5 340.5l-1.9 1.9M231.8 361.2l-0.2 1.7M246.5 329.0l-0.6 1.9M247.7 312.7l-0.2 1.6M245.5 312.4l-0.3 1.1M238.4 338.9l0.1 1.3M252.9 312.6l-1.8 0.7M243.2 332.9l-0.4 1.2M238.9 335.1l0.1 2.3M228.0 331.9l-1.2 0.1M237.0 322.3l-0.5 0.6M234.3 331.3l-0.7 2.3M228.3 337.2l-0.5 1.4M234.9 317.2l-0.7 1.3M234.7 315.4l-0.9 2.2M239.8 315.8l-0.4 0.8M239.9 327.7l-0.2 1.9M243.6 330.5l-0.6 1.7M236.8 319.7l-0.4 2.8M240.9 346.3l-2.2 1.1M242.1 334.1l-1.3 2.0M241.0 318.5l-0.8 2.2M219.6 334.3l-0.2 0.9M238.2 328.0l-0.9 1.2M245.9 309.5l-1.8 1.3M236.7 332.1l1.4 2.0M248.9 332.6l-1.0 1.3M249.8 330.3l-1.2 1.7M242.4 328.4l-1.2 0.8M230.7 346.9l-0.4 0.7M224.1 362.5l-0.3 2.0M234.7 324.3l-0.7 0.5M244.1 320.2l-0.2 2.0M245.9 326.0l-0.7 1.3M245.1 331.5l-1.1 1.6M236.7 329.4l0.4 1.7M217.9 332.4l-1.1 1.9M247.0 318.9l-1.0 1.1M239.0 342.9l-0.2 2.2M223.1 356.6l-0.0 0.8M236.0 334.8l0.3 1.6M244.6 339.1l-0.2 2.1M243.5 311.4l0.6 2.8M228.3 342.7l-1.3 1.8M248.9 316.7l0.1 1.7M246.1 324.2l-1.6 1.9M236.8 334.4l-1.0 2.2M227.5 331.3l0.4 0.9M239.6 343.6l-2.0 1.6M241.7 330.1l-0.0 1.7M233.8 363.0l-1.4 1.3M248.5 326.3l-0.2 0.9M242.9 332.6l-2.1 1.1M246.6 343.9l-0.8 0.2M234.2 352.6l-1.6 1.9M245.3 348.8l-1.1 1.1M235.7 318.4l-0.7 1.5M241.1 349.2l-1.5 1.4M240.6 339.2l-1.5 1.4M233.2 348.9l-0.1 0.8M223.3 348.0l-0.5 1.5M228.2 348.9l-1.4 1.4M237.6 348.5l-0.3 2.0M241.1 338.2l-0.2 2.7M245.1 336.5l-1.1 1.3M238.7 323.4l-0.3 0.9M228.1 346.2l-1.4 2.3M244.3 310.6l-0.6 1.3M236.8 345.3l-0.8 0.3M238.5 334.8l-0.7 0.4M232.9 344.0l-0.1 1.1" fill="none" stroke="#f6a9c6" stroke-width="0.5" opacity="0.5" stroke-linecap="round"/>
<path d="M65.6 333.1l-0.6 1.3M63.2 329.7l-0.2 1.4M60.5 330.2l0.4 0.6M61.2 327.8l-0.2 0.5M59.4 329.6l-0.5 1.1M60.9 330.5l-0.2 1.0M61.7 329.5l-0.8 1.3M62.3 329.5l-0.2 1.1M63.0 330.9l-0.6 1.4M63.9 329.1l0.1 1.4M61.3 330.7l0.3 1.5M64.9 332.4l0.3 1.0M61.9 326.5l-0.1 1.1M64.5 329.2l-0.7 1.3M64.4 326.5l0.4 0.7M58.4 330.3l0.4 0.6M64.8 328.3l0.2 0.4M62.2 327.6l0.1 0.7M62.7 331.2l1.0 1.2M61.5 328.6l-0.0 0.9M62.0 328.9l-0.1 0.6M61.6 332.0l-0.2 0.5M60.4 329.9l-0.2 1.0M60.6 331.2l0.2 0.5M63.9 331.3l-0.4 1.3M61.1 329.0l-0.2 1.1M62.6 331.7l-0.0 0.6M61.8 330.4l-0.6 1.3M64.4 330.2l0.5 1.0M60.2 332.4l-0.7 1.0" fill="none" stroke="#a338cf" stroke-width="0.8" opacity="0.7" stroke-linecap="round"/>
<path d="M72.2 351.5l-0.5 0.6M61.2 346.4l-0.3 1.4M72.5 341.3l-0.7 1.0M63.4 342.3l-1.3 0.3M64.9 346.4l0.4 0.6M66.8 353.1l-0.9 0.9M62.3 345.1l-0.7 1.2M73.1 351.8l0.2 0.8M74.3 346.1l0.1 0.6M76.4 346.5l0.4 1.7M62.9 350.9l0.3 1.3M70.1 348.5l-0.7 1.3M64.5 347.7l-1.1 1.2M69.6 346.2l-0.3 0.7M77.5 350.2l-1.0 0.4M70.0 351.8l-0.2 0.6M69.0 344.9l-0.3 0.5M69.1 358.8l0.8 1.4M72.7 355.0l0.3 1.4M63.6 344.8l0.9 1.1M59.7 348.8l-1.4 0.6M58.7 347.7l0.2 0.9M72.7 351.7l-0.3 1.6M64.1 339.9l0.2 0.9M58.4 349.4l0.3 1.6M65.4 343.6l0.6 0.4M67.1 348.5l-0.2 0.9M67.9 354.7l-0.2 0.7M66.8 342.2l-0.6 0.2M65.6 345.7l-1.2 1.0M72.4 348.5l-0.9 0.2M68.6 347.1l0.7 1.6M60.2 345.6l-0.2 1.5M66.0 348.8l-0.1 1.7M63.6 351.3l-0.3 0.5M68.8 349.1l-0.2 0.7M64.1 349.6l-0.4 1.5M69.6 343.0l-0.9 0.9M75.7 353.7l-0.0 0.7M72.1 350.3l-0.2 1.8M73.2 348.2l-0.4 1.5M70.6 345.4l-0.4 0.3M63.3 346.7l0.1 1.8M68.3 347.1l-0.3 1.8M64.8 350.7l0.2 1.3M72.5 349.4l-0.8 1.3M68.2 352.1l-0.3 0.6M71.2 344.7l-1.5 0.4M61.3 347.2l-1.0 1.2M60.9 353.3l-0.0 0.9M66.2 346.8l0.1 1.0M69.0 341.3l-0.3 0.6M72.1 349.4l0.6 1.3M71.0 346.1l-0.7 0.9M69.7 345.9l-0.1 1.5M69.4 351.9l-0.5 1.3M77.0 349.2l-0.2 0.6M64.7 341.3l-0.9 1.1M62.7 347.6l0.7 1.1M66.0 346.8l-0.3 0.7M70.9 346.2l-0.6 1.1M71.6 346.2l-0.7 1.5M66.5 345.3l-0.1 0.6M69.1 350.4l-0.4 0.2M69.3 352.9l0.2 0.5M79.1 351.8l0.1 1.0M76.6 346.9l-0.1 0.7M74.3 353.2l-0.9 1.4M70.6 345.6l-0.2 1.1M64.9 346.9l0.3 0.6M73.0 352.0l-1.0 1.2M64.9 345.5l-0.9 1.5M51.6 342.1l-0.7 0.8M74.0 345.1l0.8 0.9M68.3 346.6l-0.3 0.7M68.7 349.5l0.8 1.6M66.8 343.2l-0.3 0.7M73.9 346.9l-0.2 1.0M57.3 349.0l-0.3 1.0M72.4 345.5l0.1 0.8M69.7 347.9l-0.8 0.5M66.4 345.1l-0.3 0.6M60.3 344.3l0.2 0.7M59.0 345.2l0.4 1.5M64.8 347.5l-0.6 1.5M73.0 349.4l-0.0 1.0M59.8 351.1l0.4 0.7M68.6 349.7l-0.9 0.4M78.1 346.7l-0.0 0.6M72.7 347.6l-0.5 1.4M72.3 351.8l-0.5 0.7M62.0 343.6l-0.5 0.6M74.5 346.3l-0.5 0.8M70.0 349.9l0.3 1.4M63.6 343.8l0.1 0.7M75.2 347.4l-0.3 1.1M73.2 352.8l-0.3 1.5M73.2 352.6l-0.3 0.8M74.5 345.3l-0.6 0.8M71.4 347.0l0.7 1.4M73.2 346.9l-0.8 1.5M64.5 342.4l0.0 1.2M56.2 344.0l0.8 0.6M63.9 353.8l-0.9 1.3M67.2 340.0l-0.6 0.5M70.2 350.2l0.1 0.9M71.8 347.8l-0.3 0.9M67.2 347.5l-0.8 0.8M63.0 353.2l0.0 1.1M70.8 348.7l-0.6 1.1M64.0 350.8l-0.9 0.8M66.2 347.6l0.4 1.1M65.0 348.1l-0.3 1.6M65.8 350.5l-0.4 0.9M62.7 350.0l-0.3 0.6M70.7 348.6l-0.2 1.0M67.8 352.8l-1.0 0.7M75.7 349.2l-0.2 1.8M63.6 348.5l-0.5 1.5M67.3 345.0l0.3 0.7" fill="none" stroke="#a338cf" stroke-width="0.8" opacity="0.65" stroke-linecap="round"/>
<path d="M47.0 356.0l-1.2 0.3M52.4 357.6l-0.1 1.4M50.8 355.3l-0.1 0.8M52.7 359.5l0.3 0.8M49.8 354.8l-0.2 0.7M52.7 355.4l0.1 0.5M49.2 345.9l0.1 1.3M51.3 359.4l0.3 1.0M52.5 356.2l-0.0 0.8M51.2 356.9l0.0 1.3M54.1 352.7l0.9 1.2M51.2 350.2l-0.4 0.7M52.1 352.3l-0.1 0.6M55.3 363.0l-0.4 1.1M47.5 355.8l-0.2 1.7M52.8 360.9l1.0 1.4M53.6 363.4l0.7 1.6M50.5 352.0l-0.4 0.4M50.7 346.0l0.7 1.6M54.1 366.6l0.0 0.9M55.2 365.2l0.2 0.9M46.9 356.8l-0.3 1.5M50.1 355.8l-0.6 1.6M46.5 349.8l0.7 0.3M50.0 347.9l0.8 1.4M48.3 358.0l0.9 1.1M53.2 358.2l1.6 0.9M49.8 360.4l-0.0 1.2M49.4 351.9l0.2 1.5M51.3 354.5l-0.1 0.6M54.3 355.2l0.3 0.5M47.9 352.4l0.2 1.0M54.0 355.5l-0.6 0.8M49.8 349.7l0.2 0.8M56.4 360.8l0.6 0.4M51.8 357.0l0.5 0.6M55.1 359.6l0.3 0.6M50.8 356.9l0.5 0.7M50.4 356.9l-0.2 1.7M48.4 351.0l0.4 0.8M56.8 360.7l0.2 1.8M50.8 354.0l0.1 0.5M48.9 349.6l-0.2 1.4M51.7 361.7l1.0 1.4M51.4 351.4l1.2 0.7M54.9 350.9l0.3 1.7M55.4 354.9l-0.0 0.9M53.3 353.4l-0.7 0.5M48.3 355.8l0.9 1.3M51.9 355.2l0.2 0.5M53.7 357.8l0.9 1.4M49.1 355.8l-0.3 0.9M54.3 366.1l0.9 1.5M54.2 357.4l0.1 1.6M52.4 355.4l-0.0 1.5" fill="none" stroke="#a338cf" stroke-width="0.8" opacity="0.6" stroke-linecap="round"/>
<path d="M52.4 321.8l0.2 0.7M44.4 346.4l-0.4 2.3M58.8 342.1l0.1 0.9M53.9 340.8l-0.1 0.8M48.0 346.0l-0.8 1.9M58.2 354.1l-0.2 0.9M47.7 363.4l0.5 1.7M48.5 348.6l-1.4 1.8M70.9 353.1l-0.2 1.2M69.1 347.9l0.2 0.9M52.6 345.0l-0.2 1.5M57.9 340.2l-0.1 0.9M41.5 334.7l0.9 1.1M53.5 358.2l0.9 0.7M65.9 361.0l-0.3 1.6M55.0 346.0l0.2 0.8M63.5 350.2l0.7 1.1M42.2 335.5l-0.3 1.3M53.3 349.2l0.0 0.6M70.8 348.7l0.8 1.1M53.6 347.7l-0.6 0.9M57.9 336.8l-0.5 1.4M55.7 353.0l-0.9 1.0M48.0 342.9l-0.5 0.9M62.1 343.7l-0.7 1.3M58.7 343.7l-0.0 0.9M48.9 345.0l-0.4 1.1M60.4 342.8l-0.3 1.6M59.8 354.7l-0.9 1.6M58.8 334.0l1.2 1.4M64.2 335.0l-0.3 1.0M45.6 326.8l-0.1 0.7M64.3 340.9l-0.1 1.6M53.4 343.6l-0.0 0.7M63.4 343.5l-0.9 1.0M70.7 329.3l0.0 1.1M52.1 346.4l0.3 1.6M47.9 339.1l0.4 2.2M62.8 345.6l-1.3 1.2M55.4 345.4l-1.2 0.7M47.6 340.0l-1.1 1.3M46.2 338.2l-0.9 0.8M56.1 340.7l0.8 1.5M82.5 341.0l0.9 2.1M67.9 353.8l-0.8 1.5M59.0 369.8l-0.8 0.3M51.4 337.5l-0.4 0.7M53.8 340.4l0.2 0.9M57.0 346.9l0.4 0.9M58.2 345.3l0.2 1.0M45.9 343.2l-0.1 1.2M62.0 339.9l-0.6 1.9M58.5 352.3l-0.1 1.9M60.2 362.5l0.2 1.2M56.2 353.7l-0.2 1.0M41.8 343.1l0.9 1.9M62.7 343.0l-1.0 1.4M78.7 347.3l0.8 1.7M57.2 347.8l-0.6 1.4M62.0 351.3l0.5 1.0" fill="none" stroke="#dd3a98" stroke-width="0.6" opacity="0.45" stroke-linecap="round"/>
<path d="M100.4 348.5l-0.5 3.0M95.3 337.8l-1.4 2.1M95.4 338.6l-1.5 0.8M94.5 353.0l-0.6 0.8M98.3 339.9l-0.7 1.9M82.6 334.8l-1.0 2.2M91.6 340.2l-1.2 1.5M95.8 339.1l-0.2 2.8M91.0 338.9l-2.5 1.1M100.0 343.9l-0.8 0.9M98.0 340.2l-2.8 1.0M100.0 353.0l-1.5 1.4M89.5 329.2l-1.3 0.5M93.9 341.9l-0.9 3.0M97.2 335.7l-1.1 0.7M84.7 346.4l-1.3 2.2M96.2 338.2l-1.5 2.3M91.6 341.2l-0.9 1.0M100.6 334.6l0.3 2.4M102.3 348.7l-1.4 1.2M89.8 347.3l-1.5 2.3M92.8 334.8l-0.9 1.9M92.5 338.6l-2.2 1.7M85.4 338.0l-1.8 1.8M101.1 337.4l-0.9 2.8M99.0 338.7l-1.1 1.3M98.4 338.1l-1.3 2.1M100.2 332.4l-1.2 2.0M102.5 339.2l-2.7 1.5M94.7 344.1l-1.5 0.4M94.9 333.3l-0.3 0.8M92.2 338.9l-2.2 0.7M92.3 348.5l-1.0 0.1M92.2 352.4l-0.4 3.1M98.4 335.4l0.9 1.9M89.4 343.5l-0.6 1.1M90.7 336.5l-2.5 1.1M88.7 343.2l-0.9 0.7M87.4 333.1l-0.8 2.2M90.3 348.9l-0.4 1.9M100.6 347.9l-0.5 1.7M98.1 342.7l-1.8 1.5M90.2 336.9l-0.9 2.4M95.4 340.4l-2.2 0.9M93.1 332.1l-1.0 1.3M88.6 336.4l-1.7 1.5M107.7 337.6l-2.1 1.7M89.0 337.0l-2.3 1.5M90.9 345.1l-1.5 1.4M93.7 343.4l-2.6 0.5M96.6 344.0l-2.6 1.6M107.6 339.2l-0.4 2.5M99.1 349.9l-2.5 -0.2M98.9 341.9l-1.8 0.9M90.3 335.0l-0.8 0.6M87.5 341.6l-1.0 0.8M86.0 338.7l-1.8 1.8M94.5 349.1l-0.6 1.1M93.5 337.0l-0.5 0.9M90.2 343.5l-2.8 1.3M100.4 349.0l-0.7 0.9M90.7 347.8l-1.9 2.2M97.7 343.1l-0.3 0.9M95.5 345.4l-1.1 0.2M94.3 338.0l-1.7 1.6M95.1 345.9l-1.0 1.6M94.3 321.3l-1.9 0.9M101.4 342.2l-0.1 1.7M96.7 340.2l0.7 2.0M91.6 339.5l-0.5 1.6M92.6 336.0l-0.9 0.4M93.7 342.3l-0.6 0.6M98.1 341.4l-2.1 0.5M94.1 336.2l-0.9 2.2M98.0 339.2l-0.1 1.4M95.6 347.7l-0.3 1.4M96.2 338.4l-1.0 0.4M98.2 337.2l-0.8 2.0M94.5 344.5l-0.4 2.1M95.5 347.3l-0.9 2.4M99.1 346.5l-0.6 0.7M99.3 341.3l-2.1 2.1M91.4 343.4l-0.1 1.0M107.1 337.1l-0.7 2.1M94.2 335.4l-1.0 2.6M95.0 342.8l-1.0 0.2M94.3 348.3l0.1 2.4M99.9 337.3l-0.7 0.6M79.6 338.9l-0.6 2.1M97.6 349.6l-0.9 1.5M104.2 336.7l-0.6 1.2M94.5 334.0l-1.6 0.5M101.6 342.0l-2.3 1.7M93.1 351.5l-2.1 2.0M89.2 337.6l-1.0 2.9M93.6 348.9l-2.6 0.5M88.0 334.4l-1.3 2.4M96.4 334.6l0.2 1.9M86.8 339.2l-0.8 1.0M100.9 348.1l-1.3 1.9M93.7 340.0l-0.4 1.1M100.2 348.6l-1.8 1.3M105.0 327.8l-2.0 1.9M103.7 341.0l-0.6 2.1M90.9 341.1l-2.1 1.1M93.6 331.6l0.5 1.3M89.2 331.8l-2.1 1.0M94.3 342.2l-0.6 1.6M100.7 344.3l0.2 2.1M95.4 328.7l-1.9 1.6M87.2 340.4l-1.4 0.7M94.5 345.6l-1.8 2.1M98.6 342.7l-0.4 1.2M96.0 348.7l-1.1 0.4M91.8 337.5l-2.0 1.2M98.5 344.1l-0.7 1.1M101.0 350.3l-1.4 1.9M104.0 350.6l-2.2 1.2M94.2 339.1l-0.8 0.5M103.9 351.4l-0.4 0.9M94.3 337.4l-2.8 0.8M90.0 339.3l0.4 2.7M86.1 341.5l-0.4 0.8M85.0 344.6l-1.0 1.6M96.9 334.5l-1.8 1.3M95.4 340.8l-2.8 0.8M92.8 332.0l-1.7 1.6M102.2 337.1l-0.4 1.7M95.9 336.5l-1.2 1.0M100.6 342.4l-1.4 2.6M102.7 346.9l-1.3 0.9M89.1 346.1l-1.1 1.3M101.9 337.6l-0.5 1.8M89.6 335.3l-1.8 1.5M94.0 339.5l-0.5 1.1M98.7 337.6l-0.8 1.3M99.7 334.3l0.5 0.8M92.7 325.5l0.3 1.3M93.3 345.1l-1.0 1.0M103.4 335.7l-1.5 2.1M101.9 348.4l-1.3 1.9M94.6 342.8l-0.6 1.3M87.3 345.8l-2.9 0.6M88.3 340.2l-0.2 1.0M93.7 343.4l-0.8 0.7M95.9 346.5l-1.9 2.1M91.9 346.1l-2.7 0.7M96.5 340.6l-1.6 2.4M96.9 339.6l-0.1 3.0M91.6 339.0l-1.6 1.8" fill="none" stroke="#ee4565" stroke-width="0.6" opacity="0.6" stroke-linecap="round"/>
<path d="M89.7 334.8l0.2 0.4M89.2 333.7l-0.7 0.8M92.3 338.1l1.1 0.7M87.9 333.1l-0.0 0.5M89.5 337.6l0.2 0.9M89.9 335.8l0.1 0.7M89.6 335.8l-0.2 0.8M87.0 335.1l-0.2 1.3M90.6 335.4l0.6 0.7M89.1 337.1l-0.8 0.8M91.5 331.4l0.2 1.2M88.5 335.7l-0.6 1.2M88.7 335.1l1.4 0.5M89.4 334.1l0.5 0.7M92.3 335.9l0.5 1.1M91.4 336.9l-0.3 0.8M203.5 303.3l-0.5 0.9M199.2 306.2l0.2 1.2M202.9 299.6l0.1 0.8M194.9 304.3l-0.1 1.0M207.9 306.5l-0.3 1.1M202.0 303.0l-0.1 1.0M203.1 305.0l-0.3 0.5M207.2 308.1l0.3 1.0M200.2 304.8l-0.1 0.5M202.6 303.2l-0.2 0.4M247.1 311.4l-0.2 1.0M246.4 303.8l0.0 0.4M248.2 309.6l-0.3 0.8M247.0 303.0l-0.4 1.3M247.9 307.2l0.2 0.4M245.8 310.5l-0.5 1.3M244.3 308.4l0.5 0.5M242.5 305.6l0.2 1.1M243.7 307.1l-0.5 0.7M249.4 307.6l-0.1 0.8M247.8 312.6l-0.1 0.4M244.1 311.9l-0.3 0.7M245.3 306.6l0.2 0.5M249.9 312.4l0.1 0.9M246.9 303.0l-0.6 0.5M248.5 309.1l-0.2 0.7M246.1 305.0l-0.3 0.7M250.6 307.7l0.8 1.1M251.5 309.3l0.5 1.1M247.3 313.3l0.1 1.4M251.0 309.2l-0.5 0.5M248.0 312.1l0.5 0.8" fill="none" stroke="#a338cf" stroke-width="0.7" opacity="0.5" stroke-linecap="round"/>
<path d="M85.6 358.6l1.0 1.2M82.0 368.0l0.9 1.9M88.6 348.0l1.4 1.3M88.8 368.1l0.6 1.5M89.6 358.3l1.5 0.9M82.0 360.9l1.2 1.5M101.7 360.0l0.9 1.8M90.7 356.7l0.7 1.7M93.3 366.2l1.1 2.1M92.0 365.0l1.0 1.8M88.6 367.4l1.5 0.9M91.9 361.8l-0.2 3.4M79.6 358.6l0.2 1.5M71.8 371.9l-0.9 1.7M86.4 365.0l0.6 1.5M97.2 372.4l1.8 0.4M87.0 355.7l0.1 2.5M98.3 345.5l1.3 2.8M78.8 365.8l2.4 1.6M88.9 361.8l0.2 1.6M96.8 357.8l0.2 1.0M85.8 332.5l1.6 3.0M103.0 366.4l1.4 3.3M65.8 361.8l-0.1 2.8M85.7 348.5l2.3 2.2M91.4 340.1l1.6 0.9M72.2 355.8l1.3 2.7M85.9 370.1l0.2 2.7M99.8 362.5l0.3 1.3M87.9 347.7l2.0 2.9M90.0 367.7l3.1 1.1M78.7 366.5l1.1 1.6M93.6 373.3l-0.4 1.7M81.7 383.0l-3.4 0.9M81.7 381.0l1.4 3.2M76.6 356.0l1.5 1.1M85.1 365.9l0.4 1.3M80.7 363.6l2.1 1.9M88.9 368.1l1.1 2.5M88.7 351.4l0.9 3.2M81.6 355.7l1.2 1.8M84.2 361.2l-0.7 3.4M82.4 361.9l1.0 3.4M82.3 364.4l0.9 2.9M97.6 379.9l0.8 2.8M78.6 367.9l0.7 2.5M97.3 361.3l0.2 3.0M92.1 356.4l0.7 1.4M83.0 361.8l0.3 1.4M106.6 360.7l1.2 2.2M86.9 365.9l0.7 1.5M89.8 371.8l0.9 1.7M91.2 360.8l0.9 1.0M87.0 358.4l-0.5 3.5M86.7 366.2l0.2 2.0M84.3 373.1l0.4 1.5M86.8 372.1l1.1 2.5M90.0 375.4l-0.9 3.2M86.8 357.9l-0.6 2.8M94.4 365.1l-1.4 2.9M77.6 371.8l-0.4 3.5M78.7 360.2l1.7 2.2M96.4 369.8l-0.2 1.2M91.7 355.9l0.9 3.4M90.2 376.1l-0.4 2.2M110.0 356.3l1.7 0.4M97.4 347.6l0.9 3.4M93.3 365.9l0.8 2.7M97.2 364.1l0.8 1.8M84.0 360.6l1.8 0.1M81.5 376.7l-0.8 1.6M68.3 374.1l-0.2 1.4M79.7 363.5l2.0 3.0M67.7 379.6l1.8 0.8M84.6 360.8l-1.3 1.4M80.2 373.0l-0.2 2.1M77.3 358.4l0.0 1.7M83.4 368.6l3.2 1.6M77.7 366.8l1.1 2.8M92.5 368.6l2.5 1.5M87.2 357.5l2.9 1.6M67.2 352.1l0.7 0.9M96.9 372.2l1.4 2.4M91.0 365.9l1.6 2.9M95.1 377.9l0.9 2.4M94.8 362.0l-0.3 1.7M81.4 364.3l0.6 1.1M86.2 375.2l0.8 1.4M76.9 345.7l0.8 1.8M84.5 374.5l0.4 1.0M97.4 360.5l1.2 2.3M92.5 353.6l0.2 1.5M75.9 364.5l0.1 1.0M81.5 359.2l0.9 2.6M82.6 374.1l1.1 1.7M91.8 373.8l0.8 1.7M89.0 356.2l1.7 2.6M87.0 356.6l0.8 1.3M104.8 355.6l0.3 2.2M77.0 366.6l0.4 2.5M98.4 376.7l0.6 2.5M104.8 369.3l1.7 3.1M86.9 365.1l1.8 1.2M91.8 335.3l0.7 1.2M87.5 365.4l0.4 1.0M86.8 366.5l-0.3 3.4M88.4 364.8l1.3 2.5M90.9 382.2l2.4 2.5M88.0 351.9l-0.2 2.8M93.4 355.9l0.1 1.8M103.1 367.5l-0.5 3.0M93.2 375.3l0.4 1.4M93.5 359.5l1.1 2.1M107.2 365.4l0.6 1.5M84.2 355.1l1.5 2.9M89.9 358.8l0.4 1.3M77.7 366.1l0.2 1.5M92.1 350.7l0.6 2.7M89.2 364.8l0.2 1.1M78.8 373.2l0.1 1.8M93.0 356.8l0.8 2.8M89.9 365.6l-0.5 2.1M92.6 347.7l-1.9 2.0M88.9 367.1l1.0 1.8M98.3 371.6l0.5 2.3M84.5 350.7l0.5 2.0M78.6 370.5l1.4 2.5M84.2 375.8l-0.4 1.0M91.7 369.3l1.3 2.2M80.8 352.9l1.2 2.5M101.4 366.4l0.9 1.4M93.4 370.0l2.5 1.9M84.3 365.0l0.4 2.0M89.6 363.4l0.8 1.9M101.8 363.2l-0.1 3.6M92.3 370.4l0.8 1.6M104.0 355.6l1.4 1.4M76.3 368.3l0.7 1.8M72.2 344.3l1.5 1.6M91.2 360.9l1.5 3.1M89.5 362.6l0.5 0.9M92.8 364.7l2.3 0.7M92.1 359.7l1.0 1.1M96.1 368.5l-1.6 2.5M89.3 371.0l1.4 1.1M96.1 365.0l1.2 0.1M93.9 371.6l3.1 1.7M93.1 367.7l1.5 1.3M84.4 350.2l1.8 3.1M98.7 338.0l0.8 2.6M71.7 362.3l0.6 1.1M97.4 363.1l1.8 2.4M95.7 366.2l1.1 1.9M82.6 375.9l1.6 1.2M80.2 365.7l1.5 2.9M92.5 362.5l0.1 3.1M83.3 358.5l-1.0 1.8M77.9 372.5l-0.7 0.9M94.5 361.3l-1.0 3.4M96.4 378.4l1.7 1.8M93.3 368.4l0.6 3.4M81.2 358.5l-0.2 1.8M98.8 380.8l0.8 1.0M74.9 347.8l0.6 2.9M87.5 362.2l1.2 2.9M88.7 366.4l-1.1 3.1M71.0 365.3l0.5 1.1M102.4 360.2l1.6 1.9M79.1 374.3l1.3 1.6M98.2 356.5l2.0 2.0M91.7 375.2l0.9 1.2M97.2 368.2l0.3 1.9M87.8 375.4l0.5 3.3M84.0 368.7l0.8 3.2M82.6 348.5l1.9 2.8M93.8 370.8l0.4 3.0M96.9 366.3l0.3 1.2M91.9 347.3l1.7 0.6M89.6 367.2l0.5 1.4M91.6 372.6l0.0 2.2M92.7 355.2l-0.0 1.2M103.3 375.6l0.7 1.4M86.8 374.0l0.9 1.9M99.8 381.1l0.8 3.5M94.7 359.9l0.9 2.7M94.9 370.9l1.1 2.9M82.2 365.0l1.4 1.8M78.6 344.3l0.1 2.2M99.5 358.3l-0.3 1.3M80.2 360.6l0.8 2.6M94.9 372.4l1.4 0.2M94.4 350.9l1.7 2.0M78.1 355.9l0.4 1.7M104.7 377.0l1.6 1.6M90.0 377.0l1.0 0.4M89.9 367.9l0.6 1.4M78.6 369.7l0.7 3.5M83.8 346.6l0.3 1.0M83.5 377.4l0.6 2.0M90.9 363.7l1.9 1.5M77.1 351.7l1.8 1.0M106.2 373.2l0.1 2.2M81.9 364.8l1.7 3.0M101.5 379.7l0.1 3.2M92.7 364.0l-0.2 1.7M93.0 371.9l1.9 1.3M93.8 360.4l0.8 1.6M96.1 355.3l0.8 2.2M101.2 354.0l0.1 2.6M75.7 352.3l0.5 1.4M78.3 360.9l1.1 1.4M86.9 361.1l1.1 1.8M98.3 364.4l0.4 1.2M87.8 367.2l2.4 2.6M87.9 369.4l0.9 2.6M98.6 351.3l0.8 2.4M91.9 370.8l0.4 1.1M95.3 367.1l-0.0 2.2M77.6 360.6l1.9 2.0M83.8 369.3l0.9 1.4M104.8 359.0l3.0 1.5M87.8 341.0l2.4 2.4M87.7 371.7l-0.2 2.1M85.2 363.6l0.6 1.9M93.1 356.8l-1.4 2.8M77.0 367.1l1.4 1.1M98.0 352.8l-0.7 2.9M90.9 360.7l1.1 1.5M83.4 368.2l0.1 1.3M101.3 377.7l0.7 2.0M89.8 371.3l1.5 1.0M75.8 353.5l0.2 2.5M86.9 348.3l-0.1 3.0M94.3 376.6l-0.3 1.4M92.5 357.6l0.6 1.2M80.9 359.3l0.0 2.7M76.5 366.9l-0.7 3.0M82.0 355.1l0.3 1.9M88.6 352.0l0.3 2.8M80.7 375.9l1.8 2.2M91.6 354.3l1.3 2.9M95.1 369.3l2.6 2.4M81.7 361.7l0.1 1.3M87.0 371.1l-0.3 2.9M85.4 363.5l1.6 2.6M86.0 375.9l1.8 2.4M95.1 366.1l1.8 2.4M77.1 367.5l1.5 2.9M94.1 363.6l1.0 1.5M86.2 359.4l0.5 1.8M87.5 368.6l0.3 3.1M91.9 371.0l2.2 2.7M89.1 375.8l2.4 0.2M95.1 345.4l-0.2 2.3M85.5 381.9l-0.8 3.4M89.1 363.9l1.6 1.2M85.0 359.0l0.2 2.2M102.9 360.4l2.3 2.1M76.1 364.6l0.5 1.5M80.3 375.5l0.8 1.9" fill="none" stroke="#dd3a98" stroke-width="0.6" opacity="0.55" stroke-linecap="round"/>
<path d="M79.1 373.4l-0.4 2.3M74.1 377.3l0.5 1.3M69.7 386.4l1.0 1.8M86.1 379.5l0.7 2.5M66.7 376.9l-0.3 2.6M86.8 377.7l0.1 1.6M69.6 376.3l-0.2 1.8M74.6 377.1l0.3 0.9M73.9 378.7l-0.4 1.7M85.6 391.1l-1.1 0.5M67.8 380.8l-1.2 1.8M89.3 376.3l-0.2 1.7M72.6 374.1l0.7 2.2M91.6 388.1l0.3 0.8M69.4 381.6l-0.4 1.5M87.8 380.7l-0.3 1.6M85.9 377.9l0.8 2.7M67.8 384.8l0.7 2.2M64.0 379.9l-2.3 1.3M78.1 386.4l-0.1 0.9M78.3 371.6l-0.2 1.0M73.0 382.8l0.5 1.9M65.2 381.4l0.5 1.4M77.5 376.5l-0.2 1.3M75.9 387.0l-0.7 0.8M95.7 376.4l0.4 2.5M78.6 369.8l0.7 2.7M77.1 380.6l-0.0 1.7M63.7 374.3l-0.2 0.9M79.5 368.8l-1.7 1.7M88.3 380.2l-0.1 1.1M85.0 378.1l-0.5 1.2M72.0 384.7l0.1 1.9M71.6 385.7l-0.1 1.4M80.0 384.0l1.5 2.3M70.6 385.2l-0.3 2.2M86.9 370.4l-0.1 0.9M77.9 378.9l1.3 2.4M90.5 374.7l0.1 0.9M74.8 375.2l-0.2 1.4M87.4 380.4l-0.0 1.0M91.9 375.9l-1.4 2.2M68.3 369.6l-0.0 2.7M83.1 391.4l0.1 1.4M81.0 376.9l-0.2 1.2M75.2 380.8l0.6 2.3M84.6 383.1l1.5 1.3M72.3 387.2l-0.4 2.5M72.2 377.4l0.8 2.3M80.7 379.5l1.7 1.8M76.6 378.0l0.1 0.8M77.3 375.7l0.4 2.4M90.2 379.1l-0.6 1.1M78.0 366.4l0.1 1.4M84.6 377.1l0.1 0.8M85.5 376.2l0.3 2.6M80.3 368.2l-1.7 2.3M81.9 380.3l0.4 1.6M83.7 391.0l-0.3 1.7M72.7 370.0l0.6 1.3M77.6 380.5l0.5 2.0M80.9 375.7l-0.4 1.0M74.1 376.1l0.9 0.8M96.3 376.9l0.8 2.4M84.6 376.0l0.9 2.3M70.6 385.4l0.8 2.0M86.1 375.4l-0.7 0.7M78.6 366.0l-0.5 2.8M77.8 382.0l-0.4 1.9M78.5 382.5l-0.3 1.7M82.1 386.6l-0.7 2.3M69.3 378.3l1.6 1.6M73.7 385.2l-0.0 2.5M85.5 386.1l-0.0 1.0M73.1 379.3l-0.3 1.0M73.4 387.5l0.4 2.0M66.5 378.9l-0.5 2.4M87.3 377.5l-0.3 1.2M82.5 364.4l-0.2 1.7M82.4 376.0l-1.0 2.4M68.8 376.9l-0.4 2.0M84.9 375.9l-0.1 1.4M68.2 374.4l-0.7 1.1M82.6 378.3l-0.1 2.8M75.8 364.0l-0.2 1.4M62.5 376.9l0.1 1.3M72.0 382.6l-0.2 2.0M83.2 384.0l-0.1 1.0M78.2 379.2l-0.2 2.5M87.4 376.5l0.1 1.9M79.9 373.8l0.2 2.1M67.9 373.5l-0.9 2.0M65.9 381.8l-0.0 2.3M69.5 380.3l-0.3 1.4M75.4 377.2l-0.5 1.3M85.9 381.4l-0.6 0.6M69.8 385.8l1.9 1.7M90.1 383.6l0.6 1.3M82.3 386.6l0.2 0.9M73.3 381.2l-0.9 1.3M82.2 379.2l1.4 2.0M87.0 377.7l0.0 1.5M73.2 375.4l-0.4 1.0M78.0 374.5l1.1 2.6M78.3 379.5l0.6 2.0M63.8 380.9l-0.3 1.7M77.2 381.1l-0.5 1.0M80.3 379.0l-0.1 1.0M74.6 369.7l-0.1 1.5M75.7 365.9l-0.4 0.8M224.8 286.4l-1.1 1.0M221.5 269.9l-1.0 1.4M212.7 281.8l0.0 1.1M211.5 282.8l-0.7 0.6M204.3 300.7l-0.5 0.5M226.6 294.3l-0.6 0.8M207.7 277.8l-0.9 1.4M211.8 286.1l-0.3 1.3M215.8 282.9l-1.0 0.7M214.6 277.1l0.1 1.0M215.8 294.5l-0.4 0.3M212.2 280.3l-0.5 1.1M204.1 284.2l-0.2 0.6M218.6 289.9l0.1 0.5M219.1 285.6l-1.3 0.3M213.7 281.5l-0.8 0.8M210.2 283.4l-0.8 1.0M213.5 277.8l-0.1 0.8M216.2 283.4l-1.5 0.3M218.6 286.5l-1.3 0.5M214.2 273.4l0.0 0.8M216.4 285.0l-0.1 1.0M212.5 282.2l0.0 1.2M218.2 286.7l-0.9 1.1M210.9 286.6l-0.5 0.3M210.3 285.3l-0.7 1.0M211.1 284.9l0.1 1.2M212.4 285.3l-0.7 1.1M219.1 288.7l-0.8 0.6M207.1 284.3l-1.0 1.2M209.2 293.6l-0.4 0.9M220.1 283.5l-0.2 0.9M201.3 290.4l-1.0 1.5M208.4 272.8l-1.2 0.7M217.0 286.9l0.1 0.5M216.2 278.0l-0.8 -0.0M212.0 272.1l0.0 1.8M216.0 292.6l-0.5 0.4M218.3 278.2l-0.5 0.3M207.3 292.7l0.3 1.2" fill="none" stroke="#dd3a98" stroke-width="0.6" opacity="0.5" stroke-linecap="round"/>
<path d="M97.1 389.0l-1.2 0.9M98.3 387.1l0.6 1.5M85.6 382.2l0.3 1.9M104.9 384.5l-0.3 2.0M95.1 381.3l0.7 1.3M89.6 387.5l-1.4 0.8M85.4 385.8l-0.7 2.2M97.0 385.1l-0.3 1.7M95.9 387.2l-0.9 1.2M87.4 383.1l-1.3 1.3M100.4 386.4l-1.2 1.9M75.5 386.2l-0.4 1.5M80.6 385.0l0.9 1.4M89.3 387.6l0.5 1.8M98.0 387.9l-0.3 1.1M82.3 386.2l-1.5 2.1M97.4 383.0l0.4 1.5M90.5 391.4l-0.1 2.6M96.3 385.6l0.1 2.7M97.6 382.9l0.1 1.2M97.4 385.4l0.4 0.8M100.8 387.7l0.5 1.5M100.1 391.1l-0.7 2.2M102.6 389.3l0.1 1.2M93.5 380.1l-0.9 1.3M93.3 384.4l0.2 1.8M94.4 382.0l0.1 1.0M84.7 377.5l0.7 1.4M85.5 383.4l-0.0 2.6M98.3 381.4l-1.7 1.6M96.8 391.7l0.7 2.8M103.7 385.2l0.5 1.2M106.9 387.5l-0.8 1.2M80.3 386.3l0.9 2.1M101.3 378.8l-1.2 2.4M88.6 385.6l-0.1 1.2M99.4 382.8l-0.3 2.8M94.5 389.6l-2.0 1.5M83.6 385.6l-0.4 0.7M90.6 385.9l-1.1 1.4M82.0 383.5l-0.3 1.1M88.2 378.0l-1.6 1.7M92.4 378.6l0.2 1.6M99.7 387.4l0.1 2.2M76.4 383.4l-1.2 1.9M90.1 381.9l-0.3 1.2M90.8 386.9l1.0 1.8M88.3 384.2l1.6 1.0M87.2 381.1l0.1 1.8M98.4 383.9l-1.0 1.4M83.5 381.8l2.4 1.5M82.8 381.2l-1.3 1.5M85.5 384.9l-0.4 1.2M92.4 386.3l0.5 1.4M85.8 391.8l0.3 1.4M90.0 382.1l0.6 1.8M94.2 385.7l-1.4 1.6M93.3 384.0l-1.1 0.9M96.8 386.3l0.4 1.4M83.7 387.7l1.4 1.3M102.5 388.2l0.1 1.5M90.7 382.5l-0.8 2.0M99.4 385.0l0.6 1.7M84.5 381.7l-0.9 1.9M89.3 388.2l1.7 1.2M86.9 382.5l-0.7 1.5M104.6 382.8l-0.3 0.8M97.3 386.8l0.5 1.0M97.6 378.9l0.7 2.4M103.5 386.3l-1.0 0.4M88.1 386.0l-0.6 2.4M85.0 380.7l-0.2 2.0M103.3 388.5l0.8 2.6M95.6 382.5l0.1 2.7M94.1 389.2l-0.4 2.2M86.4 387.8l-0.6 0.8M93.7 384.5l-1.0 2.4M84.7 388.3l0.7 2.1M92.6 386.5l-0.7 0.8M99.3 383.5l1.2 1.0M83.1 388.6l-0.6 2.4M92.3 388.4l-0.1 2.4M94.5 389.6l-0.1 2.3M81.4 389.7l-0.6 0.7M97.5 381.6l-0.6 2.0M104.9 387.3l0.4 2.7M80.6 386.4l0.1 1.3M96.1 387.5l-0.2 1.1M85.2 383.2l-0.7 0.7M88.6 381.4l-0.2 1.6M99.5 384.2l-1.0 1.5M89.6 385.2l-0.1 2.2M96.7 387.6l-0.7 0.6M82.9 384.3l0.3 0.9M78.5 381.5l-2.3 0.1M92.5 389.4l0.0 0.8M91.6 379.9l-0.1 0.8M92.6 389.9l-1.0 2.2M90.9 386.5l-0.3 1.3M101.9 385.4l-0.7 0.3M93.4 390.0l-0.9 1.4M96.6 384.4l-1.0 0.7M87.1 379.9l-1.1 1.2M95.0 387.4l-1.0 2.5M99.5 394.1l-0.3 1.1M92.7 389.0l0.8 1.1M89.0 387.0l-0.0 2.1M100.6 384.7l0.1 1.0M88.0 379.9l0.5 0.6M99.2 381.7l0.6 2.8M94.4 388.7l-0.7 0.9M86.9 387.6l0.4 1.4M92.1 382.1l0.7 1.7M84.4 383.7l-1.5 1.1M91.0 383.5l-1.2 1.4M98.2 386.8l0.4 1.6M87.3 380.8l-1.5 2.4M84.3 382.8l-0.6 2.1M93.8 390.6l-0.6 2.1M91.7 381.5l-0.3 1.4M91.2 391.4l0.1 1.7M92.7 380.2l0.0 1.0M89.7 386.8l-1.9 0.5M103.5 380.6l-0.6 0.6M94.4 377.6l0.4 1.6M100.0 385.3l-1.3 2.4M88.5 380.9l-0.6 1.6M82.3 382.5l-0.9 1.4M99.5 387.4l0.0 1.0M87.8 382.9l-0.6 1.2M93.6 392.4l0.3 1.7M90.5 389.2l0.0 1.1M92.9 384.8l-0.4 2.8M89.4 377.3l-1.3 2.0M95.8 380.9l0.2 1.2M85.5 384.4l-0.6 1.8M98.6 384.4l-1.7 1.3M101.2 388.7l0.2 2.3M93.2 381.3l-1.3 2.3M93.8 390.1l-1.6 1.7M93.4 390.2l0.5 1.8M90.8 380.4l0.1 1.4M90.0 386.0l-0.6 2.0M89.0 381.3l0.1 1.1M94.7 385.7l-0.9 2.1M97.6 383.5l-0.3 2.0M88.1 384.5l1.1 1.9M80.5 379.6l-1.5 1.4M91.4 384.3l-0.1 1.4M93.0 390.4l-0.6 0.8M88.4 383.2l0.2 1.9M96.9 382.9l-0.7 2.6M89.4 384.8l-1.2 2.0M102.6 387.9l1.4 1.2M93.9 378.9l1.4 2.1M84.0 383.3l0.4 1.5M102.6 379.8l-1.2 1.0M87.5 383.0l0.3 1.3M89.5 389.6l-0.4 1.7M96.7 386.5l0.1 1.1M90.8 384.4l-0.7 1.5M106.7 383.5l0.0 1.7M106.1 388.1l-1.9 2.0M93.2 386.6l1.7 2.2M105.5 383.0l-1.1 0.1M93.1 380.5l0.7 1.1M89.9 385.2l-1.3 1.1M92.9 382.0l-0.3 1.2M87.6 385.3l0.4 1.7M90.5 381.5l0.2 1.8" fill="none" stroke="#e8206f" stroke-width="0.6" opacity="0.6" stroke-linecap="round"/>
<path d="M76.3 384.5l1.0 1.3M80.6 383.4l-0.2 0.9M88.4 387.9l0.3 1.7M81.8 387.5l-0.7 1.1M91.7 391.5l-1.4 0.5M81.3 385.5l1.5 0.9M86.0 386.3l0.2 1.2M82.3 383.3l-1.2 1.3M74.8 385.1l-0.4 1.6M82.5 380.7l-0.7 1.4M85.0 382.7l-0.5 1.3M84.6 387.4l-0.1 0.6M81.8 381.4l0.9 1.3M94.9 384.9l-0.1 1.1M76.3 383.9l-0.1 0.5M86.7 378.9l-0.5 1.3M84.3 387.0l0.3 1.5M83.3 383.6l-0.1 1.1M84.4 386.5l-0.1 0.9M82.7 385.3l-0.1 1.1M75.5 386.7l0.0 1.5M86.1 378.6l0.2 0.8M84.4 381.2l-0.5 1.7M83.3 385.4l0.5 0.8M75.4 383.3l0.5 1.0M82.2 389.0l-0.1 0.6M84.4 383.8l0.0 1.2M90.1 380.5l0.8 1.4M86.0 383.9l0.7 0.4M84.9 382.4l-0.2 1.2" fill="none" stroke="#6f3cf0" stroke-width="0.6" opacity="0.5" stroke-linecap="round"/>
<path d="M31.4 369.3l1.5 1.4M38.3 372.5l-0.2 0.8M39.2 357.9l-0.7 1.5M36.4 355.3l-0.5 0.9M41.9 365.2l0.6 1.4M34.7 368.4l-0.1 2.2M46.7 364.4l-0.1 0.9M41.2 374.0l-0.1 1.1M24.2 381.2l-0.6 1.5M33.0 379.8l-0.6 1.8M37.0 358.1l-1.1 1.7M42.4 361.9l0.9 1.4M22.7 368.1l0.9 1.1M20.9 360.1l-0.6 1.1M40.4 378.4l-0.1 0.6M30.8 373.2l-0.8 1.1M29.5 375.9l0.6 2.1M25.5 372.4l0.1 0.8M31.2 349.9l1.0 1.7M42.1 367.8l-0.8 2.1M47.3 348.5l0.2 1.6M23.8 349.5l-1.1 1.5M38.3 364.1l-1.0 0.8M21.7 373.9l0.8 0.7M31.9 361.9l-0.7 1.3M33.8 369.2l-0.7 1.6M23.7 349.4l0.3 2.2M41.5 360.0l-0.3 2.0M36.9 353.2l0.2 1.7M40.8 366.3l0.5 2.3M37.2 370.9l-0.4 1.9M29.9 376.0l0.2 0.8M26.0 364.1l1.0 1.4M19.3 381.7l0.7 1.6M30.4 348.0l1.8 1.0M33.6 371.8l0.1 1.0M23.5 358.6l0.4 1.3M33.1 355.5l-0.6 1.8M31.7 362.0l0.7 0.7M34.8 363.6l-0.7 0.8M26.6 382.6l-0.3 0.9M22.4 376.0l-0.1 1.6M39.8 372.1l1.2 0.8M36.7 351.5l-0.7 0.9M32.8 360.8l0.0 1.6M14.3 380.1l-0.2 0.9M41.3 364.4l-1.3 1.6M58.2 359.8l0.2 2.2M37.0 352.0l-0.1 1.4M47.1 374.5l1.0 1.5M43.3 369.8l0.7 0.9M29.9 365.5l0.0 1.2M30.7 375.2l-0.1 1.1M39.6 347.4l-0.1 1.0M47.3 362.8l-1.2 1.8M22.0 371.1l0.3 1.7M29.1 370.2l0.2 1.1M28.7 379.8l-1.0 1.7M39.5 367.2l0.6 0.2M27.1 372.8l-0.6 1.2M31.2 354.1l-1.6 1.1M50.1 366.9l0.1 0.6M39.6 351.6l-0.7 1.1M26.9 363.4l0.0 1.5M25.2 372.6l-0.3 1.2M25.2 371.6l-0.4 2.0M23.8 365.1l-1.0 1.9M32.0 371.1l-0.2 0.8M44.0 355.9l0.6 1.0M17.4 371.6l0.0 1.4M122.3 342.1l0.5 1.5M129.4 334.1l-0.5 0.8M123.1 320.2l0.2 1.5M108.4 351.2l-0.2 0.9M119.9 348.9l-0.1 1.0M115.1 354.6l0.9 1.0M111.4 348.9l0.1 2.5M122.2 346.6l-0.3 1.4M132.6 350.5l1.6 1.8M115.0 338.8l0.3 0.7M120.1 354.8l2.0 0.9M132.5 347.2l0.1 1.0M119.3 339.0l1.6 0.8M116.7 337.5l1.0 2.3M114.6 347.6l0.9 1.5M123.5 355.8l0.4 2.0M115.2 358.5l0.5 1.1M96.0 330.4l0.8 1.2M119.4 346.2l0.4 1.4M100.5 341.6l0.3 1.8M132.1 344.9l0.5 2.3M118.0 331.1l0.5 1.3M105.0 362.9l0.2 2.6M118.2 342.1l0.1 2.4M108.2 340.2l0.0 0.9M95.7 355.0l-0.0 0.7M121.7 337.9l-0.1 1.0M107.4 342.1l0.6 2.4M116.2 360.9l1.8 0.6M134.1 332.8l0.2 1.1M130.9 343.6l1.0 2.3M109.4 342.6l-0.9 2.1M119.7 352.6l0.2 1.2M107.7 342.1l1.8 1.3M117.8 345.2l0.6 1.9M133.9 325.9l1.3 1.5M125.3 327.3l0.5 2.4M113.5 347.1l1.5 1.5M106.9 344.9l0.2 0.8M130.1 358.8l-0.4 2.4M117.0 355.6l0.7 1.6M117.1 348.7l0.3 0.9M115.6 337.3l1.4 1.3M109.9 329.3l0.6 1.3M116.7 332.1l0.1 2.4M125.7 345.5l0.6 1.6M114.8 348.7l0.1 1.0M135.5 329.1l0.9 1.5M111.6 353.1l-0.2 0.8M117.6 342.2l0.9 0.2M127.1 345.2l0.2 1.0M131.1 347.9l1.6 1.3M98.7 353.0l-0.3 2.4M136.3 357.8l1.0 1.4M117.7 348.6l0.2 1.2M122.6 346.2l1.1 0.9M115.1 337.7l0.8 2.3M127.8 347.0l-1.6 1.7M134.0 363.3l0.4 0.7M110.8 350.4l-0.3 1.1M103.7 348.0l-0.6 1.4M109.4 351.9l0.0 0.7M118.9 348.8l-0.0 1.3M127.0 341.3l-1.4 1.7M116.2 356.8l-0.4 0.8M129.3 350.3l0.1 1.1M123.9 350.8l0.0 1.1M115.7 342.0l1.4 2.0M126.3 334.9l1.2 2.2M98.8 348.4l0.3 0.8M253.8 250.3l0.1 0.5M250.2 227.5l-0.1 0.8M265.4 232.6l0.2 1.1M266.9 250.2l-0.5 0.4M256.8 231.9l0.0 1.0M271.9 259.8l-0.2 1.4M269.5 233.2l0.1 0.5M267.2 240.5l-0.2 1.4M268.6 237.6l-0.1 1.3M267.0 225.7l-0.8 1.3M260.5 247.0l-0.3 0.3M281.2 233.1l-0.7 1.0M277.5 243.3l0.8 0.5M253.1 252.6l0.3 0.8M252.7 241.5l-0.7 1.1M272.8 237.1l0.2 0.8M267.3 252.7l-0.0 1.3M261.8 240.7l-0.4 0.8M274.8 245.3l-0.1 0.5M245.8 237.7l-0.2 1.2M269.4 235.9l0.2 1.1M270.0 239.1l0.4 1.4M270.6 253.4l-0.2 1.0M265.1 233.6l0.0 0.9M267.1 226.8l-0.2 1.0M264.2 227.2l-0.2 0.9M274.3 239.3l-0.5 1.0M259.6 238.9l-0.7 1.1M278.8 243.0l0.1 0.6M263.7 237.0l0.7 0.7M267.0 244.3l-0.3 0.4M256.7 236.8l0.3 0.8M266.9 233.9l0.3 0.3M259.2 241.8l-0.4 1.1M252.3 256.4l0.6 0.9M280.1 239.9l-0.6 1.3M261.0 246.4l-0.2 0.6M264.4 244.1l-1.0 0.9M262.4 220.5l0.7 1.3M258.3 242.6l-0.2 0.7M292.3 292.4l0.1 0.7M294.3 267.8l0.5 0.3M298.1 296.6l-0.2 1.2M284.8 288.5l-0.5 1.2M294.9 291.0l-0.4 1.8M285.6 302.9l-0.2 0.7M302.6 289.3l0.3 0.6M297.2 276.9l-0.3 1.3M283.6 301.7l0.1 0.8M297.5 293.7l0.4 1.3M297.0 288.1l0.4 0.5M297.8 295.1l-0.7 1.7M295.0 287.1l0.0 1.4M300.1 309.9l-0.1 1.9M299.2 308.1l-0.9 1.3M315.2 294.4l0.1 0.9M296.9 282.2l-0.6 0.4M301.3 302.1l0.3 1.6M285.9 264.3l0.5 0.8M299.4 312.7l0.6 1.5M290.9 290.2l0.1 1.9M277.3 289.7l-0.6 1.0M283.4 301.8l0.1 1.2M288.5 307.6l0.4 0.8M313.8 291.8l0.3 1.6M290.2 294.9l-0.2 1.0M286.7 277.4l0.2 1.0M287.7 310.2l0.3 0.4M297.5 283.7l-0.7 1.7M301.1 305.4l-0.1 0.6M307.1 298.6l-0.6 0.4M298.9 298.2l0.8 1.6M284.1 281.4l-0.4 0.5M300.9 288.1l-0.8 1.3M291.3 291.4l0.7 1.8M303.8 289.3l0.0 1.3M294.3 288.0l1.3 0.8M304.0 288.9l-0.2 1.8M294.0 316.7l0.4 1.4M305.7 298.3l0.6 0.5M297.0 296.3l0.1 1.3M304.4 277.4l0.7 0.4M289.7 290.4l0.2 1.3M302.4 286.1l-1.0 0.7M299.4 291.4l-0.2 0.8M296.2 286.6l0.1 0.7M282.0 295.0l-0.4 1.3M298.5 309.5l0.1 1.3M294.9 299.8l-0.1 0.6M313.4 279.0l-1.2 1.5M295.2 284.5l-0.3 1.1M302.0 290.4l-0.2 1.7M290.5 292.0l0.5 1.3M300.0 283.9l-0.3 0.9M291.9 300.3l-0.5 1.7M283.0 267.8l-0.1 0.6M304.8 279.7l-0.1 0.5M292.1 289.4l0.1 1.4M294.0 284.1l-0.3 1.0M281.0 300.4l-0.0 1.3" fill="none" stroke="#f6a9c6" stroke-width="0.5" opacity="0.45" stroke-linecap="round"/>
<path d="M42.2 388.1l0.6 1.2M53.3 387.8l0.2 1.0M31.9 402.0l0.3 0.8M51.5 395.9l0.0 1.1M68.4 392.2l0.0 0.9M35.9 398.1l-0.1 0.6M47.3 403.0l-0.9 1.8M40.3 389.5l0.9 1.5M38.1 403.4l-0.0 0.9M59.4 389.5l-0.3 1.4M60.1 396.7l-0.3 1.4M29.7 384.9l-0.2 0.6M65.8 389.6l-0.6 1.6M57.7 390.4l-1.3 1.2M67.2 412.7l-0.3 0.8M61.5 376.6l-0.3 0.6M65.8 388.0l-0.4 1.0M65.3 401.5l-0.1 0.7M27.9 415.6l1.1 1.5M44.6 385.5l1.0 1.5M78.2 390.7l-0.3 1.0M47.1 403.8l-0.3 0.6M73.6 379.4l0.0 1.8M64.7 403.2l-0.3 1.8M52.3 399.4l0.3 1.1M58.7 393.6l-0.2 1.5M33.5 395.6l-0.6 0.8M38.2 387.6l0.3 1.8M38.5 398.3l-0.7 1.3M54.9 410.5l-0.9 1.5M56.0 398.8l0.7 1.4M46.7 390.2l-0.2 1.2M54.2 395.9l-0.3 0.9M51.5 397.4l-0.6 1.3M68.7 394.3l1.2 1.4M42.6 394.3l0.0 1.1M62.4 403.9l0.3 1.1M52.8 401.3l0.1 0.8M42.7 400.0l0.1 0.8M38.0 414.4l-0.1 0.7M210.2 258.2l0.6 1.3M201.2 262.0l-0.6 0.8M187.2 261.0l0.1 0.7M201.8 259.8l-0.4 0.9M181.3 259.8l0.4 0.7M183.8 261.5l0.3 0.4M181.3 268.8l-0.7 1.0M181.0 255.3l0.3 0.7M181.5 259.4l-0.2 0.8M214.6 267.0l0.1 1.0M207.1 266.7l-0.1 0.7M184.1 252.8l0.1 1.1M203.5 256.6l0.3 0.9M196.4 251.2l-0.1 0.4" fill="none" stroke="#f6a9c6" stroke-width="0.5" opacity="0.4" stroke-linecap="round"/>
<path d="M144.2 352.6l-0.4 0.9M135.5 348.1l-0.7 1.5M139.3 333.7l0.9 0.6M141.3 343.8l-0.3 1.1M132.3 327.2l0.6 0.9M141.3 343.5l-0.1 0.9M138.4 344.3l0.4 0.9M151.3 337.5l-0.6 0.3M135.6 350.5l0.2 1.5M147.7 332.9l0.7 1.6M144.8 331.9l-0.1 1.6M152.8 346.2l0.7 1.7M135.6 341.9l0.5 1.3M149.4 334.9l-0.4 1.4M145.5 339.7l0.1 0.7M134.6 332.1l-1.0 0.9M131.3 336.8l-0.1 1.3M130.7 339.1l-0.4 1.6M117.1 338.1l0.1 0.9M130.3 331.8l-0.7 0.8M142.0 345.7l-1.1 0.5M154.7 327.4l-0.2 0.7M143.8 340.1l0.4 0.5M135.7 339.6l0.5 1.7M139.9 331.5l-0.2 0.8M159.3 334.9l0.2 0.9M147.4 347.0l-0.9 0.8M133.4 333.2l-0.5 1.2M125.2 344.9l-0.3 0.8M130.1 314.5l-0.7 0.8M115.4 269.4l-0.9 1.7M110.9 303.5l0.8 0.7M90.5 307.8l0.5 1.7M128.2 308.9l-0.4 1.4M111.5 301.6l0.7 1.3M102.3 302.3l-0.1 0.6M109.3 299.1l0.4 0.8M112.1 297.4l0.3 1.3M106.2 303.7l-1.7 1.0M101.3 300.0l-0.2 1.6M119.5 293.5l-0.2 1.0M100.1 284.2l0.5 1.3M117.4 286.1l-0.8 1.5M112.8 311.4l0.5 1.5M89.2 294.6l0.0 0.7M117.9 322.4l0.7 0.5M110.3 308.8l0.1 1.5M104.6 306.1l0.6 1.2M104.7 309.9l-0.6 0.3M118.4 297.3l-0.8 1.9M110.4 304.9l0.9 1.6M120.5 298.1l-0.2 0.9M113.3 285.1l0.1 1.6M99.1 296.7l0.2 0.8M94.3 308.9l-0.1 0.9M93.6 299.5l0.2 0.7M114.5 292.1l0.3 0.5M104.2 308.4l0.9 1.2M97.4 321.1l0.2 0.9M113.4 283.7l0.4 1.3M109.9 302.6l-1.0 1.1M116.5 282.4l0.9 1.3M112.6 290.3l0.9 1.8M105.5 282.8l-0.8 1.3M99.0 294.5l-0.5 1.7M111.5 309.5l0.1 1.2M110.2 278.1l0.2 1.1M123.5 287.9l-0.1 1.0M135.1 302.0l-0.6 0.9M104.8 305.8l-0.2 1.1M151.2 293.6l0.4 1.5M150.2 278.0l0.1 1.6M144.9 292.2l0.2 0.5M144.8 296.0l0.0 0.6M137.9 287.7l0.0 0.8M155.1 295.9l0.4 0.8M146.1 294.7l-0.2 0.5M138.1 287.1l-0.6 1.6M148.9 302.4l0.4 1.6M163.2 280.9l-0.6 0.3M155.6 301.0l0.7 0.6M154.3 293.1l-0.4 1.3M150.8 298.7l0.3 0.7M141.2 303.4l-0.4 1.7M145.6 303.4l-0.7 0.6M138.2 287.8l0.4 0.9M156.6 305.2l0.4 1.7M132.7 288.3l-0.2 1.1M160.8 289.9l0.4 1.5M143.3 284.1l-0.0 1.0" fill="none" stroke="#f6a9c6" stroke-width="0.5" opacity="0.35" stroke-linecap="round"/>
<path d="M199.9 314.7l-0.4 0.6M200.7 310.4l-0.5 1.7M208.5 308.4l-0.9 1.1M201.1 297.9l-0.2 1.9M207.6 310.8l-0.1 1.3M199.5 312.3l-1.5 1.3M203.2 308.2l-0.8 0.6M201.4 311.6l-0.9 1.1M204.8 315.1l-0.4 1.2M201.7 310.3l-0.7 0.5M202.6 306.7l-1.3 1.4M209.1 311.9l-0.5 0.6M202.1 306.0l-0.6 1.4M198.5 318.3l-0.3 0.9M204.5 317.8l-0.2 0.7M201.5 310.7l-0.6 1.2M205.4 312.2l-0.9 1.4M201.8 311.1l-0.5 0.9M203.3 313.0l-1.4 0.3M203.2 314.2l0.7 1.4M205.6 313.5l-0.7 0.4M203.9 307.4l0.4 1.7M207.4 310.8l0.1 1.1M207.5 307.5l-0.5 0.9M205.2 308.3l-1.5 1.1M205.9 312.8l-0.4 1.3M204.4 312.1l-1.2 0.9M201.2 311.8l-0.5 1.5M207.5 309.1l-0.7 1.5M205.4 317.1l-1.0 0.3M197.0 311.3l0.0 1.2M202.3 309.8l-0.1 1.9M199.4 323.1l-0.4 0.4M200.2 309.4l-0.2 0.7M207.8 306.3l-0.7 0.6M200.4 309.1l-1.3 0.7M208.2 313.7l-1.1 0.9M213.9 310.4l-0.8 0.6M193.6 309.4l-0.2 1.1M207.1 307.7l-1.3 1.5" fill="none" stroke="#ee4565" stroke-width="0.6" opacity="0.55" stroke-linecap="round"/>
<path d="M197.3 337.3l-0.1 1.6M209.3 343.1l-0.1 1.8M204.4 355.9l-0.0 0.7M203.5 358.5l-0.1 1.8M209.7 351.4l-0.2 1.1M207.0 355.5l-1.1 1.2M201.8 342.2l-0.4 0.7M203.6 351.0l-0.7 0.6M215.1 353.1l-0.6 0.5M204.4 344.0l-1.2 0.8M200.3 350.7l0.5 1.9M201.8 350.1l-0.4 1.0M212.3 349.0l0.0 1.5M202.8 343.7l0.3 0.6M211.3 349.1l-0.3 0.5M204.0 359.7l0.5 0.3M204.0 358.9l0.1 1.0M199.5 345.9l-0.1 1.7M199.3 350.5l1.8 0.5M211.9 353.8l-0.2 1.6M206.5 350.8l0.1 1.1M195.5 343.4l0.4 1.8M199.9 349.2l0.4 0.8M214.6 355.6l0.3 0.9M207.0 351.7l0.6 1.0M239.5 349.3l0.2 0.9M229.4 369.9l-0.3 0.8M233.2 353.7l-0.1 1.3M233.5 356.1l-0.5 0.9M230.6 348.9l0.7 1.7M231.4 354.8l0.5 1.5M241.1 367.3l0.1 1.7M230.4 352.5l0.4 1.5M241.2 359.9l-0.2 1.2M234.6 365.1l1.5 1.4M235.2 361.2l-0.2 0.8M228.4 358.1l-0.6 0.7M236.4 355.3l1.4 1.3M241.1 354.5l0.0 1.7M235.8 355.9l-0.2 0.7M239.9 350.7l0.4 1.9M229.8 357.9l-1.3 0.9M233.0 352.2l0.1 0.7M237.7 359.9l0.2 1.2M234.6 346.9l0.2 1.9M242.0 349.8l0.2 1.3M236.0 362.2l0.1 0.6M241.5 350.8l-0.0 1.6M237.8 354.0l0.2 1.4M225.9 312.7l-1.4 1.1M219.0 328.9l-0.2 1.7M223.4 330.8l0.8 -0.0M227.1 317.5l-0.2 1.4M229.3 328.5l-1.2 1.5M225.7 317.2l0.7 1.4M223.0 318.3l0.1 1.1M227.1 319.0l0.6 0.9M226.2 307.0l0.2 1.3M226.5 334.3l-0.2 1.0M226.5 311.9l-0.2 1.7M225.9 325.1l-0.3 0.7M231.1 320.5l-0.5 0.5M223.6 330.9l-0.2 1.7M227.8 320.9l-0.0 0.9M225.0 327.4l-0.7 1.1M225.1 319.2l0.3 0.7M230.2 307.1l-0.7 1.5M226.0 308.4l0.3 1.0M225.5 326.6l0.4 1.4M226.3 307.3l-0.3 0.7M227.9 313.2l0.1 1.0" fill="none" stroke="#f27aa8" stroke-width="0.5" opacity="0.4" stroke-linecap="round"/>
<path d="M243.5 262.3l-0.1 0.5M242.5 261.7l-0.3 1.3M244.5 260.9l-0.0 0.8M244.9 261.3l-0.3 1.0M240.2 259.6l0.1 1.5M241.0 262.1l0.5 1.3M242.9 260.2l1.1 1.0M240.7 260.8l0.5 0.8M240.5 261.1l0.4 0.6M242.5 257.3l-0.5 1.3M243.1 261.0l0.2 0.6M244.7 260.6l0.1 0.4M243.6 260.9l-0.5 1.1M243.4 260.6l0.5 1.1M240.4 259.7l-0.6 1.4M240.5 260.1l-0.4 0.9M243.6 262.2l0.1 0.4M242.7 259.1l0.0 0.5M244.2 264.8l-0.0 0.9M244.7 260.1l-0.4 1.5M242.2 261.1l-0.2 0.8M246.5 260.8l0.2 1.3M244.5 257.2l-0.1 0.7M244.8 259.3l0.6 0.9M240.9 263.3l-0.1 1.0M242.5 261.4l-0.1 1.2" fill="none" stroke="#dd3a98" stroke-width="0.7" opacity="0.65" stroke-linecap="round"/>
<path d="M272.7 210.1l-0.5 1.1M270.3 210.4l-0.4 0.9M271.4 210.7l-0.6 0.6M268.7 211.2l0.7 1.0M271.5 212.3l-0.3 0.3M269.9 209.6l-0.1 0.4M271.5 211.5l-0.6 1.2M270.8 208.1l-0.0 0.8M270.9 209.5l0.2 1.0M270.2 211.5l-0.4 0.9M269.9 210.6l0.1 0.8M270.8 210.4l0.2 1.1" fill="none" stroke="#e8206f" stroke-width="0.7" opacity="0.7" stroke-linecap="round"/>
<path d="M279.8 230.6l0.5 0.3M280.4 232.7l-0.2 0.3M279.5 231.7l-0.0 0.6M280.1 232.0l0.1 0.6M280.6 231.9l0.1 1.0" fill="none" stroke="#a338cf" stroke-width="0.7" opacity="0.6" stroke-linecap="round"/>
<path d="M290.6 270.5l0.1 0.6M294.9 271.9l-0.2 1.2M297.3 272.0l0.2 1.8M284.6 275.8l1.5 1.1M301.1 269.9l1.7 0.5M294.4 272.5l1.5 1.2M303.8 267.8l0.2 0.5M297.6 272.0l-0.0 1.1M285.9 273.2l-0.4 0.9M304.2 276.7l1.1 1.4M293.8 271.7l0.2 1.8M295.1 272.1l0.4 1.0M298.1 273.5l0.4 0.9M292.9 275.5l-0.0 1.2M301.2 270.0l0.5 0.8M307.3 269.2l0.9 1.6M290.0 278.3l0.8 1.0M302.4 273.9l1.6 0.9M298.3 268.3l0.4 0.4M290.1 272.9l0.4 1.5M295.4 269.1l0.6 0.8M299.2 269.2l0.6 0.8M295.8 269.6l-0.7 0.9M293.0 270.7l1.4 0.4M295.3 271.9l0.4 1.2M292.3 264.5l0.6 0.9M293.6 272.2l-0.7 1.2M290.5 277.0l0.5 1.1M287.1 277.6l1.1 1.1M293.6 270.2l1.3 0.8M300.3 268.5l0.8 0.6M299.4 270.2l0.7 0.4M290.6 274.6l0.5 0.3M291.6 269.8l1.4 0.8M300.0 270.5l0.8 0.4M287.3 271.4l-0.0 0.5M298.1 274.8l1.1 1.5M288.3 278.6l1.1 1.5M301.0 272.6l0.2 0.8M297.6 268.2l0.7 0.3M293.1 281.2l-0.3 1.3M280.2 281.1l0.7 1.5M296.1 267.7l1.0 1.3M291.2 271.1l1.2 0.4M292.9 272.1l-0.1 0.6M302.2 274.8l1.0 1.5M294.2 272.5l1.6 0.8M294.3 271.5l1.4 1.2M289.6 272.6l1.0 0.0M292.1 274.6l0.4 1.5" fill="none" stroke="#ee4565" stroke-width="0.6" opacity="0.5" stroke-linecap="round"/>
<path d="M240.1 313.8l-1.6 0.8M243.4 300.2l-2.4 0.9M243.8 314.3l-2.0 1.6M239.8 320.4l-0.6 0.9M228.4 312.1l-0.7 0.9M247.9 299.6l-1.7 0.9M231.9 310.1l-2.2 1.0M240.5 312.8l-0.8 0.7M241.8 313.2l-1.2 1.6M241.0 313.7l0.2 1.6M245.9 311.9l-0.5 0.5M244.9 312.6l0.0 0.9M251.1 306.5l-0.9 1.5M243.3 319.6l-0.4 0.7M238.0 310.3l-0.6 1.9M245.0 308.3l-0.3 2.0M252.6 315.7l-0.8 1.1M242.1 308.4l-1.5 1.6M239.4 320.2l-1.5 1.1M236.8 310.5l-2.1 0.6M235.9 309.9l-1.1 0.6M243.8 316.6l-1.8 1.7M251.9 307.9l-1.2 0.9M242.9 320.1l-1.9 1.2M245.3 315.0l-0.1 1.7M242.6 321.0l-1.4 1.4M243.0 313.0l-0.7 0.6M247.1 313.8l-0.9 1.1M244.6 311.8l-0.7 2.1M243.1 308.8l-1.3 0.7M243.6 308.0l-0.0 1.9M236.4 310.1l0.2 1.8M249.3 319.3l-0.5 1.9M240.6 311.4l-1.6 1.8M239.7 309.5l-0.5 2.4M247.3 306.9l-1.5 1.1M244.6 309.6l-0.8 2.0M236.9 304.0l-1.8 1.8M236.4 318.3l-1.3 2.1M245.1 303.1l-0.7 1.0M239.1 298.4l-0.4 1.8M241.8 309.0l-0.9 0.1M238.2 308.5l-2.3 1.1M252.6 315.7l-0.6 1.1M243.9 321.5l-1.3 1.5M249.0 302.3l-0.8 0.6M237.6 314.3l-1.5 1.8M242.6 318.5l-1.3 1.4M245.4 312.9l-0.8 1.4M240.2 314.7l-0.4 1.8M244.1 306.0l-0.1 1.8M248.9 312.2l-0.8 1.2M248.6 319.7l0.1 0.8M246.7 311.6l-0.7 0.9M240.4 311.1l-1.7 1.5M253.8 315.9l-0.5 1.4M243.0 308.3l-2.1 1.2M254.4 305.4l-0.5 0.7M243.9 317.6l-0.7 1.0M246.8 313.8l-0.1 1.0M244.1 307.9l-0.4 0.6M249.9 310.2l-0.6 0.8M246.1 309.6l-1.2 1.2M242.1 306.8l-0.6 1.8M248.9 322.0l-2.4 0.7M246.8 304.0l-1.6 1.6M249.7 309.9l-0.9 1.0M247.2 312.5l-0.8 1.7M248.5 317.7l0.3 1.1M246.4 312.6l-0.7 1.8M229.5 314.2l-0.3 1.1M245.7 302.7l-0.8 1.2M249.3 305.5l-0.8 0.8M250.9 312.1l-0.8 1.3M248.9 311.1l-0.6 1.1M247.5 304.2l-0.8 0.1M244.1 315.7l-1.0 0.5M245.6 311.0l-1.1 1.8M240.3 305.6l0.6 1.0M231.4 307.3l-0.3 0.7M235.9 314.0l-0.2 1.5M242.3 305.5l-1.4 1.6M238.9 309.0l-0.0 1.3M240.3 313.4l0.0 1.8M252.0 307.2l-2.2 0.3M251.2 311.0l-1.4 1.6M242.5 318.2l-0.2 0.8M238.8 306.2l-0.1 2.2M241.6 316.7l-0.7 1.6M248.6 322.0l-0.3 0.7M236.9 315.8l-0.8 1.5M237.7 310.2l0.6 2.4M237.8 306.9l-1.3 1.9M250.1 321.1l-0.7 0.5M252.0 309.2l-0.2 0.8M248.5 315.0l-1.0 0.8M238.3 311.9l-0.4 1.1M249.9 319.4l-0.7 0.8M238.6 307.5l-1.4 0.7M241.3 311.8l-1.3 1.3M246.3 318.8l-1.1 1.7M250.5 321.8l-0.5 0.8M240.5 309.7l-1.9 1.3M252.0 306.2l-1.3 0.7M244.1 311.9l-0.4 1.5M246.9 312.4l-0.3 1.7M244.1 311.6l-0.7 1.3M239.8 310.6l-0.5 0.8M242.0 314.2l-0.9 0.3M255.7 313.4l-2.4 0.3M236.2 309.4l-0.5 2.1M241.3 307.0l-0.9 1.7M241.9 301.1l0.0 2.2M244.7 310.6l-0.8 0.6M242.9 307.1l-0.5 1.0M230.0 314.5l-1.4 0.1M236.9 310.5l-2.2 1.1M241.5 302.1l-0.1 0.7M243.0 309.8l-1.1 2.1M243.7 322.4l-0.8 0.7M245.9 314.4l-0.6 1.9M242.7 309.3l-0.6 0.8M246.6 323.0l-0.3 1.0M234.9 314.7l-1.8 1.2M245.6 309.0l0.0 0.8M236.4 305.5l-1.0 1.7M244.7 314.2l-0.7 1.3M241.1 308.3l-1.3 0.3M241.9 311.6l-0.7 1.0M245.9 306.9l-1.0 1.6" fill="none" stroke="#e8206f" stroke-width="0.6" opacity="0.55" stroke-linecap="round"/>
<path d="M259.6 311.2l0.3 1.7M272.9 312.3l-0.2 1.1M256.9 311.3l0.3 1.2M262.2 311.2l0.0 1.4M256.1 310.5l0.5 0.4M260.2 310.7l-0.5 2.0M267.9 309.4l-0.1 1.4M264.9 311.0l0.3 1.7M266.2 312.7l0.4 1.7M257.9 309.0l0.9 1.7M260.4 311.6l-0.0 0.8M263.4 310.6l0.4 0.6M268.5 311.2l-0.5 2.1M270.3 313.5l0.3 1.1M266.9 311.0l0.5 1.2M262.2 312.7l0.3 0.8M257.4 313.6l-1.4 1.7M265.8 311.6l0.0 1.6M269.0 310.4l0.2 2.2M257.7 312.5l0.3 0.8M261.1 311.7l-1.7 1.3M263.6 311.8l-0.3 1.8M255.2 310.8l0.4 1.1M266.2 313.0l0.6 2.0M256.9 311.1l0.5 0.7M261.4 312.8l-0.1 1.8M259.1 315.2l-0.0 1.6M258.1 312.2l0.3 0.8M258.3 311.8l-0.5 1.3M258.8 312.1l-0.8 0.9M252.8 310.2l-0.0 1.1M264.9 311.2l0.3 2.2M272.7 312.6l-0.1 2.0M245.2 309.9l-0.8 1.4" fill="none" stroke="#ee4565" stroke-width="0.6" opacity="0.45" stroke-linecap="round"/>
</g>
</g>
<rect x="4.6" y="199.5" width="322.5" height="264.1" fill="none" stroke="#000" stroke-width="1.4"/>
<text x="5.8" y="214.6" font-size="12.5" font-weight="bold" text-anchor="start" fill="#000">(a)</text>
<text x="186.8" y="394.3" font-size="10.75" font-weight="bold" text-anchor="start" fill="#000">Year of recultivation</text>
<rect x="188.2" y="401.70" width="7.9" height="4" fill="#fde3e3" stroke="#9a8f8f" stroke-width="0.5"/>
<text x="199.1" y="406.75" font-size="8.45" font-weight="bold" text-anchor="start" fill="#000">2003</text>
<rect x="188.2" y="410.73" width="7.9" height="4" fill="#fccaca" stroke="#9a8f8f" stroke-width="0.5"/>
<text x="199.1" y="415.78" font-size="8.45" font-weight="bold" text-anchor="start" fill="#000">2004</text>
<rect x="188.2" y="419.76" width="7.9" height="4" fill="#fbb4b4" stroke="#9a8f8f" stroke-width="0.5"/>
<text x="199.1" y="424.81" font-size="8.45" font-weight="bold" text-anchor="start" fill="#000">2005</text>
<rect x="188.2" y="428.79" width="7.9" height="4" fill="#f99d9d" stroke="#9a8f8f" stroke-width="0.5"/>
<text x="199.1" y="433.84" font-size="8.45" font-weight="bold" text-anchor="start" fill="#000">2006</text>
<rect x="188.2" y="437.82" width="7.9" height="4" fill="#f88787" stroke="#9a8f8f" stroke-width="0.5"/>
<text x="199.1" y="442.87" font-size="8.45" font-weight="bold" text-anchor="start" fill="#000">2007</text>
<rect x="223.5" y="401.70" width="7.9" height="4" fill="#f76f6f" stroke="#9a8f8f" stroke-width="0.5"/>
<text x="234.4" y="406.75" font-size="8.45" font-weight="bold" text-anchor="start" fill="#000">2008</text>
<rect x="223.5" y="410.73" width="7.9" height="4" fill="#f55a5a" stroke="#9a8f8f" stroke-width="0.5"/>
<text x="234.4" y="415.78" font-size="8.45" font-weight="bold" text-anchor="start" fill="#000">2009</text>
<rect x="223.5" y="419.76" width="7.9" height="4" fill="#f34242" stroke="#9a8f8f" stroke-width="0.5"/>
<text x="234.4" y="424.81" font-size="8.45" font-weight="bold" text-anchor="start" fill="#000">2010</text>
<rect x="223.5" y="428.79" width="7.9" height="4" fill="#f12b3a" stroke="#9a8f8f" stroke-width="0.5"/>
<text x="234.4" y="433.84" font-size="8.45" font-weight="bold" text-anchor="start" fill="#000">2011</text>
<rect x="223.5" y="437.82" width="7.9" height="4" fill="#e6174f" stroke="#9a8f8f" stroke-width="0.5"/>
<text x="234.4" y="442.87" font-size="8.45" font-weight="bold" text-anchor="start" fill="#000">2012</text>
<rect x="258.1" y="401.70" width="7.9" height="4" fill="#db1473" stroke="#9a8f8f" stroke-width="0.5"/>
<text x="269.0" y="406.75" font-size="8.45" font-weight="bold" text-anchor="start" fill="#000">2013</text>
<rect x="258.1" y="410.73" width="7.9" height="4" fill="#d01493" stroke="#9a8f8f" stroke-width="0.5"/>
<text x="269.0" y="415.78" font-size="8.45" font-weight="bold" text-anchor="start" fill="#000">2014</text>
<rect x="258.1" y="419.76" width="7.9" height="4" fill="#c516b0" stroke="#9a8f8f" stroke-width="0.5"/>
<text x="269.0" y="424.81" font-size="8.45" font-weight="bold" text-anchor="start" fill="#000">2015</text>
<rect x="258.1" y="428.79" width="7.9" height="4" fill="#bb17cb" stroke="#9a8f8f" stroke-width="0.5"/>
<text x="269.0" y="433.84" font-size="8.45" font-weight="bold" text-anchor="start" fill="#000">2016</text>
<rect x="258.1" y="437.82" width="7.9" height="4" fill="#a91be0" stroke="#9a8f8f" stroke-width="0.5"/>
<text x="269.0" y="442.87" font-size="8.45" font-weight="bold" text-anchor="start" fill="#000">2017</text>
<rect x="293.4" y="401.70" width="7.9" height="4" fill="#8c1fee" stroke="#9a8f8f" stroke-width="0.5"/>
<text x="304.3" y="406.75" font-size="8.45" font-weight="bold" text-anchor="start" fill="#000">2018</text>
<rect x="293.4" y="410.73" width="7.9" height="4" fill="#6f1ff7" stroke="#9a8f8f" stroke-width="0.5"/>
<text x="304.3" y="415.78" font-size="8.45" font-weight="bold" text-anchor="start" fill="#000">2019</text>
<rect x="293.4" y="419.76" width="7.9" height="4" fill="#5a14ff" stroke="#9a8f8f" stroke-width="0.5"/>
<text x="304.3" y="424.81" font-size="8.45" font-weight="bold" text-anchor="start" fill="#000">2020</text>
<rect x="136" y="455.7" width="155.8" height="3" fill="#000"/>
<rect x="155.5" y="456.3" width="19.1" height="1.8" fill="#fff"/>
<rect x="193.7" y="456.3" width="19.8" height="1.8" fill="#fff"/>
<text x="136" y="452.7" font-size="5.8" font-weight="normal" text-anchor="middle" fill="#000">0</text>
<text x="174.6" y="452.7" font-size="5.8" font-weight="normal" text-anchor="middle" fill="#000">300</text>
<text x="213.5" y="452.7" font-size="5.8" font-weight="normal" text-anchor="middle" fill="#000">600</text>
<text x="291.8" y="452.7" font-size="5.8" font-weight="normal" text-anchor="middle" fill="#000">1200</text>
<text x="292.5" y="459.3" font-size="5.9" font-weight="normal" text-anchor="start" fill="#000">Kilometers</text>
</svg>
</body></html>
